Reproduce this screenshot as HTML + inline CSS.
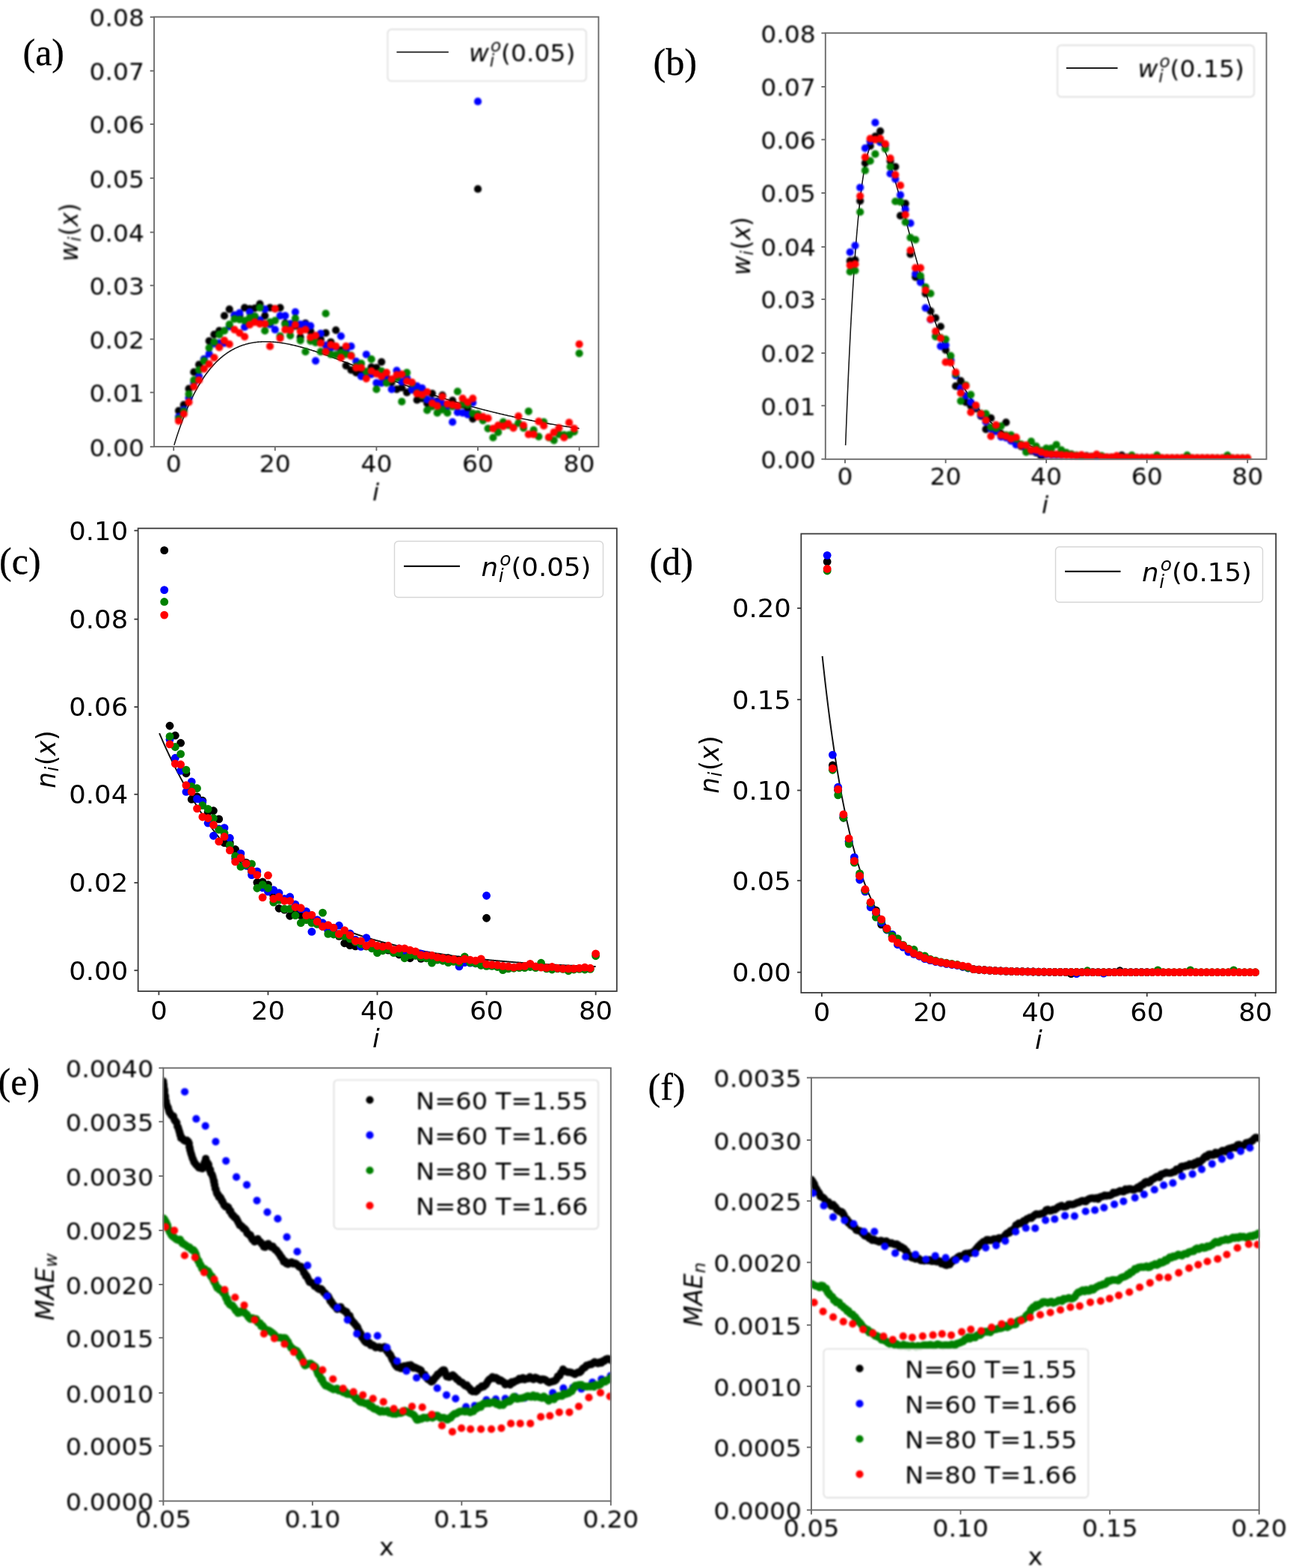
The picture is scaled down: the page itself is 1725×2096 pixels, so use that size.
<!DOCTYPE html>
<html lang="en"><head><meta charset="utf-8"><title>Figure</title>
<style>
html,body{margin:0;padding:0;background:#fff;}
body{width:1725px;height:2096px;overflow:hidden;}
svg{display:block;}
text{white-space:pre;}
</style></head><body>
<svg xmlns="http://www.w3.org/2000/svg" width="1725" height="2096" viewBox="0 0 1725 2096">
<rect width="1725" height="2096" fill="#fff"/>
<defs>
<clipPath id="c0"><rect x="206.1" y="22.6" width="594.3" height="574.5"/></clipPath>
<filter id="bl0" x="-5%" y="-5%" width="110%" height="110%" color-interpolation-filters="sRGB"><feGaussianBlur stdDeviation="0.8"/></filter>
<clipPath id="c1"><rect x="1103.8" y="44.2" width="589.7" height="569.6"/></clipPath>
<filter id="bl1" x="-5%" y="-5%" width="110%" height="110%" color-interpolation-filters="sRGB"><feGaussianBlur stdDeviation="0.8"/></filter>
<clipPath id="c2"><rect x="184.65" y="706.3" width="640.15" height="618.7"/></clipPath>
<clipPath id="c3"><rect x="1071.3" y="713.5" width="634.9" height="613.5"/></clipPath>
<clipPath id="c4"><rect x="218.4" y="1427.6" width="598.4" height="578.9"/></clipPath>
<filter id="bl4" x="-5%" y="-5%" width="110%" height="110%" color-interpolation-filters="sRGB"><feGaussianBlur stdDeviation="0.8"/></filter>
<clipPath id="c5"><rect x="1084.9" y="1440.6" width="598.8" height="577.9"/></clipPath>
<filter id="bl5" x="-5%" y="-5%" width="110%" height="110%" color-interpolation-filters="sRGB"><feGaussianBlur stdDeviation="0.8"/></filter>
</defs>
<path d="M232.88 594.95 L234.23 590.54 L235.59 586.24 L236.94 582.05 L238.3 577.98 L239.65 574.01 L241 570.14 L242.36 566.38 L243.71 562.71 L245.07 559.14 L246.42 555.66 L247.78 552.28 L249.13 548.99 L250.48 545.78 L251.84 542.67 L253.19 539.63 L254.55 536.68 L255.9 533.81 L257.26 531.01 L258.61 528.29 L259.96 525.65 L261.32 523.08 L262.67 520.59 L264.03 518.16 L265.38 515.8 L266.74 513.51 L268.09 511.28 L269.44 509.12 L270.8 507.02 L272.15 504.98 L273.51 503 L274.86 501.07 L276.22 499.21 L277.57 497.4 L278.92 495.65 L280.28 493.95 L281.63 492.3 L282.99 490.7 L284.34 489.15 L285.7 487.66 L287.05 486.21 L288.4 484.8 L289.76 483.44 L291.11 482.13 L292.47 480.86 L293.82 479.63 L295.18 478.45 L296.53 477.3 L297.88 476.2 L299.24 475.14 L300.59 474.11 L301.95 473.12 L303.3 472.17 L304.66 471.25 L306.01 470.37 L307.36 469.52 L308.72 468.71 L310.07 467.93 L311.43 467.18 L312.78 466.47 L314.14 465.78 L315.49 465.13 L316.84 464.5 L318.2 463.9 L319.55 463.34 L320.91 462.8 L322.26 462.28 L323.62 461.79 L324.97 461.33 L326.33 460.9 L327.68 460.49 L329.03 460.1 L330.39 459.74 L331.74 459.4 L333.1 459.08 L334.45 458.78 L335.81 458.51 L337.16 458.26 L338.51 458.03 L339.87 457.82 L341.22 457.63 L342.58 457.45 L343.93 457.3 L345.29 457.17 L346.64 457.05 L347.99 456.95 L349.35 456.87 L350.7 456.81 L352.06 456.76 L353.41 456.73 L354.77 456.72 L356.12 456.72 L357.47 456.74 L358.83 456.77 L360.18 456.82 L361.54 456.88 L362.89 456.95 L364.25 457.04 L365.6 457.14 L366.95 457.25 L368.31 457.38 L369.66 457.52 L371.02 457.67 L372.37 457.83 L373.73 458 L375.08 458.19 L376.43 458.39 L377.79 458.59 L379.14 458.81 L380.5 459.04 L381.85 459.28 L383.21 459.53 L384.56 459.78 L385.91 460.05 L387.27 460.32 L388.62 460.61 L389.98 460.9 L391.33 461.2 L392.69 461.51 L394.04 461.83 L395.39 462.15 L396.75 462.49 L398.1 462.83 L399.46 463.17 L400.81 463.53 L402.17 463.89 L403.52 464.26 L404.87 464.63 L406.23 465.01 L407.58 465.4 L408.94 465.79 L410.29 466.19 L411.65 466.59 L413 467 L414.35 467.41 L415.71 467.83 L417.06 468.25 L418.42 468.68 L419.77 469.12 L421.13 469.56 L422.48 470 L423.84 470.44 L425.19 470.89 L426.54 471.35 L427.9 471.81 L429.25 472.27 L430.61 472.74 L431.96 473.21 L433.32 473.68 L434.67 474.15 L436.02 474.63 L437.38 475.12 L438.73 475.6 L440.09 476.09 L441.44 476.58 L442.8 477.07 L444.15 477.57 L445.5 478.06 L446.86 478.56 L448.21 479.07 L449.57 479.57 L450.92 480.08 L452.28 480.58 L453.63 481.09 L454.98 481.6 L456.34 482.12 L457.69 482.63 L459.05 483.15 L460.4 483.67 L461.76 484.18 L463.11 484.7 L464.46 485.22 L465.82 485.75 L467.17 486.27 L468.53 486.79 L469.88 487.32 L471.24 487.84 L472.59 488.37 L473.94 488.89 L475.3 489.42 L476.65 489.95 L478.01 490.48 L479.36 491.01 L480.72 491.53 L482.07 492.06 L483.42 492.59 L484.78 493.12 L486.13 493.65 L487.49 494.18 L488.84 494.71 L490.2 495.24 L491.55 495.77 L492.9 496.29 L494.26 496.82 L495.61 497.35 L496.97 497.88 L498.32 498.4 L499.68 498.93 L501.03 499.46 L502.38 499.98 L503.74 500.51 L505.09 501.03 L506.45 501.56 L507.8 502.08 L509.16 502.6 L510.51 503.12 L511.86 503.64 L513.22 504.16 L514.57 504.68 L515.93 505.2 L517.28 505.72 L518.64 506.23 L519.99 506.75 L521.34 507.26 L522.7 507.78 L524.05 508.29 L525.41 508.8 L526.76 509.31 L528.12 509.82 L529.47 510.32 L530.83 510.83 L532.18 511.33 L533.53 511.83 L534.89 512.34 L536.24 512.84 L537.6 513.34 L538.95 513.83 L540.31 514.33 L541.66 514.82 L543.01 515.32 L544.37 515.81 L545.72 516.3 L547.08 516.79 L548.43 517.27 L549.79 517.76 L551.14 518.24 L552.49 518.72 L553.85 519.21 L555.2 519.68 L556.56 520.16 L557.91 520.64 L559.27 521.11 L560.62 521.58 L561.97 522.05 L563.33 522.52 L564.68 522.99 L566.04 523.45 L567.39 523.92 L568.75 524.38 L570.1 524.84 L571.45 525.3 L572.81 525.75 L574.16 526.21 L575.52 526.66 L576.87 527.11 L578.23 527.56 L579.58 528.01 L580.93 528.45 L582.29 528.89 L583.64 529.33 L585 529.77 L586.35 530.21 L587.71 530.65 L589.06 531.08 L590.41 531.51 L591.77 531.94 L593.12 532.37 L594.48 532.8 L595.83 533.22 L597.19 533.64 L598.54 534.06 L599.89 534.48 L601.25 534.9 L602.6 535.31 L603.96 535.72 L605.31 536.13 L606.67 536.54 L608.02 536.95 L609.37 537.35 L610.73 537.75 L612.08 538.15 L613.44 538.55 L614.79 538.95 L616.15 539.34 L617.5 539.74 L618.85 540.13 L620.21 540.51 L621.56 540.9 L622.92 541.28 L624.27 541.67 L625.63 542.05 L626.98 542.43 L628.34 542.8 L629.69 543.18 L631.04 543.55 L632.4 543.92 L633.75 544.29 L635.11 544.66 L636.46 545.02 L637.82 545.38 L639.17 545.74 L640.52 546.1 L641.88 546.46 L643.23 546.81 L644.59 547.17 L645.94 547.52 L647.3 547.87 L648.65 548.21 L650 548.56 L651.36 548.9 L652.71 549.24 L654.07 549.58 L655.42 549.92 L656.78 550.26 L658.13 550.59 L659.48 550.92 L660.84 551.25 L662.19 551.58 L663.55 551.9 L664.9 552.23 L666.26 552.55 L667.61 552.87 L668.96 553.19 L670.32 553.51 L671.67 553.82 L673.03 554.13 L674.38 554.44 L675.74 554.75 L677.09 555.06 L678.44 555.36 L679.8 555.67 L681.15 555.97 L682.51 556.27 L683.86 556.57 L685.22 556.86 L686.57 557.16 L687.92 557.45 L689.28 557.74 L690.63 558.03 L691.99 558.32 L693.34 558.6 L694.7 558.89 L696.05 559.17 L697.4 559.45 L698.76 559.73 L700.11 560 L701.47 560.28 L702.82 560.55 L704.18 560.82 L705.53 561.09 L706.88 561.36 L708.24 561.63 L709.59 561.89 L710.95 562.15 L712.3 562.42 L713.66 562.68 L715.01 562.93 L716.36 563.19 L717.72 563.44 L719.07 563.7 L720.43 563.95 L721.78 564.2 L723.14 564.45 L724.49 564.69 L725.85 564.94 L727.2 565.18 L728.55 565.42 L729.91 565.66 L731.26 565.9 L732.62 566.14 L733.97 566.37 L735.33 566.61 L736.68 566.84 L738.03 567.07 L739.39 567.3 L740.74 567.52 L742.1 567.75 L743.45 567.97 L744.81 568.2 L746.16 568.42 L747.51 568.64 L748.87 568.86 L750.22 569.07 L751.58 569.29 L752.93 569.5 L754.29 569.72 L755.64 569.93 L756.99 570.14 L758.35 570.35 L759.7 570.55 L761.06 570.76 L762.41 570.96 L763.77 571.16 L765.12 571.37 L766.47 571.57 L767.83 571.76 L769.18 571.96 L770.54 572.16 L771.89 572.35 L773.25 572.54 L774.6 572.74" fill="none" stroke="#1c1c1c" stroke-width="1.6" stroke-linejoin="round" clip-path="url(#c0)"/>
<g id="panel-a" filter="url(#bl0)">
<g clip-path="url(#c0)">
<g fill="#000000">
<circle cx="238.98" cy="549.11" r="5.1"/><circle cx="245.76" cy="541.21" r="5.1"/><circle cx="252.54" cy="519.68" r="5.1"/><circle cx="259.32" cy="497.43" r="5.1"/><circle cx="266.1" cy="487.38" r="5.1"/><circle cx="272.88" cy="480.2" r="5.1"/><circle cx="279.66" cy="455.79" r="5.1"/><circle cx="286.44" cy="447.18" r="5.1"/><circle cx="293.22" cy="442.16" r="5.1"/><circle cx="300" cy="422.06" r="5.1"/><circle cx="306.78" cy="413.44" r="5.1"/><circle cx="313.56" cy="421.34" r="5.1"/><circle cx="320.34" cy="421.34" r="5.1"/><circle cx="327.12" cy="411.29" r="5.1"/><circle cx="333.9" cy="412.73" r="5.1"/><circle cx="340.68" cy="412.01" r="5.1"/><circle cx="347.46" cy="406.27" r="5.1"/><circle cx="354.24" cy="422.06" r="5.1"/><circle cx="361.02" cy="411.29" r="5.1"/><circle cx="367.8" cy="412.73" r="5.1"/><circle cx="374.58" cy="411.29" r="5.1"/><circle cx="381.36" cy="432.11" r="5.1"/><circle cx="388.14" cy="439.28" r="5.1"/><circle cx="394.92" cy="435.7" r="5.1"/><circle cx="401.7" cy="450.77" r="5.1"/><circle cx="408.48" cy="432.11" r="5.1"/><circle cx="415.26" cy="442.87" r="5.1"/><circle cx="422.04" cy="450.05" r="5.1"/><circle cx="428.82" cy="453.64" r="5.1"/><circle cx="435.6" cy="445.03" r="5.1"/><circle cx="442.38" cy="457.23" r="5.1"/><circle cx="449.16" cy="441.44" r="5.1"/><circle cx="455.94" cy="468" r="5.1"/><circle cx="462.72" cy="488.81" r="5.1"/><circle cx="469.5" cy="494.55" r="5.1"/><circle cx="476.28" cy="498.14" r="5.1"/><circle cx="483.06" cy="495.27" r="5.1"/><circle cx="489.84" cy="500.3" r="5.1"/><circle cx="496.62" cy="490.97" r="5.1"/><circle cx="503.4" cy="491.68" r="5.1"/><circle cx="510.18" cy="483.79" r="5.1"/><circle cx="516.96" cy="505.32" r="5.1"/><circle cx="523.74" cy="511.06" r="5.1"/><circle cx="530.52" cy="520.4" r="5.1"/><circle cx="537.3" cy="518.24" r="5.1"/><circle cx="544.08" cy="524.7" r="5.1"/><circle cx="550.86" cy="519.68" r="5.1"/><circle cx="557.64" cy="534.75" r="5.1"/><circle cx="564.42" cy="532.6" r="5.1"/><circle cx="571.2" cy="539.06" r="5.1"/><circle cx="577.98" cy="526.14" r="5.1"/><circle cx="584.76" cy="536.19" r="5.1"/><circle cx="591.54" cy="528.29" r="5.1"/><circle cx="598.32" cy="539.78" r="5.1"/><circle cx="605.1" cy="535.47" r="5.1"/><circle cx="611.88" cy="543.37" r="5.1"/><circle cx="618.66" cy="541.21" r="5.1"/><circle cx="625.44" cy="545.52" r="5.1"/><circle cx="632.22" cy="559.87" r="5.1"/><circle cx="639" cy="252.66" r="5.1"/>
</g>
<g fill="#0000ff">
<circle cx="238.98" cy="557" r="5.1"/><circle cx="245.76" cy="547.67" r="5.1"/><circle cx="252.54" cy="531.88" r="5.1"/><circle cx="259.32" cy="511.78" r="5.1"/><circle cx="266.1" cy="503.17" r="5.1"/><circle cx="272.88" cy="480.2" r="5.1"/><circle cx="279.66" cy="473.02" r="5.1"/><circle cx="286.44" cy="459.38" r="5.1"/><circle cx="293.22" cy="458.66" r="5.1"/><circle cx="300" cy="458.66" r="5.1"/><circle cx="306.78" cy="436.41" r="5.1"/><circle cx="313.56" cy="421.34" r="5.1"/><circle cx="320.34" cy="418.47" r="5.1"/><circle cx="327.12" cy="437.13" r="5.1"/><circle cx="333.9" cy="417.03" r="5.1"/><circle cx="340.68" cy="422.77" r="5.1"/><circle cx="347.46" cy="427.8" r="5.1"/><circle cx="354.24" cy="413.44" r="5.1"/><circle cx="361.02" cy="433.54" r="5.1"/><circle cx="367.8" cy="440.72" r="5.1"/><circle cx="374.58" cy="422.06" r="5.1"/><circle cx="381.36" cy="422.06" r="5.1"/><circle cx="388.14" cy="432.82" r="5.1"/><circle cx="394.92" cy="417.03" r="5.1"/><circle cx="401.7" cy="433.54" r="5.1"/><circle cx="408.48" cy="433.54" r="5.1"/><circle cx="415.26" cy="435.7" r="5.1"/><circle cx="422.04" cy="482.35" r="5.1"/><circle cx="428.82" cy="445.74" r="5.1"/><circle cx="435.6" cy="461.54" r="5.1"/><circle cx="442.38" cy="465.12" r="5.1"/><circle cx="449.16" cy="463.69" r="5.1"/><circle cx="455.94" cy="449.33" r="5.1"/><circle cx="462.72" cy="468" r="5.1"/><circle cx="469.5" cy="462.97" r="5.1"/><circle cx="476.28" cy="483.07" r="5.1"/><circle cx="483.06" cy="503.17" r="5.1"/><circle cx="489.84" cy="473.74" r="5.1"/><circle cx="496.62" cy="500.3" r="5.1"/><circle cx="503.4" cy="511.78" r="5.1"/><circle cx="510.18" cy="511.78" r="5.1"/><circle cx="516.96" cy="507.48" r="5.1"/><circle cx="523.74" cy="520.4" r="5.1"/><circle cx="530.52" cy="495.27" r="5.1"/><circle cx="537.3" cy="510.35" r="5.1"/><circle cx="544.08" cy="505.32" r="5.1"/><circle cx="550.86" cy="521.11" r="5.1"/><circle cx="557.64" cy="516.09" r="5.1"/><circle cx="564.42" cy="518.96" r="5.1"/><circle cx="571.2" cy="534.03" r="5.1"/><circle cx="577.98" cy="536.19" r="5.1"/><circle cx="584.76" cy="537.62" r="5.1"/><circle cx="591.54" cy="539.78" r="5.1"/><circle cx="598.32" cy="543.37" r="5.1"/><circle cx="605.1" cy="564.18" r="5.1"/><circle cx="611.88" cy="551.26" r="5.1"/><circle cx="618.66" cy="551.98" r="5.1"/><circle cx="625.44" cy="554.13" r="5.1"/><circle cx="632.22" cy="538.34" r="5.1"/><circle cx="639" cy="135.65" r="5.1"/>
</g>
<g fill="#008000">
<circle cx="238.98" cy="559.87" r="5.1"/><circle cx="245.76" cy="549.83" r="5.1"/><circle cx="252.54" cy="526.86" r="5.1"/><circle cx="259.32" cy="508.19" r="5.1"/><circle cx="266.1" cy="494.55" r="5.1"/><circle cx="272.88" cy="482.35" r="5.1"/><circle cx="279.66" cy="465.12" r="5.1"/><circle cx="286.44" cy="457.23" r="5.1"/><circle cx="293.22" cy="447.18" r="5.1"/><circle cx="300" cy="442.16" r="5.1"/><circle cx="306.78" cy="433.54" r="5.1"/><circle cx="313.56" cy="426.36" r="5.1"/><circle cx="320.34" cy="427.08" r="5.1"/><circle cx="327.12" cy="428.52" r="5.1"/><circle cx="333.9" cy="424.93" r="5.1"/><circle cx="340.68" cy="422.77" r="5.1"/><circle cx="347.46" cy="411.29" r="5.1"/><circle cx="354.24" cy="442.16" r="5.1"/><circle cx="361.02" cy="430.67" r="5.1"/><circle cx="367.8" cy="428.52" r="5.1"/><circle cx="374.58" cy="449.33" r="5.1"/><circle cx="381.36" cy="433.54" r="5.1"/><circle cx="388.14" cy="448.62" r="5.1"/><circle cx="394.92" cy="425.65" r="5.1"/><circle cx="401.7" cy="455.08" r="5.1"/><circle cx="408.48" cy="470.15" r="5.1"/><circle cx="415.26" cy="455.79" r="5.1"/><circle cx="422.04" cy="457.95" r="5.1"/><circle cx="428.82" cy="470.15" r="5.1"/><circle cx="435.6" cy="419.19" r="5.1"/><circle cx="442.38" cy="473.74" r="5.1"/><circle cx="449.16" cy="474.46" r="5.1"/><circle cx="455.94" cy="471.59" r="5.1"/><circle cx="462.72" cy="473.74" r="5.1"/><circle cx="469.5" cy="475.17" r="5.1"/><circle cx="476.28" cy="489.53" r="5.1"/><circle cx="483.06" cy="485.94" r="5.1"/><circle cx="489.84" cy="496.71" r="5.1"/><circle cx="496.62" cy="480.2" r="5.1"/><circle cx="503.4" cy="520.4" r="5.1"/><circle cx="510.18" cy="495.99" r="5.1"/><circle cx="516.96" cy="511.78" r="5.1"/><circle cx="523.74" cy="507.48" r="5.1"/><circle cx="530.52" cy="505.32" r="5.1"/><circle cx="537.3" cy="536.9" r="5.1"/><circle cx="544.08" cy="498.14" r="5.1"/><circle cx="550.86" cy="512.5" r="5.1"/><circle cx="557.64" cy="525.42" r="5.1"/><circle cx="564.42" cy="529.01" r="5.1"/><circle cx="571.2" cy="548.39" r="5.1"/><circle cx="577.98" cy="543.37" r="5.1"/><circle cx="584.76" cy="551.98" r="5.1"/><circle cx="591.54" cy="547.67" r="5.1"/><circle cx="598.32" cy="551.98" r="5.1"/><circle cx="605.1" cy="543.37" r="5.1"/><circle cx="611.88" cy="523.27" r="5.1"/><circle cx="618.66" cy="539.78" r="5.1"/><circle cx="625.44" cy="541.21" r="5.1"/><circle cx="632.22" cy="552.7" r="5.1"/><circle cx="639" cy="553.41" r="5.1"/><circle cx="645.78" cy="562.03" r="5.1"/><circle cx="652.56" cy="572.79" r="5.1"/><circle cx="659.34" cy="585" r="5.1"/><circle cx="666.12" cy="577.82" r="5.1"/><circle cx="672.9" cy="564.18" r="5.1"/><circle cx="679.68" cy="568.49" r="5.1"/><circle cx="686.46" cy="571.36" r="5.1"/><circle cx="693.24" cy="565.62" r="5.1"/><circle cx="700.02" cy="572.08" r="5.1"/><circle cx="706.8" cy="549.83" r="5.1"/><circle cx="713.58" cy="574.95" r="5.1"/><circle cx="720.36" cy="583.56" r="5.1"/><circle cx="727.14" cy="564.18" r="5.1"/><circle cx="733.92" cy="585" r="5.1"/><circle cx="740.7" cy="588.59" r="5.1"/><circle cx="747.48" cy="580.69" r="5.1"/><circle cx="754.26" cy="581.41" r="5.1"/><circle cx="761.04" cy="581.41" r="5.1"/><circle cx="767.82" cy="577.1" r="5.1"/><circle cx="774.6" cy="472.3" r="5.1"/>
</g>
<g fill="#ff0000">
<circle cx="238.98" cy="562.75" r="5.1"/><circle cx="245.76" cy="553.41" r="5.1"/><circle cx="252.54" cy="537.62" r="5.1"/><circle cx="259.32" cy="516.81" r="5.1"/><circle cx="266.1" cy="508.19" r="5.1"/><circle cx="272.88" cy="493.12" r="5.1"/><circle cx="279.66" cy="486.66" r="5.1"/><circle cx="286.44" cy="478.05" r="5.1"/><circle cx="293.22" cy="464.41" r="5.1"/><circle cx="300" cy="455.08" r="5.1"/><circle cx="306.78" cy="460.1" r="5.1"/><circle cx="313.56" cy="440.72" r="5.1"/><circle cx="320.34" cy="445.03" r="5.1"/><circle cx="327.12" cy="450.05" r="5.1"/><circle cx="333.9" cy="434.26" r="5.1"/><circle cx="340.68" cy="430.67" r="5.1"/><circle cx="347.46" cy="432.82" r="5.1"/><circle cx="354.24" cy="432.82" r="5.1"/><circle cx="361.02" cy="462.97" r="5.1"/><circle cx="367.8" cy="412.73" r="5.1"/><circle cx="374.58" cy="452.2" r="5.1"/><circle cx="381.36" cy="440.72" r="5.1"/><circle cx="388.14" cy="441.44" r="5.1"/><circle cx="394.92" cy="434.26" r="5.1"/><circle cx="401.7" cy="442.87" r="5.1"/><circle cx="408.48" cy="440.72" r="5.1"/><circle cx="415.26" cy="450.77" r="5.1"/><circle cx="422.04" cy="448.62" r="5.1"/><circle cx="428.82" cy="458.66" r="5.1"/><circle cx="435.6" cy="470.15" r="5.1"/><circle cx="442.38" cy="460.82" r="5.1"/><circle cx="449.16" cy="462.97" r="5.1"/><circle cx="455.94" cy="478.05" r="5.1"/><circle cx="462.72" cy="462.97" r="5.1"/><circle cx="469.5" cy="475.89" r="5.1"/><circle cx="476.28" cy="491.68" r="5.1"/><circle cx="483.06" cy="491.68" r="5.1"/><circle cx="489.84" cy="506.04" r="5.1"/><circle cx="496.62" cy="495.99" r="5.1"/><circle cx="503.4" cy="499.58" r="5.1"/><circle cx="510.18" cy="503.17" r="5.1"/><circle cx="516.96" cy="498.14" r="5.1"/><circle cx="523.74" cy="506.76" r="5.1"/><circle cx="530.52" cy="501.01" r="5.1"/><circle cx="537.3" cy="500.3" r="5.1"/><circle cx="544.08" cy="509.63" r="5.1"/><circle cx="550.86" cy="511.06" r="5.1"/><circle cx="557.64" cy="526.14" r="5.1"/><circle cx="564.42" cy="527.57" r="5.1"/><circle cx="571.2" cy="523.98" r="5.1"/><circle cx="577.98" cy="539.06" r="5.1"/><circle cx="584.76" cy="542.65" r="5.1"/><circle cx="591.54" cy="530.44" r="5.1"/><circle cx="598.32" cy="539.78" r="5.1"/><circle cx="605.1" cy="541.21" r="5.1"/><circle cx="611.88" cy="542.65" r="5.1"/><circle cx="618.66" cy="532.6" r="5.1"/><circle cx="625.44" cy="537.62" r="5.1"/><circle cx="632.22" cy="532.6" r="5.1"/><circle cx="639" cy="557" r="5.1"/><circle cx="645.78" cy="557" r="5.1"/><circle cx="652.56" cy="559.16" r="5.1"/><circle cx="659.34" cy="572.79" r="5.1"/><circle cx="666.12" cy="568.49" r="5.1"/><circle cx="672.9" cy="569.92" r="5.1"/><circle cx="679.68" cy="566.33" r="5.1"/><circle cx="686.46" cy="572.08" r="5.1"/><circle cx="693.24" cy="556.29" r="5.1"/><circle cx="700.02" cy="568.49" r="5.1"/><circle cx="706.8" cy="580.69" r="5.1"/><circle cx="713.58" cy="580.69" r="5.1"/><circle cx="720.36" cy="563.46" r="5.1"/><circle cx="727.14" cy="569.21" r="5.1"/><circle cx="733.92" cy="584.28" r="5.1"/><circle cx="740.7" cy="577.82" r="5.1"/><circle cx="747.48" cy="572.08" r="5.1"/><circle cx="754.26" cy="585" r="5.1"/><circle cx="761.04" cy="564.9" r="5.1"/><circle cx="767.82" cy="572.79" r="5.1"/><circle cx="774.6" cy="460.1" r="5.1"/>
</g>
</g>
<text transform="translate(232.2,631.1) scale(1.035,1)" font-family='"DejaVu Sans", "Liberation Sans", sans-serif' font-size="31.9" text-anchor="middle" fill="#000">0</text>
<text transform="translate(367.8,631.1) scale(1.035,1)" font-family='"DejaVu Sans", "Liberation Sans", sans-serif' font-size="31.9" text-anchor="middle" fill="#000">20</text>
<text transform="translate(503.4,631.1) scale(1.035,1)" font-family='"DejaVu Sans", "Liberation Sans", sans-serif' font-size="31.9" text-anchor="middle" fill="#000">40</text>
<text transform="translate(639,631.1) scale(1.035,1)" font-family='"DejaVu Sans", "Liberation Sans", sans-serif' font-size="31.9" text-anchor="middle" fill="#000">60</text>
<text transform="translate(774.6,631.1) scale(1.035,1)" font-family='"DejaVu Sans", "Liberation Sans", sans-serif' font-size="31.9" text-anchor="middle" fill="#000">80</text>
<text transform="translate(193.1,609.51) scale(1.035,1)" font-family='"DejaVu Sans", "Liberation Sans", sans-serif' font-size="31.9" text-anchor="end" fill="#000">0.00</text>
<text transform="translate(193.1,536.91) scale(1.035,1)" font-family='"DejaVu Sans", "Liberation Sans", sans-serif' font-size="31.9" text-anchor="end" fill="#000">0.01</text>
<text transform="translate(193.1,465.71) scale(1.035,1)" font-family='"DejaVu Sans", "Liberation Sans", sans-serif' font-size="31.9" text-anchor="end" fill="#000">0.02</text>
<text transform="translate(193.1,393.91) scale(1.035,1)" font-family='"DejaVu Sans", "Liberation Sans", sans-serif' font-size="31.9" text-anchor="end" fill="#000">0.03</text>
<text transform="translate(193.1,322.81) scale(1.035,1)" font-family='"DejaVu Sans", "Liberation Sans", sans-serif' font-size="31.9" text-anchor="end" fill="#000">0.04</text>
<text transform="translate(193.1,250.51) scale(1.035,1)" font-family='"DejaVu Sans", "Liberation Sans", sans-serif' font-size="31.9" text-anchor="end" fill="#000">0.05</text>
<text transform="translate(193.1,178.31) scale(1.035,1)" font-family='"DejaVu Sans", "Liberation Sans", sans-serif' font-size="31.9" text-anchor="end" fill="#000">0.06</text>
<text transform="translate(193.1,107.01) scale(1.035,1)" font-family='"DejaVu Sans", "Liberation Sans", sans-serif' font-size="31.9" text-anchor="end" fill="#000">0.07</text>
<text transform="translate(193.1,35.11) scale(1.035,1)" font-family='"DejaVu Sans", "Liberation Sans", sans-serif' font-size="31.9" text-anchor="end" fill="#000">0.08</text>
<g transform="translate(104,349.46) rotate(-90) scale(0.966,1)"><text font-family='"DejaVu Sans", "Liberation Sans", sans-serif' font-size="33" x="0" y="0" font-style="italic">w</text><text font-family='"DejaVu Sans", "Liberation Sans", sans-serif' font-size="23.1" x="27.65" y="3.96" font-style="italic">i</text><text font-family='"DejaVu Sans", "Liberation Sans", sans-serif' font-size="33" x="35.4" y="0">(<tspan font-style="italic">x</tspan>)</text></g>
<text transform="translate(502.5,669) scale(1.035,1)" font-family='"DejaVu Sans", "Liberation Sans", sans-serif' font-size="31.9" text-anchor="middle" font-style="italic" fill="#000">i</text>
<rect x="518.4" y="39.3" width="265.5" height="69.1" rx="5" ry="5" fill="#fff" fill-opacity="0.8" stroke="#cccccc" stroke-opacity="0.8" stroke-width="1.4"/>
<g transform="translate(627,81.5) scale(1.035,1)"><text font-family='"DejaVu Sans", "Liberation Sans", sans-serif' font-size="31.9" x="0" y="0" font-style="italic">w</text><text font-family='"DejaVu Sans", "Liberation Sans", sans-serif' font-size="22.33" x="26.73" y="7.97" font-style="italic">i</text><text font-family='"DejaVu Sans", "Liberation Sans", sans-serif' font-size="22.33" x="28.01" y="-12.76" font-style="italic">o</text><text font-family='"DejaVu Sans", "Liberation Sans", sans-serif' font-size="31.9" x="41.67" y="0">(0.05)</text></g>
</g>
<line x1="530.4" y1="69.6" x2="599.8" y2="69.6" stroke="#1c1c1c" stroke-width="1.9"/>
<rect x="206.1" y="22.6" width="594.3" height="574.5" fill="none" stroke="#6c6c6c" stroke-width="1.9"/>
<line x1="232.2" y1="597.1" x2="232.2" y2="602.5" stroke="#6c6c6c" stroke-width="1.9"/>
<line x1="367.8" y1="597.1" x2="367.8" y2="602.5" stroke="#6c6c6c" stroke-width="1.9"/>
<line x1="503.4" y1="597.1" x2="503.4" y2="602.5" stroke="#6c6c6c" stroke-width="1.9"/>
<line x1="639" y1="597.1" x2="639" y2="602.5" stroke="#6c6c6c" stroke-width="1.9"/>
<line x1="774.6" y1="597.1" x2="774.6" y2="602.5" stroke="#6c6c6c" stroke-width="1.9"/>
<line x1="200.7" y1="597.2" x2="206.1" y2="597.2" stroke="#6c6c6c" stroke-width="1.9"/>
<line x1="200.7" y1="524.6" x2="206.1" y2="524.6" stroke="#6c6c6c" stroke-width="1.9"/>
<line x1="200.7" y1="453.4" x2="206.1" y2="453.4" stroke="#6c6c6c" stroke-width="1.9"/>
<line x1="200.7" y1="381.6" x2="206.1" y2="381.6" stroke="#6c6c6c" stroke-width="1.9"/>
<line x1="200.7" y1="310.5" x2="206.1" y2="310.5" stroke="#6c6c6c" stroke-width="1.9"/>
<line x1="200.7" y1="238.2" x2="206.1" y2="238.2" stroke="#6c6c6c" stroke-width="1.9"/>
<line x1="200.7" y1="166" x2="206.1" y2="166" stroke="#6c6c6c" stroke-width="1.9"/>
<line x1="200.7" y1="94.7" x2="206.1" y2="94.7" stroke="#6c6c6c" stroke-width="1.9"/>
<line x1="200.7" y1="22.8" x2="206.1" y2="22.8" stroke="#6c6c6c" stroke-width="1.9"/>
<text transform="translate(30.5,86.8) scale(1.0,1)" font-family='"Liberation Serif", "DejaVu Serif", serif' font-size="50" text-anchor="start" fill="#000" stroke="#000" stroke-width="0.3">(a)</text>
<path d="M1130.67 595.16 L1132.02 559.91 L1133.36 526.94 L1134.7 496.12 L1136.05 467.36 L1137.39 440.56 L1138.74 415.61 L1140.08 392.44 L1141.42 370.95 L1142.77 351.06 L1144.11 332.69 L1145.45 315.76 L1146.8 300.2 L1148.14 285.94 L1149.49 272.9 L1150.83 261.04 L1152.17 250.28 L1153.52 240.56 L1154.86 231.84 L1156.21 224.06 L1157.55 217.16 L1158.89 211.1 L1160.24 205.84 L1161.58 201.32 L1162.92 197.5 L1164.27 194.35 L1165.61 191.83 L1166.96 189.89 L1168.3 188.51 L1169.64 187.65 L1170.99 187.28 L1172.33 187.36 L1173.67 187.88 L1175.02 188.8 L1176.36 190.09 L1177.71 191.74 L1179.05 193.71 L1180.39 195.98 L1181.74 198.54 L1183.08 201.37 L1184.43 204.43 L1185.77 207.72 L1187.11 211.22 L1188.46 214.91 L1189.8 218.77 L1191.14 222.8 L1192.49 226.96 L1193.83 231.27 L1195.18 235.69 L1196.52 240.22 L1197.86 244.84 L1199.21 249.55 L1200.55 254.34 L1201.9 259.19 L1203.24 264.1 L1204.58 269.06 L1205.93 274.06 L1207.27 279.09 L1208.61 284.14 L1209.96 289.21 L1211.3 294.3 L1212.65 299.39 L1213.99 304.48 L1215.33 309.57 L1216.68 314.65 L1218.02 319.71 L1219.36 324.76 L1220.71 329.78 L1222.05 334.78 L1223.4 339.75 L1224.74 344.68 L1226.08 349.58 L1227.43 354.44 L1228.77 359.26 L1230.12 364.04 L1231.46 368.77 L1232.8 373.45 L1234.15 378.08 L1235.49 382.67 L1236.83 387.2 L1238.18 391.67 L1239.52 396.1 L1240.87 400.46 L1242.21 404.77 L1243.55 409.02 L1244.9 413.22 L1246.24 417.35 L1247.58 421.42 L1248.93 425.44 L1250.27 429.39 L1251.62 433.29 L1252.96 437.12 L1254.3 440.89 L1255.65 444.6 L1256.99 448.25 L1258.34 451.84 L1259.68 455.37 L1261.02 458.84 L1262.37 462.25 L1263.71 465.6 L1265.05 468.89 L1266.4 472.12 L1267.74 475.29 L1269.09 478.41 L1270.43 481.46 L1271.77 484.46 L1273.12 487.4 L1274.46 490.29 L1275.81 493.12 L1277.15 495.9 L1278.49 498.62 L1279.84 501.28 L1281.18 503.9 L1282.52 506.46 L1283.87 508.97 L1285.21 511.43 L1286.56 513.84 L1287.9 516.2 L1289.24 518.51 L1290.59 520.78 L1291.93 522.99 L1293.27 525.16 L1294.62 527.28 L1295.96 529.36 L1297.31 531.39 L1298.65 533.38 L1299.99 535.33 L1301.34 537.23 L1302.68 539.09 L1304.03 540.91 L1305.37 542.7 L1306.71 544.44 L1308.06 546.14 L1309.4 547.8 L1310.74 549.43 L1312.09 551.02 L1313.43 552.58 L1314.78 554.09 L1316.12 555.58 L1317.46 557.03 L1318.81 558.45 L1320.15 559.83 L1321.49 561.18 L1322.84 562.5 L1324.18 563.79 L1325.53 565.05 L1326.87 566.28 L1328.21 567.48 L1329.56 568.66 L1330.9 569.8 L1332.25 570.92 L1333.59 572.01 L1334.93 573.08 L1336.28 574.12 L1337.62 575.13 L1338.96 576.12 L1340.31 577.09 L1341.65 578.03 L1343 578.95 L1344.34 579.85 L1345.68 580.72 L1347.03 581.58 L1348.37 582.41 L1349.72 583.23 L1351.06 584.02 L1352.4 584.79 L1353.75 585.55 L1355.09 586.28 L1356.43 587 L1357.78 587.7 L1359.12 588.38 L1360.47 589.05 L1361.81 589.69 L1363.15 590.33 L1364.5 590.94 L1365.84 591.54 L1367.18 592.13 L1368.53 592.7 L1369.87 593.26 L1371.22 593.8 L1372.56 594.33 L1373.9 594.84 L1375.25 595.34 L1376.59 595.83 L1377.94 596.31 L1379.28 596.77 L1380.62 597.22 L1381.97 597.67 L1383.31 598.09 L1384.65 598.51 L1386 598.92 L1387.34 599.32 L1388.69 599.7 L1390.03 600.08 L1391.37 600.45 L1392.72 600.81 L1394.06 601.15 L1395.4 601.49 L1396.75 601.82 L1398.09 602.14 L1399.44 602.46 L1400.78 602.76 L1402.12 603.06 L1403.47 603.35 L1404.81 603.63 L1406.16 603.9 L1407.5 604.17 L1408.84 604.43 L1410.19 604.68 L1411.53 604.93 L1412.87 605.17 L1414.22 605.4 L1415.56 605.63 L1416.91 605.85 L1418.25 606.06 L1419.59 606.27 L1420.94 606.48 L1422.28 606.68 L1423.63 606.87 L1424.97 607.06 L1426.31 607.24 L1427.66 607.42 L1429 607.59 L1430.34 607.76 L1431.69 607.92 L1433.03 608.08 L1434.38 608.24 L1435.72 608.39 L1437.06 608.54 L1438.41 608.68 L1439.75 608.82 L1441.09 608.95 L1442.44 609.09 L1443.78 609.21 L1445.13 609.34 L1446.47 609.46 L1447.81 609.58 L1449.16 609.69 L1450.5 609.8 L1451.85 609.91 L1453.19 610.02 L1454.53 610.12 L1455.88 610.22 L1457.22 610.32 L1458.56 610.41 L1459.91 610.51 L1461.25 610.6 L1462.6 610.68 L1463.94 610.77 L1465.28 610.85 L1466.63 610.93 L1467.97 611.01 L1469.31 611.08 L1470.66 611.16 L1472 611.23 L1473.35 611.3 L1474.69 611.36 L1476.03 611.43 L1477.38 611.49 L1478.72 611.56 L1480.07 611.62 L1481.41 611.68 L1482.75 611.73 L1484.1 611.79 L1485.44 611.84 L1486.78 611.9 L1488.13 611.95 L1489.47 612 L1490.82 612.04 L1492.16 612.09 L1493.5 612.14 L1494.85 612.18 L1496.19 612.22 L1497.54 612.27 L1498.88 612.31 L1500.22 612.35 L1501.57 612.38 L1502.91 612.42 L1504.25 612.46 L1505.6 612.49 L1506.94 612.53 L1508.29 612.56 L1509.63 612.59 L1510.97 612.63 L1512.32 612.66 L1513.66 612.69 L1515 612.72 L1516.35 612.74 L1517.69 612.77 L1519.04 612.8 L1520.38 612.82 L1521.72 612.85 L1523.07 612.87 L1524.41 612.9 L1525.76 612.92 L1527.1 612.94 L1528.44 612.96 L1529.79 612.98 L1531.13 613 L1532.47 613.02 L1533.82 613.04 L1535.16 613.06 L1536.51 613.08 L1537.85 613.1 L1539.19 613.12 L1540.54 613.13 L1541.88 613.15 L1543.22 613.17 L1544.57 613.18 L1545.91 613.2 L1547.26 613.21 L1548.6 613.22 L1549.94 613.24 L1551.29 613.25 L1552.63 613.26 L1553.98 613.28 L1555.32 613.29 L1556.66 613.3 L1558.01 613.31 L1559.35 613.32 L1560.69 613.33 L1562.04 613.35 L1563.38 613.36 L1564.73 613.37 L1566.07 613.38 L1567.41 613.38 L1568.76 613.39 L1570.1 613.4 L1571.45 613.41 L1572.79 613.42 L1574.13 613.43 L1575.48 613.44 L1576.82 613.44 L1578.16 613.45 L1579.51 613.46 L1580.85 613.46 L1582.2 613.47 L1583.54 613.48 L1584.88 613.48 L1586.23 613.49 L1587.57 613.5 L1588.91 613.5 L1590.26 613.51 L1591.6 613.51 L1592.95 613.52 L1594.29 613.53 L1595.63 613.53 L1596.98 613.54 L1598.32 613.54 L1599.67 613.54 L1601.01 613.55 L1602.35 613.55 L1603.7 613.56 L1605.04 613.56 L1606.38 613.57 L1607.73 613.57 L1609.07 613.57 L1610.42 613.58 L1611.76 613.58 L1613.1 613.58 L1614.45 613.59 L1615.79 613.59 L1617.13 613.59 L1618.48 613.6 L1619.82 613.6 L1621.17 613.6 L1622.51 613.61 L1623.85 613.61 L1625.2 613.61 L1626.54 613.61 L1627.89 613.62 L1629.23 613.62 L1630.57 613.62 L1631.92 613.62 L1633.26 613.63 L1634.6 613.63 L1635.95 613.63 L1637.29 613.63 L1638.64 613.63 L1639.98 613.64 L1641.32 613.64 L1642.67 613.64 L1644.01 613.64 L1645.36 613.64 L1646.7 613.65 L1648.04 613.65 L1649.39 613.65 L1650.73 613.65 L1652.07 613.65 L1653.42 613.65 L1654.76 613.65 L1656.11 613.66 L1657.45 613.66 L1658.79 613.66 L1660.14 613.66 L1661.48 613.66 L1662.82 613.66 L1664.17 613.66 L1665.51 613.66 L1666.86 613.66 L1668.2 613.67" fill="none" stroke="#1c1c1c" stroke-width="1.6" stroke-linejoin="round" clip-path="url(#c1)"/>
<g id="panel-b" filter="url(#bl1)">
<g clip-path="url(#c1)">
<g fill="#000000">
<circle cx="1136.73" cy="348.95" r="5.1"/><circle cx="1143.45" cy="347.52" r="5.1"/><circle cx="1150.18" cy="268.53" r="5.1"/><circle cx="1156.91" cy="217.99" r="5.1"/><circle cx="1163.64" cy="195.22" r="5.1"/><circle cx="1170.37" cy="182.41" r="5.1"/><circle cx="1177.09" cy="175.29" r="5.1"/><circle cx="1183.82" cy="193.8" r="5.1"/><circle cx="1190.55" cy="215.15" r="5.1"/><circle cx="1197.28" cy="222.98" r="5.1"/><circle cx="1204" cy="288.45" r="5.1"/><circle cx="1210.73" cy="272.08" r="5.1"/><circle cx="1217.46" cy="339.7" r="5.1"/><circle cx="1224.18" cy="370.3" r="5.1"/><circle cx="1230.91" cy="373.15" r="5.1"/><circle cx="1237.64" cy="392.36" r="5.1"/><circle cx="1244.37" cy="415.85" r="5.1"/><circle cx="1251.1" cy="425.1" r="5.1"/><circle cx="1257.82" cy="436.49" r="5.1"/><circle cx="1264.55" cy="467.8" r="5.1"/><circle cx="1271.28" cy="482.04" r="5.1"/><circle cx="1278.01" cy="516.2" r="5.1"/><circle cx="1284.73" cy="509.08" r="5.1"/><circle cx="1291.46" cy="537.55" r="5.1"/><circle cx="1298.19" cy="542.53" r="5.1"/><circle cx="1304.91" cy="546.09" r="5.1"/><circle cx="1311.64" cy="556.05" r="5.1"/><circle cx="1318.37" cy="573.84" r="5.1"/><circle cx="1325.1" cy="558.9" r="5.1"/><circle cx="1331.83" cy="572.42" r="5.1"/><circle cx="1338.55" cy="579.54" r="5.1"/><circle cx="1345.28" cy="564.59" r="5.1"/><circle cx="1352.01" cy="588.79" r="5.1"/><circle cx="1358.74" cy="592.35" r="5.1"/><circle cx="1365.46" cy="596.62" r="5.1"/><circle cx="1372.19" cy="600.89" r="5.1"/><circle cx="1378.92" cy="603.02" r="5.1"/><circle cx="1385.64" cy="605.16" r="5.1"/><circle cx="1392.37" cy="610.14" r="5.1"/><circle cx="1399.1" cy="608.01" r="5.1"/><circle cx="1405.83" cy="608.35" r="5.1"/><circle cx="1412.56" cy="608.51" r="5.1"/><circle cx="1419.28" cy="608.52" r="5.1"/><circle cx="1426.01" cy="608.38" r="5.1"/><circle cx="1432.74" cy="607.29" r="5.1"/><circle cx="1439.47" cy="609.33" r="5.1"/><circle cx="1446.19" cy="609.72" r="5.1"/><circle cx="1452.92" cy="609.43" r="5.1"/><circle cx="1459.65" cy="610.35" r="5.1"/><circle cx="1466.38" cy="610.61" r="5.1"/><circle cx="1473.1" cy="610.83" r="5.1"/><circle cx="1479.83" cy="611.02" r="5.1"/><circle cx="1486.56" cy="611.19" r="5.1"/><circle cx="1493.29" cy="611.33" r="5.1"/><circle cx="1500.01" cy="608.72" r="5.1"/><circle cx="1506.74" cy="611.57" r="5.1"/><circle cx="1513.47" cy="611.67" r="5.1"/><circle cx="1520.2" cy="611.75" r="5.1"/><circle cx="1526.92" cy="611.82" r="5.1"/><circle cx="1533.65" cy="611.88" r="5.1"/>
</g>
<g fill="#0000ff">
<circle cx="1136.73" cy="337.13" r="5.1"/><circle cx="1143.45" cy="328.31" r="5.1"/><circle cx="1150.18" cy="250.73" r="5.1"/><circle cx="1156.91" cy="198.07" r="5.1"/><circle cx="1163.64" cy="188.82" r="5.1"/><circle cx="1170.37" cy="163.91" r="5.1"/><circle cx="1177.09" cy="190.24" r="5.1"/><circle cx="1183.82" cy="193.8" r="5.1"/><circle cx="1190.55" cy="232.23" r="5.1"/><circle cx="1197.28" cy="239.35" r="5.1"/><circle cx="1204" cy="260.7" r="5.1"/><circle cx="1210.73" cy="279.91" r="5.1"/><circle cx="1217.46" cy="298.42" r="5.1"/><circle cx="1224.18" cy="366.03" r="5.1"/><circle cx="1230.91" cy="377.42" r="5.1"/><circle cx="1237.64" cy="411.58" r="5.1"/><circle cx="1244.37" cy="427.23" r="5.1"/><circle cx="1251.1" cy="449.3" r="5.1"/><circle cx="1257.82" cy="462.82" r="5.1"/><circle cx="1264.55" cy="461.4" r="5.1"/><circle cx="1271.28" cy="481.32" r="5.1"/><circle cx="1278.01" cy="501.96" r="5.1"/><circle cx="1284.73" cy="519.04" r="5.1"/><circle cx="1291.46" cy="529.01" r="5.1"/><circle cx="1298.19" cy="537.55" r="5.1"/><circle cx="1304.91" cy="543.95" r="5.1"/><circle cx="1311.64" cy="554.63" r="5.1"/><circle cx="1318.37" cy="563.88" r="5.1"/><circle cx="1325.1" cy="573.13" r="5.1"/><circle cx="1331.83" cy="576.69" r="5.1"/><circle cx="1338.55" cy="583.81" r="5.1"/><circle cx="1345.28" cy="585.23" r="5.1"/><circle cx="1352.01" cy="589.5" r="5.1"/><circle cx="1358.74" cy="594.48" r="5.1"/><circle cx="1365.46" cy="594.48" r="5.1"/><circle cx="1372.19" cy="599.47" r="5.1"/><circle cx="1378.92" cy="602.31" r="5.1"/><circle cx="1385.64" cy="603.74" r="5.1"/><circle cx="1392.37" cy="606.58" r="5.1"/><circle cx="1399.1" cy="608.01" r="5.1"/><circle cx="1405.83" cy="608.35" r="5.1"/><circle cx="1412.56" cy="608.51" r="5.1"/><circle cx="1419.28" cy="608.52" r="5.1"/><circle cx="1426.01" cy="608.38" r="5.1"/><circle cx="1432.74" cy="608.89" r="5.1"/><circle cx="1439.47" cy="609.43" r="5.1"/><circle cx="1446.19" cy="609.43" r="5.1"/><circle cx="1452.92" cy="610.06" r="5.1"/><circle cx="1459.65" cy="610.35" r="5.1"/><circle cx="1466.38" cy="610.61" r="5.1"/><circle cx="1473.1" cy="610.83" r="5.1"/><circle cx="1479.83" cy="611.02" r="5.1"/><circle cx="1486.56" cy="611.19" r="5.1"/><circle cx="1493.29" cy="611.33" r="5.1"/><circle cx="1500.01" cy="611.46" r="5.1"/><circle cx="1506.74" cy="611.57" r="5.1"/><circle cx="1513.47" cy="611.67" r="5.1"/><circle cx="1520.2" cy="611.75" r="5.1"/><circle cx="1526.92" cy="611.82" r="5.1"/><circle cx="1533.65" cy="611.88" r="5.1"/>
</g>
<g fill="#008000">
<circle cx="1136.73" cy="363.18" r="5.1"/><circle cx="1143.45" cy="361.76" r="5.1"/><circle cx="1150.18" cy="283.47" r="5.1"/><circle cx="1156.91" cy="227.96" r="5.1"/><circle cx="1163.64" cy="215.15" r="5.1"/><circle cx="1170.37" cy="205.9" r="5.1"/><circle cx="1177.09" cy="186.68" r="5.1"/><circle cx="1183.82" cy="198.78" r="5.1"/><circle cx="1190.55" cy="222.98" r="5.1"/><circle cx="1197.28" cy="269.24" r="5.1"/><circle cx="1204" cy="269.95" r="5.1"/><circle cx="1210.73" cy="296.99" r="5.1"/><circle cx="1217.46" cy="317.63" r="5.1"/><circle cx="1224.18" cy="320.48" r="5.1"/><circle cx="1230.91" cy="368.88" r="5.1"/><circle cx="1237.64" cy="383.82" r="5.1"/><circle cx="1244.37" cy="392.36" r="5.1"/><circle cx="1251.1" cy="450.01" r="5.1"/><circle cx="1257.82" cy="451.43" r="5.1"/><circle cx="1264.55" cy="453.57" r="5.1"/><circle cx="1271.28" cy="475.63" r="5.1"/><circle cx="1278.01" cy="499.83" r="5.1"/><circle cx="1284.73" cy="536.12" r="5.1"/><circle cx="1291.46" cy="514.77" r="5.1"/><circle cx="1298.19" cy="527.58" r="5.1"/><circle cx="1304.91" cy="542.53" r="5.1"/><circle cx="1311.64" cy="552.49" r="5.1"/><circle cx="1318.37" cy="553.21" r="5.1"/><circle cx="1325.1" cy="571" r="5.1"/><circle cx="1331.83" cy="572.42" r="5.1"/><circle cx="1338.55" cy="569.57" r="5.1"/><circle cx="1345.28" cy="581.67" r="5.1"/><circle cx="1352.01" cy="581.67" r="5.1"/><circle cx="1358.74" cy="586.66" r="5.1"/><circle cx="1365.46" cy="593.77" r="5.1"/><circle cx="1372.19" cy="604.45" r="5.1"/><circle cx="1378.92" cy="590.21" r="5.1"/><circle cx="1385.64" cy="596.62" r="5.1"/><circle cx="1392.37" cy="602.31" r="5.1"/><circle cx="1399.1" cy="599.47" r="5.1"/><circle cx="1405.83" cy="599.47" r="5.1"/><circle cx="1412.56" cy="594.48" r="5.1"/><circle cx="1419.28" cy="601.6" r="5.1"/><circle cx="1426.01" cy="605.16" r="5.1"/><circle cx="1432.74" cy="607.29" r="5.1"/><circle cx="1439.47" cy="608.72" r="5.1"/><circle cx="1446.19" cy="609.72" r="5.1"/><circle cx="1452.92" cy="610.06" r="5.1"/><circle cx="1459.65" cy="610.35" r="5.1"/><circle cx="1466.38" cy="608.01" r="5.1"/><circle cx="1473.1" cy="609.43" r="5.1"/><circle cx="1479.83" cy="611.02" r="5.1"/><circle cx="1486.56" cy="611.19" r="5.1"/><circle cx="1493.29" cy="611.33" r="5.1"/><circle cx="1500.01" cy="611.46" r="5.1"/><circle cx="1506.74" cy="611.57" r="5.1"/><circle cx="1513.47" cy="608.72" r="5.1"/><circle cx="1520.2" cy="611.75" r="5.1"/><circle cx="1526.92" cy="611.82" r="5.1"/><circle cx="1533.65" cy="611.88" r="5.1"/><circle cx="1540.38" cy="611.94" r="5.1"/><circle cx="1547.11" cy="608.72" r="5.1"/><circle cx="1553.83" cy="612.02" r="5.1"/><circle cx="1560.56" cy="612.06" r="5.1"/><circle cx="1567.29" cy="612.09" r="5.1"/><circle cx="1574.02" cy="612.11" r="5.1"/><circle cx="1580.74" cy="612.14" r="5.1"/><circle cx="1587.47" cy="608.72" r="5.1"/><circle cx="1594.2" cy="612.17" r="5.1"/><circle cx="1600.93" cy="612.19" r="5.1"/><circle cx="1607.65" cy="612.2" r="5.1"/><circle cx="1614.38" cy="612.21" r="5.1"/><circle cx="1621.11" cy="612.22" r="5.1"/><circle cx="1627.84" cy="612.23" r="5.1"/><circle cx="1634.56" cy="612.23" r="5.1"/><circle cx="1641.29" cy="608.72" r="5.1"/><circle cx="1648.02" cy="612.24" r="5.1"/><circle cx="1654.75" cy="612.25" r="5.1"/><circle cx="1661.47" cy="612.25" r="5.1"/><circle cx="1668.2" cy="612.26" r="5.1"/>
</g>
<g fill="#ff0000">
<circle cx="1136.73" cy="354.64" r="5.1"/><circle cx="1143.45" cy="353.22" r="5.1"/><circle cx="1150.18" cy="262.12" r="5.1"/><circle cx="1156.91" cy="210.17" r="5.1"/><circle cx="1163.64" cy="185.26" r="5.1"/><circle cx="1170.37" cy="186.68" r="5.1"/><circle cx="1177.09" cy="185.26" r="5.1"/><circle cx="1183.82" cy="192.37" r="5.1"/><circle cx="1190.55" cy="211.59" r="5.1"/><circle cx="1197.28" cy="233.65" r="5.1"/><circle cx="1204" cy="247.89" r="5.1"/><circle cx="1210.73" cy="287.03" r="5.1"/><circle cx="1217.46" cy="334.71" r="5.1"/><circle cx="1224.18" cy="358.2" r="5.1"/><circle cx="1230.91" cy="358.2" r="5.1"/><circle cx="1237.64" cy="388.09" r="5.1"/><circle cx="1244.37" cy="426.52" r="5.1"/><circle cx="1251.1" cy="442.89" r="5.1"/><circle cx="1257.82" cy="452.14" r="5.1"/><circle cx="1264.55" cy="484.17" r="5.1"/><circle cx="1271.28" cy="484.88" r="5.1"/><circle cx="1278.01" cy="497.69" r="5.1"/><circle cx="1284.73" cy="525.45" r="5.1"/><circle cx="1291.46" cy="516.2" r="5.1"/><circle cx="1298.19" cy="551.07" r="5.1"/><circle cx="1304.91" cy="541.82" r="5.1"/><circle cx="1311.64" cy="553.21" r="5.1"/><circle cx="1318.37" cy="561.75" r="5.1"/><circle cx="1325.1" cy="583.1" r="5.1"/><circle cx="1331.83" cy="568.15" r="5.1"/><circle cx="1338.55" cy="581.67" r="5.1"/><circle cx="1345.28" cy="583.1" r="5.1"/><circle cx="1352.01" cy="586.66" r="5.1"/><circle cx="1358.74" cy="584.52" r="5.1"/><circle cx="1365.46" cy="595.2" r="5.1"/><circle cx="1372.19" cy="595.2" r="5.1"/><circle cx="1378.92" cy="601.6" r="5.1"/><circle cx="1385.64" cy="601.6" r="5.1"/><circle cx="1392.37" cy="604.45" r="5.1"/><circle cx="1399.1" cy="606.58" r="5.1"/><circle cx="1405.83" cy="607.29" r="5.1"/><circle cx="1412.56" cy="607.29" r="5.1"/><circle cx="1419.28" cy="608.01" r="5.1"/><circle cx="1426.01" cy="608.72" r="5.1"/><circle cx="1432.74" cy="608.89" r="5.1"/><circle cx="1439.47" cy="609.33" r="5.1"/><circle cx="1446.19" cy="608.01" r="5.1"/><circle cx="1452.92" cy="610.06" r="5.1"/><circle cx="1459.65" cy="610.35" r="5.1"/><circle cx="1466.38" cy="607.29" r="5.1"/><circle cx="1473.1" cy="610.83" r="5.1"/><circle cx="1479.83" cy="611.02" r="5.1"/><circle cx="1486.56" cy="611.19" r="5.1"/><circle cx="1493.29" cy="609.43" r="5.1"/><circle cx="1500.01" cy="611.46" r="5.1"/><circle cx="1506.74" cy="611.57" r="5.1"/><circle cx="1513.47" cy="611.67" r="5.1"/><circle cx="1520.2" cy="611.75" r="5.1"/><circle cx="1526.92" cy="611.82" r="5.1"/><circle cx="1533.65" cy="611.88" r="5.1"/><circle cx="1540.38" cy="611.94" r="5.1"/><circle cx="1547.11" cy="611.98" r="5.1"/><circle cx="1553.83" cy="612.02" r="5.1"/><circle cx="1560.56" cy="612.06" r="5.1"/><circle cx="1567.29" cy="612.09" r="5.1"/><circle cx="1574.02" cy="612.11" r="5.1"/><circle cx="1580.74" cy="612.14" r="5.1"/><circle cx="1587.47" cy="612.15" r="5.1"/><circle cx="1594.2" cy="612.17" r="5.1"/><circle cx="1600.93" cy="612.19" r="5.1"/><circle cx="1607.65" cy="612.2" r="5.1"/><circle cx="1614.38" cy="612.21" r="5.1"/><circle cx="1621.11" cy="612.22" r="5.1"/><circle cx="1627.84" cy="612.23" r="5.1"/><circle cx="1634.56" cy="612.23" r="5.1"/><circle cx="1641.29" cy="612.24" r="5.1"/><circle cx="1648.02" cy="612.24" r="5.1"/><circle cx="1654.75" cy="612.25" r="5.1"/><circle cx="1661.47" cy="612.25" r="5.1"/><circle cx="1668.2" cy="612.26" r="5.1"/>
</g>
</g>
<text transform="translate(1130,647.8) scale(1.035,1)" font-family='"DejaVu Sans", "Liberation Sans", sans-serif' font-size="31.9" text-anchor="middle" fill="#000">0</text>
<text transform="translate(1264.55,647.8) scale(1.035,1)" font-family='"DejaVu Sans", "Liberation Sans", sans-serif' font-size="31.9" text-anchor="middle" fill="#000">20</text>
<text transform="translate(1399.1,647.8) scale(1.035,1)" font-family='"DejaVu Sans", "Liberation Sans", sans-serif' font-size="31.9" text-anchor="middle" fill="#000">40</text>
<text transform="translate(1533.65,647.8) scale(1.035,1)" font-family='"DejaVu Sans", "Liberation Sans", sans-serif' font-size="31.9" text-anchor="middle" fill="#000">60</text>
<text transform="translate(1668.2,647.8) scale(1.035,1)" font-family='"DejaVu Sans", "Liberation Sans", sans-serif' font-size="31.9" text-anchor="middle" fill="#000">80</text>
<text transform="translate(1090.8,626.01) scale(1.035,1)" font-family='"DejaVu Sans", "Liberation Sans", sans-serif' font-size="31.9" text-anchor="end" fill="#000">0.00</text>
<text transform="translate(1090.8,554.61) scale(1.035,1)" font-family='"DejaVu Sans", "Liberation Sans", sans-serif' font-size="31.9" text-anchor="end" fill="#000">0.01</text>
<text transform="translate(1090.8,484.31) scale(1.035,1)" font-family='"DejaVu Sans", "Liberation Sans", sans-serif' font-size="31.9" text-anchor="end" fill="#000">0.02</text>
<text transform="translate(1090.8,412.41) scale(1.035,1)" font-family='"DejaVu Sans", "Liberation Sans", sans-serif' font-size="31.9" text-anchor="end" fill="#000">0.03</text>
<text transform="translate(1090.8,342.41) scale(1.035,1)" font-family='"DejaVu Sans", "Liberation Sans", sans-serif' font-size="31.9" text-anchor="end" fill="#000">0.04</text>
<text transform="translate(1090.8,270.31) scale(1.035,1)" font-family='"DejaVu Sans", "Liberation Sans", sans-serif' font-size="31.9" text-anchor="end" fill="#000">0.05</text>
<text transform="translate(1090.8,198.91) scale(1.035,1)" font-family='"DejaVu Sans", "Liberation Sans", sans-serif' font-size="31.9" text-anchor="end" fill="#000">0.06</text>
<text transform="translate(1090.8,128.31) scale(1.035,1)" font-family='"DejaVu Sans", "Liberation Sans", sans-serif' font-size="31.9" text-anchor="end" fill="#000">0.07</text>
<text transform="translate(1090.8,56.61) scale(1.035,1)" font-family='"DejaVu Sans", "Liberation Sans", sans-serif' font-size="31.9" text-anchor="end" fill="#000">0.08</text>
<g transform="translate(1003,367.96) rotate(-90) scale(0.966,1)"><text font-family='"DejaVu Sans", "Liberation Sans", sans-serif' font-size="33" x="0" y="0" font-style="italic">w</text><text font-family='"DejaVu Sans", "Liberation Sans", sans-serif' font-size="23.1" x="27.65" y="3.96" font-style="italic">i</text><text font-family='"DejaVu Sans", "Liberation Sans", sans-serif' font-size="33" x="35.4" y="0">(<tspan font-style="italic">x</tspan>)</text></g>
<text transform="translate(1397.5,685.5) scale(1.035,1)" font-family='"DejaVu Sans", "Liberation Sans", sans-serif' font-size="31.9" text-anchor="middle" font-style="italic" fill="#000">i</text>
<rect x="1414" y="60.5" width="263" height="69" rx="5" ry="5" fill="#fff" fill-opacity="0.8" stroke="#cccccc" stroke-opacity="0.8" stroke-width="1.4"/>
<g transform="translate(1521.5,102.5) scale(1.035,1)"><text font-family='"DejaVu Sans", "Liberation Sans", sans-serif' font-size="31.9" x="0" y="0" font-style="italic">w</text><text font-family='"DejaVu Sans", "Liberation Sans", sans-serif' font-size="22.33" x="26.73" y="7.97" font-style="italic">i</text><text font-family='"DejaVu Sans", "Liberation Sans", sans-serif' font-size="22.33" x="28.01" y="-12.76" font-style="italic">o</text><text font-family='"DejaVu Sans", "Liberation Sans", sans-serif' font-size="31.9" x="41.67" y="0">(0.15)</text></g>
</g>
<line x1="1425.8" y1="91" x2="1494.5" y2="91" stroke="#1c1c1c" stroke-width="1.9"/>
<rect x="1103.8" y="44.2" width="589.7" height="569.6" fill="none" stroke="#6c6c6c" stroke-width="1.9"/>
<line x1="1130" y1="613.8" x2="1130" y2="619.2" stroke="#6c6c6c" stroke-width="1.9"/>
<line x1="1264.55" y1="613.8" x2="1264.55" y2="619.2" stroke="#6c6c6c" stroke-width="1.9"/>
<line x1="1399.1" y1="613.8" x2="1399.1" y2="619.2" stroke="#6c6c6c" stroke-width="1.9"/>
<line x1="1533.65" y1="613.8" x2="1533.65" y2="619.2" stroke="#6c6c6c" stroke-width="1.9"/>
<line x1="1668.2" y1="613.8" x2="1668.2" y2="619.2" stroke="#6c6c6c" stroke-width="1.9"/>
<line x1="1098.4" y1="613.7" x2="1103.8" y2="613.7" stroke="#6c6c6c" stroke-width="1.9"/>
<line x1="1098.4" y1="542.3" x2="1103.8" y2="542.3" stroke="#6c6c6c" stroke-width="1.9"/>
<line x1="1098.4" y1="472" x2="1103.8" y2="472" stroke="#6c6c6c" stroke-width="1.9"/>
<line x1="1098.4" y1="400.1" x2="1103.8" y2="400.1" stroke="#6c6c6c" stroke-width="1.9"/>
<line x1="1098.4" y1="330.1" x2="1103.8" y2="330.1" stroke="#6c6c6c" stroke-width="1.9"/>
<line x1="1098.4" y1="258" x2="1103.8" y2="258" stroke="#6c6c6c" stroke-width="1.9"/>
<line x1="1098.4" y1="186.6" x2="1103.8" y2="186.6" stroke="#6c6c6c" stroke-width="1.9"/>
<line x1="1098.4" y1="116" x2="1103.8" y2="116" stroke="#6c6c6c" stroke-width="1.9"/>
<line x1="1098.4" y1="44.3" x2="1103.8" y2="44.3" stroke="#6c6c6c" stroke-width="1.9"/>
<text transform="translate(873.5,100.1) scale(1.0,1)" font-family='"Liberation Serif", "DejaVu Serif", serif' font-size="50" text-anchor="start" fill="#000" stroke="#000" stroke-width="0.3">(b)</text>
<path d="M213.13 980.16 L214.59 983.58 L216.05 986.95 L217.51 990.28 L218.96 993.57 L220.42 996.82 L221.88 1000.04 L223.34 1003.22 L224.8 1006.36 L226.26 1009.46 L227.72 1012.53 L229.18 1015.57 L230.63 1018.57 L232.09 1021.53 L233.55 1024.46 L235.01 1027.36 L236.47 1030.22 L237.93 1033.06 L239.39 1035.86 L240.85 1038.62 L242.3 1041.36 L243.76 1044.07 L245.22 1046.74 L246.68 1049.39 L248.14 1052 L249.6 1054.59 L251.06 1057.15 L252.51 1059.67 L253.97 1062.17 L255.43 1064.65 L256.89 1067.09 L258.35 1069.51 L259.81 1071.9 L261.27 1074.27 L262.73 1076.6 L264.18 1078.92 L265.64 1081.2 L267.1 1083.47 L268.56 1085.7 L270.02 1087.92 L271.48 1090.1 L272.94 1092.27 L274.39 1094.41 L275.85 1096.53 L277.31 1098.62 L278.77 1100.69 L280.23 1102.74 L281.69 1104.77 L283.15 1106.77 L284.61 1108.76 L286.06 1110.72 L287.52 1112.66 L288.98 1114.58 L290.44 1116.48 L291.9 1118.36 L293.36 1120.21 L294.82 1122.05 L296.27 1123.87 L297.73 1125.67 L299.19 1127.45 L300.65 1129.21 L302.11 1130.95 L303.57 1132.67 L305.03 1134.38 L306.49 1136.06 L307.94 1137.73 L309.4 1139.38 L310.86 1141.02 L312.32 1142.63 L313.78 1144.23 L315.24 1145.81 L316.7 1147.38 L318.15 1148.93 L319.61 1150.46 L321.07 1151.97 L322.53 1153.47 L323.99 1154.96 L325.45 1156.42 L326.91 1157.88 L328.37 1159.31 L329.82 1160.74 L331.28 1162.14 L332.74 1163.53 L334.2 1164.91 L335.66 1166.27 L337.12 1167.62 L338.58 1168.96 L340.03 1170.28 L341.49 1171.59 L342.95 1172.88 L344.41 1174.16 L345.87 1175.42 L347.33 1176.68 L348.79 1177.92 L350.25 1179.14 L351.7 1180.36 L353.16 1181.56 L354.62 1182.75 L356.08 1183.92 L357.54 1185.09 L359 1186.24 L360.46 1187.38 L361.92 1188.51 L363.37 1189.62 L364.83 1190.73 L366.29 1191.82 L367.75 1192.9 L369.21 1193.97 L370.67 1195.03 L372.13 1196.08 L373.58 1197.12 L375.04 1198.14 L376.5 1199.16 L377.96 1200.17 L379.42 1201.16 L380.88 1202.15 L382.34 1203.12 L383.8 1204.08 L385.25 1205.04 L386.71 1205.98 L388.17 1206.92 L389.63 1207.84 L391.09 1208.76 L392.55 1209.66 L394.01 1210.56 L395.46 1211.45 L396.92 1212.33 L398.38 1213.2 L399.84 1214.06 L401.3 1214.91 L402.76 1215.75 L404.22 1216.58 L405.68 1217.41 L407.13 1218.23 L408.59 1219.03 L410.05 1219.83 L411.51 1220.62 L412.97 1221.41 L414.43 1222.18 L415.89 1222.95 L417.34 1223.71 L418.8 1224.46 L420.26 1225.21 L421.72 1225.94 L423.18 1226.67 L424.64 1227.39 L426.1 1228.11 L427.56 1228.81 L429.01 1229.51 L430.47 1230.2 L431.93 1230.89 L433.39 1231.57 L434.85 1232.24 L436.31 1232.9 L437.77 1233.56 L439.22 1234.21 L440.68 1234.85 L442.14 1235.49 L443.6 1236.12 L445.06 1236.75 L446.52 1237.36 L447.98 1237.97 L449.44 1238.58 L450.89 1239.18 L452.35 1239.77 L453.81 1240.36 L455.27 1240.94 L456.73 1241.51 L458.19 1242.08 L459.65 1242.64 L461.1 1243.2 L462.56 1243.75 L464.02 1244.3 L465.48 1244.84 L466.94 1245.37 L468.4 1245.9 L469.86 1246.43 L471.32 1246.95 L472.77 1247.46 L474.23 1247.97 L475.69 1248.47 L477.15 1248.97 L478.61 1249.46 L480.07 1249.95 L481.53 1250.43 L482.99 1250.91 L484.44 1251.38 L485.9 1251.85 L487.36 1252.31 L488.82 1252.77 L490.28 1253.22 L491.74 1253.67 L493.2 1254.11 L494.65 1254.55 L496.11 1254.99 L497.57 1255.42 L499.03 1255.85 L500.49 1256.27 L501.95 1256.69 L503.41 1257.1 L504.87 1257.51 L506.32 1257.91 L507.78 1258.31 L509.24 1258.71 L510.7 1259.1 L512.16 1259.49 L513.62 1259.88 L515.08 1260.26 L516.53 1260.64 L517.99 1261.01 L519.45 1261.38 L520.91 1261.74 L522.37 1262.11 L523.83 1262.46 L525.29 1262.82 L526.75 1263.17 L528.2 1263.52 L529.66 1263.86 L531.12 1264.2 L532.58 1264.54 L534.04 1264.87 L535.5 1265.2 L536.96 1265.53 L538.41 1265.85 L539.87 1266.17 L541.33 1266.48 L542.79 1266.8 L544.25 1267.11 L545.71 1267.41 L547.17 1267.72 L548.63 1268.02 L550.08 1268.32 L551.54 1268.61 L553 1268.9 L554.46 1269.19 L555.92 1269.48 L557.38 1269.76 L558.84 1270.04 L560.29 1270.32 L561.75 1270.59 L563.21 1270.86 L564.67 1271.13 L566.13 1271.4 L567.59 1271.66 L569.05 1271.92 L570.51 1272.18 L571.96 1272.43 L573.42 1272.69 L574.88 1272.94 L576.34 1273.18 L577.8 1273.43 L579.26 1273.67 L580.72 1273.91 L582.17 1274.15 L583.63 1274.38 L585.09 1274.62 L586.55 1274.85 L588.01 1275.07 L589.47 1275.3 L590.93 1275.52 L592.39 1275.74 L593.84 1275.96 L595.3 1276.18 L596.76 1276.39 L598.22 1276.61 L599.68 1276.82 L601.14 1277.02 L602.6 1277.23 L604.05 1277.43 L605.51 1277.63 L606.97 1277.83 L608.43 1278.03 L609.89 1278.23 L611.35 1278.42 L612.81 1278.61 L614.27 1278.8 L615.72 1278.99 L617.18 1279.17 L618.64 1279.36 L620.1 1279.54 L621.56 1279.72 L623.02 1279.9 L624.48 1280.08 L625.94 1280.25 L627.39 1280.42 L628.85 1280.59 L630.31 1280.76 L631.77 1280.93 L633.23 1281.1 L634.69 1281.26 L636.15 1281.42 L637.6 1281.58 L639.06 1281.74 L640.52 1281.9 L641.98 1282.06 L643.44 1282.21 L644.9 1282.36 L646.36 1282.52 L647.82 1282.66 L649.27 1282.81 L650.73 1282.96 L652.19 1283.11 L653.65 1283.25 L655.11 1283.39 L656.57 1283.53 L658.03 1283.67 L659.48 1283.81 L660.94 1283.95 L662.4 1284.08 L663.86 1284.21 L665.32 1284.35 L666.78 1284.48 L668.24 1284.61 L669.7 1284.74 L671.15 1284.86 L672.61 1284.99 L674.07 1285.11 L675.53 1285.24 L676.99 1285.36 L678.45 1285.48 L679.91 1285.6 L681.36 1285.72 L682.82 1285.83 L684.28 1285.95 L685.74 1286.06 L687.2 1286.18 L688.66 1286.29 L690.12 1286.4 L691.58 1286.51 L693.03 1286.62 L694.49 1286.73 L695.95 1286.84 L697.41 1286.94 L698.87 1287.05 L700.33 1287.15 L701.79 1287.25 L703.24 1287.35 L704.7 1287.45 L706.16 1287.55 L707.62 1287.65 L709.08 1287.75 L710.54 1287.84 L712 1287.94 L713.46 1288.03 L714.91 1288.13 L716.37 1288.22 L717.83 1288.31 L719.29 1288.4 L720.75 1288.49 L722.21 1288.58 L723.67 1288.67 L725.12 1288.76 L726.58 1288.84 L728.04 1288.93 L729.5 1289.01 L730.96 1289.09 L732.42 1289.18 L733.88 1289.26 L735.34 1289.34 L736.79 1289.42 L738.25 1289.5 L739.71 1289.58 L741.17 1289.66 L742.63 1289.73 L744.09 1289.81 L745.55 1289.88 L747.01 1289.96 L748.46 1290.03 L749.92 1290.11 L751.38 1290.18 L752.84 1290.25 L754.3 1290.32 L755.76 1290.39 L757.22 1290.46 L758.67 1290.53 L760.13 1290.6 L761.59 1290.66 L763.05 1290.73 L764.51 1290.8 L765.97 1290.86 L767.43 1290.93 L768.89 1290.99 L770.34 1291.05 L771.8 1291.12 L773.26 1291.18 L774.72 1291.24 L776.18 1291.3 L777.64 1291.36 L779.1 1291.42 L780.55 1291.48 L782.01 1291.54 L783.47 1291.6 L784.93 1291.65 L786.39 1291.71 L787.85 1291.76 L789.31 1291.82 L790.77 1291.88 L792.22 1291.93 L793.68 1291.98 L795.14 1292.04 L796.6 1292.09" fill="none" stroke="#111" stroke-width="2" stroke-linejoin="round" clip-path="url(#c2)"/>
<g id="panel-c">
<g clip-path="url(#c2)">
<g fill="#000000">
<circle cx="219.7" cy="735.66" r="5.4"/><circle cx="227" cy="970.27" r="5.4"/><circle cx="234.31" cy="983.21" r="5.4"/><circle cx="241.61" cy="993.2" r="5.4"/><circle cx="248.91" cy="1033.78" r="5.4"/><circle cx="256.22" cy="1068.47" r="5.4"/><circle cx="263.52" cy="1064.94" r="5.4"/><circle cx="270.82" cy="1070.23" r="5.4"/><circle cx="278.12" cy="1085.52" r="5.4"/><circle cx="285.43" cy="1083.76" r="5.4"/><circle cx="292.73" cy="1094.93" r="5.4"/><circle cx="300.03" cy="1126.68" r="5.4"/><circle cx="307.33" cy="1126.68" r="5.4"/><circle cx="314.63" cy="1135.5" r="5.4"/><circle cx="321.94" cy="1147.26" r="5.4"/><circle cx="329.24" cy="1153.14" r="5.4"/><circle cx="336.54" cy="1164.9" r="5.4"/><circle cx="343.85" cy="1179.6" r="5.4"/><circle cx="351.15" cy="1179.01" r="5.4"/><circle cx="358.45" cy="1182.54" r="5.4"/><circle cx="365.75" cy="1197.24" r="5.4"/><circle cx="373.06" cy="1214.29" r="5.4"/><circle cx="380.36" cy="1216.06" r="5.4"/><circle cx="387.66" cy="1224.29" r="5.4"/><circle cx="394.96" cy="1220.76" r="5.4"/><circle cx="402.26" cy="1223.7" r="5.4"/><circle cx="409.57" cy="1227.82" r="5.4"/><circle cx="416.87" cy="1231.34" r="5.4"/><circle cx="424.17" cy="1231.93" r="5.4"/><circle cx="431.48" cy="1238.4" r="5.4"/><circle cx="438.78" cy="1241.34" r="5.4"/><circle cx="446.08" cy="1244.28" r="5.4"/><circle cx="453.38" cy="1251.34" r="5.4"/><circle cx="460.69" cy="1260.74" r="5.4"/><circle cx="467.99" cy="1263.68" r="5.4"/><circle cx="475.29" cy="1264.86" r="5.4"/><circle cx="482.59" cy="1264.27" r="5.4"/><circle cx="489.89" cy="1264.86" r="5.4"/><circle cx="497.2" cy="1263.1" r="5.4"/><circle cx="504.5" cy="1266.62" r="5.4"/><circle cx="511.8" cy="1264.86" r="5.4"/><circle cx="519.11" cy="1270.15" r="5.4"/><circle cx="526.41" cy="1272.5" r="5.4"/><circle cx="533.71" cy="1276.03" r="5.4"/><circle cx="541.01" cy="1274.86" r="5.4"/><circle cx="548.32" cy="1280.74" r="5.4"/><circle cx="555.62" cy="1277.21" r="5.4"/><circle cx="562.92" cy="1281.32" r="5.4"/><circle cx="570.22" cy="1280.74" r="5.4"/><circle cx="577.52" cy="1281.91" r="5.4"/><circle cx="584.83" cy="1279.56" r="5.4"/><circle cx="592.13" cy="1282.5" r="5.4"/><circle cx="599.43" cy="1280.74" r="5.4"/><circle cx="606.74" cy="1284.26" r="5.4"/><circle cx="614.04" cy="1283.09" r="5.4"/><circle cx="621.34" cy="1285.44" r="5.4"/><circle cx="628.64" cy="1285.44" r="5.4"/><circle cx="635.95" cy="1286.62" r="5.4"/><circle cx="643.25" cy="1290.14" r="5.4"/><circle cx="650.55" cy="1227.23" r="5.4"/>
</g>
<g fill="#0000ff">
<circle cx="219.7" cy="788.58" r="5.4"/><circle cx="227" cy="988.5" r="5.4"/><circle cx="234.31" cy="1013.2" r="5.4"/><circle cx="241.61" cy="1030.25" r="5.4"/><circle cx="248.91" cy="1058.47" r="5.4"/><circle cx="256.22" cy="1044.95" r="5.4"/><circle cx="263.52" cy="1067.88" r="5.4"/><circle cx="270.82" cy="1072" r="5.4"/><circle cx="278.12" cy="1100.22" r="5.4"/><circle cx="285.43" cy="1117.27" r="5.4"/><circle cx="292.73" cy="1107.86" r="5.4"/><circle cx="300.03" cy="1106.69" r="5.4"/><circle cx="307.33" cy="1120.21" r="5.4"/><circle cx="314.63" cy="1147.85" r="5.4"/><circle cx="321.94" cy="1140.79" r="5.4"/><circle cx="329.24" cy="1157.26" r="5.4"/><circle cx="336.54" cy="1169.6" r="5.4"/><circle cx="343.85" cy="1164.9" r="5.4"/><circle cx="351.15" cy="1186.66" r="5.4"/><circle cx="358.45" cy="1191.95" r="5.4"/><circle cx="365.75" cy="1189.6" r="5.4"/><circle cx="373.06" cy="1193.71" r="5.4"/><circle cx="380.36" cy="1201.36" r="5.4"/><circle cx="387.66" cy="1199" r="5.4"/><circle cx="394.96" cy="1209" r="5.4"/><circle cx="402.26" cy="1214.88" r="5.4"/><circle cx="409.57" cy="1218.41" r="5.4"/><circle cx="416.87" cy="1245.46" r="5.4"/><circle cx="424.17" cy="1229.58" r="5.4"/><circle cx="431.48" cy="1233.7" r="5.4"/><circle cx="438.78" cy="1244.28" r="5.4"/><circle cx="446.08" cy="1241.34" r="5.4"/><circle cx="453.38" cy="1237.22" r="5.4"/><circle cx="460.69" cy="1247.22" r="5.4"/><circle cx="467.99" cy="1247.81" r="5.4"/><circle cx="475.29" cy="1256.04" r="5.4"/><circle cx="482.59" cy="1265.45" r="5.4"/><circle cx="489.89" cy="1253.69" r="5.4"/><circle cx="497.2" cy="1263.1" r="5.4"/><circle cx="504.5" cy="1267.8" r="5.4"/><circle cx="511.8" cy="1268.98" r="5.4"/><circle cx="519.11" cy="1266.62" r="5.4"/><circle cx="526.41" cy="1271.92" r="5.4"/><circle cx="533.71" cy="1267.8" r="5.4"/><circle cx="541.01" cy="1272.5" r="5.4"/><circle cx="548.32" cy="1272.5" r="5.4"/><circle cx="555.62" cy="1276.03" r="5.4"/><circle cx="562.92" cy="1274.86" r="5.4"/><circle cx="570.22" cy="1276.62" r="5.4"/><circle cx="577.52" cy="1280.74" r="5.4"/><circle cx="584.83" cy="1281.91" r="5.4"/><circle cx="592.13" cy="1282.5" r="5.4"/><circle cx="599.43" cy="1283.09" r="5.4"/><circle cx="606.74" cy="1284.26" r="5.4"/><circle cx="614.04" cy="1291.91" r="5.4"/><circle cx="621.34" cy="1286.62" r="5.4"/><circle cx="628.64" cy="1287.2" r="5.4"/><circle cx="635.95" cy="1287.79" r="5.4"/><circle cx="643.25" cy="1285.44" r="5.4"/><circle cx="650.55" cy="1197.24" r="5.4"/>
</g>
<g fill="#008000">
<circle cx="219.7" cy="804.46" r="5.4"/><circle cx="227" cy="984.38" r="5.4"/><circle cx="234.31" cy="998.5" r="5.4"/><circle cx="241.61" cy="1007.9" r="5.4"/><circle cx="248.91" cy="1029.07" r="5.4"/><circle cx="256.22" cy="1051.42" r="5.4"/><circle cx="263.52" cy="1053.77" r="5.4"/><circle cx="270.82" cy="1076.7" r="5.4"/><circle cx="278.12" cy="1081.4" r="5.4"/><circle cx="285.43" cy="1093.75" r="5.4"/><circle cx="292.73" cy="1109.04" r="5.4"/><circle cx="300.03" cy="1113.74" r="5.4"/><circle cx="307.33" cy="1129.62" r="5.4"/><circle cx="314.63" cy="1144.32" r="5.4"/><circle cx="321.94" cy="1158.43" r="5.4"/><circle cx="329.24" cy="1156.08" r="5.4"/><circle cx="336.54" cy="1154.9" r="5.4"/><circle cx="343.85" cy="1187.24" r="5.4"/><circle cx="351.15" cy="1182.54" r="5.4"/><circle cx="358.45" cy="1187.24" r="5.4"/><circle cx="365.75" cy="1206.06" r="5.4"/><circle cx="373.06" cy="1203.12" r="5.4"/><circle cx="380.36" cy="1214.88" r="5.4"/><circle cx="387.66" cy="1214.88" r="5.4"/><circle cx="394.96" cy="1223.7" r="5.4"/><circle cx="402.26" cy="1233.7" r="5.4"/><circle cx="409.57" cy="1229.58" r="5.4"/><circle cx="416.87" cy="1233.7" r="5.4"/><circle cx="424.17" cy="1235.46" r="5.4"/><circle cx="431.48" cy="1220.17" r="5.4"/><circle cx="438.78" cy="1248.4" r="5.4"/><circle cx="446.08" cy="1248.98" r="5.4"/><circle cx="453.38" cy="1250.16" r="5.4"/><circle cx="460.69" cy="1251.34" r="5.4"/><circle cx="467.99" cy="1254.86" r="5.4"/><circle cx="475.29" cy="1258.98" r="5.4"/><circle cx="482.59" cy="1261.92" r="5.4"/><circle cx="489.89" cy="1264.86" r="5.4"/><circle cx="497.2" cy="1267.8" r="5.4"/><circle cx="504.5" cy="1273.68" r="5.4"/><circle cx="511.8" cy="1270.74" r="5.4"/><circle cx="519.11" cy="1268.98" r="5.4"/><circle cx="526.41" cy="1273.68" r="5.4"/><circle cx="533.71" cy="1273.68" r="5.4"/><circle cx="541.01" cy="1280.74" r="5.4"/><circle cx="548.32" cy="1276.62" r="5.4"/><circle cx="555.62" cy="1277.21" r="5.4"/><circle cx="562.92" cy="1279.56" r="5.4"/><circle cx="570.22" cy="1280.74" r="5.4"/><circle cx="577.52" cy="1287.2" r="5.4"/><circle cx="584.83" cy="1283.09" r="5.4"/><circle cx="592.13" cy="1284.26" r="5.4"/><circle cx="599.43" cy="1286.62" r="5.4"/><circle cx="606.74" cy="1285.44" r="5.4"/><circle cx="614.04" cy="1286.62" r="5.4"/><circle cx="621.34" cy="1278.97" r="5.4"/><circle cx="628.64" cy="1286.62" r="5.4"/><circle cx="635.95" cy="1287.79" r="5.4"/><circle cx="643.25" cy="1290.14" r="5.4"/><circle cx="650.55" cy="1291.32" r="5.4"/><circle cx="657.85" cy="1291.32" r="5.4"/><circle cx="665.15" cy="1292.5" r="5.4"/><circle cx="672.46" cy="1296.61" r="5.4"/><circle cx="679.76" cy="1294.85" r="5.4"/><circle cx="687.06" cy="1294.26" r="5.4"/><circle cx="694.37" cy="1293.67" r="5.4"/><circle cx="701.67" cy="1293.67" r="5.4"/><circle cx="708.97" cy="1292.5" r="5.4"/><circle cx="716.27" cy="1293.67" r="5.4"/><circle cx="723.58" cy="1287.2" r="5.4"/><circle cx="730.88" cy="1294.85" r="5.4"/><circle cx="738.18" cy="1296.02" r="5.4"/><circle cx="745.48" cy="1294.85" r="5.4"/><circle cx="752.78" cy="1295.44" r="5.4"/><circle cx="760.09" cy="1297.79" r="5.4"/><circle cx="767.39" cy="1296.02" r="5.4"/><circle cx="774.69" cy="1295.44" r="5.4"/><circle cx="782" cy="1296.02" r="5.4"/><circle cx="789.3" cy="1295.44" r="5.4"/><circle cx="796.6" cy="1277.8" r="5.4"/>
</g>
<g fill="#ff0000">
<circle cx="219.7" cy="822.1" r="5.4"/><circle cx="227" cy="994.97" r="5.4"/><circle cx="234.31" cy="1020.84" r="5.4"/><circle cx="241.61" cy="1022.02" r="5.4"/><circle cx="248.91" cy="1049.65" r="5.4"/><circle cx="256.22" cy="1058.47" r="5.4"/><circle cx="263.52" cy="1080.82" r="5.4"/><circle cx="270.82" cy="1091.99" r="5.4"/><circle cx="278.12" cy="1093.75" r="5.4"/><circle cx="285.43" cy="1102.57" r="5.4"/><circle cx="292.73" cy="1124.92" r="5.4"/><circle cx="300.03" cy="1118.45" r="5.4"/><circle cx="307.33" cy="1136.68" r="5.4"/><circle cx="314.63" cy="1151.96" r="5.4"/><circle cx="321.94" cy="1146.67" r="5.4"/><circle cx="329.24" cy="1154.32" r="5.4"/><circle cx="336.54" cy="1163.72" r="5.4"/><circle cx="343.85" cy="1169.6" r="5.4"/><circle cx="351.15" cy="1199.59" r="5.4"/><circle cx="358.45" cy="1170.19" r="5.4"/><circle cx="365.75" cy="1201.36" r="5.4"/><circle cx="373.06" cy="1199" r="5.4"/><circle cx="380.36" cy="1204.3" r="5.4"/><circle cx="387.66" cy="1204.3" r="5.4"/><circle cx="394.96" cy="1212.53" r="5.4"/><circle cx="402.26" cy="1213.7" r="5.4"/><circle cx="409.57" cy="1223.7" r="5.4"/><circle cx="416.87" cy="1223.11" r="5.4"/><circle cx="424.17" cy="1231.93" r="5.4"/><circle cx="431.48" cy="1238.4" r="5.4"/><circle cx="438.78" cy="1236.64" r="5.4"/><circle cx="446.08" cy="1240.16" r="5.4"/><circle cx="453.38" cy="1248.4" r="5.4"/><circle cx="460.69" cy="1243.69" r="5.4"/><circle cx="467.99" cy="1250.16" r="5.4"/><circle cx="475.29" cy="1257.8" r="5.4"/><circle cx="482.59" cy="1257.8" r="5.4"/><circle cx="489.89" cy="1264.27" r="5.4"/><circle cx="497.2" cy="1260.74" r="5.4"/><circle cx="504.5" cy="1264.27" r="5.4"/><circle cx="511.8" cy="1265.45" r="5.4"/><circle cx="519.11" cy="1264.27" r="5.4"/><circle cx="526.41" cy="1269.56" r="5.4"/><circle cx="533.71" cy="1267.8" r="5.4"/><circle cx="541.01" cy="1267.8" r="5.4"/><circle cx="548.32" cy="1270.15" r="5.4"/><circle cx="555.62" cy="1271.92" r="5.4"/><circle cx="562.92" cy="1276.62" r="5.4"/><circle cx="570.22" cy="1277.21" r="5.4"/><circle cx="577.52" cy="1277.21" r="5.4"/><circle cx="584.83" cy="1279.56" r="5.4"/><circle cx="592.13" cy="1280.74" r="5.4"/><circle cx="599.43" cy="1281.91" r="5.4"/><circle cx="606.74" cy="1282.5" r="5.4"/><circle cx="614.04" cy="1284.26" r="5.4"/><circle cx="621.34" cy="1281.91" r="5.4"/><circle cx="628.64" cy="1283.09" r="5.4"/><circle cx="635.95" cy="1284.26" r="5.4"/><circle cx="643.25" cy="1281.91" r="5.4"/><circle cx="650.55" cy="1288.97" r="5.4"/><circle cx="657.85" cy="1289.56" r="5.4"/><circle cx="665.15" cy="1290.14" r="5.4"/><circle cx="672.46" cy="1291.32" r="5.4"/><circle cx="679.76" cy="1291.91" r="5.4"/><circle cx="687.06" cy="1293.08" r="5.4"/><circle cx="694.37" cy="1291.91" r="5.4"/><circle cx="701.67" cy="1291.32" r="5.4"/><circle cx="708.97" cy="1288.38" r="5.4"/><circle cx="716.27" cy="1291.91" r="5.4"/><circle cx="723.58" cy="1293.08" r="5.4"/><circle cx="730.88" cy="1293.67" r="5.4"/><circle cx="738.18" cy="1292.5" r="5.4"/><circle cx="745.48" cy="1294.26" r="5.4"/><circle cx="752.78" cy="1294.85" r="5.4"/><circle cx="760.09" cy="1294.85" r="5.4"/><circle cx="767.39" cy="1294.85" r="5.4"/><circle cx="774.69" cy="1294.26" r="5.4"/><circle cx="782" cy="1293.08" r="5.4"/><circle cx="789.3" cy="1294.26" r="5.4"/><circle cx="796.6" cy="1274.86" r="5.4"/>
</g>
</g>
<text transform="translate(212.4,1363.3) scale(1.035,1)" font-family='"DejaVu Sans", "Liberation Sans", sans-serif' font-size="34.2" text-anchor="middle" fill="#000">0</text>
<text transform="translate(358.45,1363.3) scale(1.035,1)" font-family='"DejaVu Sans", "Liberation Sans", sans-serif' font-size="34.2" text-anchor="middle" fill="#000">20</text>
<text transform="translate(504.5,1363.3) scale(1.035,1)" font-family='"DejaVu Sans", "Liberation Sans", sans-serif' font-size="34.2" text-anchor="middle" fill="#000">40</text>
<text transform="translate(650.55,1363.3) scale(1.035,1)" font-family='"DejaVu Sans", "Liberation Sans", sans-serif' font-size="34.2" text-anchor="middle" fill="#000">60</text>
<text transform="translate(796.6,1363.3) scale(1.035,1)" font-family='"DejaVu Sans", "Liberation Sans", sans-serif' font-size="34.2" text-anchor="middle" fill="#000">80</text>
<text transform="translate(171.15,1309.51) scale(1.035,1)" font-family='"DejaVu Sans", "Liberation Sans", sans-serif' font-size="34.2" text-anchor="end" fill="#000">0.00</text>
<text transform="translate(171.15,1192.31) scale(1.035,1)" font-family='"DejaVu Sans", "Liberation Sans", sans-serif' font-size="34.2" text-anchor="end" fill="#000">0.02</text>
<text transform="translate(171.15,1074.11) scale(1.035,1)" font-family='"DejaVu Sans", "Liberation Sans", sans-serif' font-size="34.2" text-anchor="end" fill="#000">0.04</text>
<text transform="translate(171.15,957.31) scale(1.035,1)" font-family='"DejaVu Sans", "Liberation Sans", sans-serif' font-size="34.2" text-anchor="end" fill="#000">0.06</text>
<text transform="translate(171.15,840.01) scale(1.035,1)" font-family='"DejaVu Sans", "Liberation Sans", sans-serif' font-size="34.2" text-anchor="end" fill="#000">0.08</text>
<text transform="translate(171.15,721.61) scale(1.035,1)" font-family='"DejaVu Sans", "Liberation Sans", sans-serif' font-size="34.2" text-anchor="end" fill="#000">0.10</text>
<g transform="translate(74,1053.65) rotate(-90) scale(0.966,1)"><text font-family='"DejaVu Sans", "Liberation Sans", sans-serif' font-size="35.4" x="0" y="0" font-style="italic">n</text><text font-family='"DejaVu Sans", "Liberation Sans", sans-serif' font-size="24.78" x="23.15" y="4.25" font-style="italic">i</text><text font-family='"DejaVu Sans", "Liberation Sans", sans-serif' font-size="35.4" x="31.46" y="0">(<tspan font-style="italic">x</tspan>)</text></g>
<text transform="translate(503,1400) scale(1.035,1)" font-family='"DejaVu Sans", "Liberation Sans", sans-serif' font-size="34.2" text-anchor="middle" font-style="italic" fill="#000">i</text>
<rect x="527.5" y="723.5" width="279" height="75" rx="5" ry="5" fill="#fff" fill-opacity="0.8" stroke="#cccccc" stroke-opacity="0.8" stroke-width="1.4"/>
<g transform="translate(643.5,769.5) scale(1.035,1)"><text font-family='"DejaVu Sans", "Liberation Sans", sans-serif' font-size="34.4" x="0" y="0" font-style="italic">n</text><text font-family='"DejaVu Sans", "Liberation Sans", sans-serif' font-size="24.08" x="22.5" y="8.6" font-style="italic">i</text><text font-family='"DejaVu Sans", "Liberation Sans", sans-serif' font-size="24.08" x="23.87" y="-13.76" font-style="italic">o</text><text font-family='"DejaVu Sans", "Liberation Sans", sans-serif' font-size="34.4" x="38.61" y="0">(0.05)</text></g>
</g>
<line x1="540" y1="756.8" x2="615" y2="756.8" stroke="#111" stroke-width="2.3"/>
<rect x="184.65" y="706.3" width="640.15" height="618.7" fill="none" stroke="#3a3a3a" stroke-width="1.8"/>
<line x1="212.4" y1="1325" x2="212.4" y2="1330.2" stroke="#3a3a3a" stroke-width="1.8"/>
<line x1="358.45" y1="1325" x2="358.45" y2="1330.2" stroke="#3a3a3a" stroke-width="1.8"/>
<line x1="504.5" y1="1325" x2="504.5" y2="1330.2" stroke="#3a3a3a" stroke-width="1.8"/>
<line x1="650.55" y1="1325" x2="650.55" y2="1330.2" stroke="#3a3a3a" stroke-width="1.8"/>
<line x1="796.6" y1="1325" x2="796.6" y2="1330.2" stroke="#3a3a3a" stroke-width="1.8"/>
<line x1="179.45" y1="1297.2" x2="184.65" y2="1297.2" stroke="#3a3a3a" stroke-width="1.8"/>
<line x1="179.45" y1="1180" x2="184.65" y2="1180" stroke="#3a3a3a" stroke-width="1.8"/>
<line x1="179.45" y1="1061.8" x2="184.65" y2="1061.8" stroke="#3a3a3a" stroke-width="1.8"/>
<line x1="179.45" y1="945" x2="184.65" y2="945" stroke="#3a3a3a" stroke-width="1.8"/>
<line x1="179.45" y1="827.7" x2="184.65" y2="827.7" stroke="#3a3a3a" stroke-width="1.8"/>
<line x1="179.45" y1="709.3" x2="184.65" y2="709.3" stroke="#3a3a3a" stroke-width="1.8"/>
<text transform="translate(-0.9,767.3) scale(1.0,1)" font-family='"Liberation Serif", "DejaVu Serif", serif' font-size="50" text-anchor="start" fill="#000" stroke="#000" stroke-width="0.3">(c)</text>
<path d="M1099.62 877.09 L1101.07 890.59 L1102.52 903.66 L1103.97 916.31 L1105.42 928.56 L1106.86 940.41 L1108.31 951.89 L1109.76 963 L1111.21 973.75 L1112.65 984.16 L1114.1 994.24 L1115.55 1004 L1117 1013.45 L1118.44 1022.59 L1119.89 1031.44 L1121.34 1040.01 L1122.79 1048.3 L1124.24 1056.33 L1125.68 1064.11 L1127.13 1071.63 L1128.58 1078.92 L1130.03 1085.97 L1131.47 1092.8 L1132.92 1099.41 L1134.37 1105.8 L1135.82 1112 L1137.26 1117.99 L1138.71 1123.8 L1140.16 1129.42 L1141.61 1134.85 L1143.06 1140.12 L1144.5 1145.22 L1145.95 1150.15 L1147.4 1154.93 L1148.85 1159.55 L1150.29 1164.03 L1151.74 1168.36 L1153.19 1172.56 L1154.64 1176.62 L1156.08 1180.55 L1157.53 1184.36 L1158.98 1188.04 L1160.43 1191.61 L1161.88 1195.06 L1163.32 1198.4 L1164.77 1201.64 L1166.22 1204.77 L1167.67 1207.8 L1169.11 1210.74 L1170.56 1213.58 L1172.01 1216.33 L1173.46 1218.99 L1174.9 1221.57 L1176.35 1224.07 L1177.8 1226.48 L1179.25 1228.82 L1180.7 1231.09 L1182.14 1233.28 L1183.59 1235.4 L1185.04 1237.45 L1186.49 1239.44 L1187.93 1241.37 L1189.38 1243.23 L1190.83 1245.03 L1192.28 1246.78 L1193.72 1248.47 L1195.17 1250.11 L1196.62 1251.69 L1198.07 1253.22 L1199.52 1254.71 L1200.96 1256.15 L1202.41 1257.54 L1203.86 1258.88 L1205.31 1260.19 L1206.75 1261.45 L1208.2 1262.67 L1209.65 1263.85 L1211.1 1265 L1212.54 1266.11 L1213.99 1267.18 L1215.44 1268.22 L1216.89 1269.22 L1218.34 1270.2 L1219.78 1271.14 L1221.23 1272.05 L1222.68 1272.94 L1224.13 1273.79 L1225.57 1274.62 L1227.02 1275.42 L1228.47 1276.19 L1229.92 1276.95 L1231.36 1277.67 L1232.81 1278.38 L1234.26 1279.06 L1235.71 1279.72 L1237.16 1280.35 L1238.6 1280.97 L1240.05 1281.57 L1241.5 1282.15 L1242.95 1282.71 L1244.39 1283.25 L1245.84 1283.78 L1247.29 1284.29 L1248.74 1284.78 L1250.18 1285.26 L1251.63 1285.72 L1253.08 1286.16 L1254.53 1286.6 L1255.98 1287.02 L1257.42 1287.42 L1258.87 1287.81 L1260.32 1288.19 L1261.77 1288.56 L1263.21 1288.92 L1264.66 1289.26 L1266.11 1289.59 L1267.56 1289.92 L1269 1290.23 L1270.45 1290.53 L1271.9 1290.82 L1273.35 1291.11 L1274.8 1291.38 L1276.24 1291.65 L1277.69 1291.91 L1279.14 1292.15 L1280.59 1292.4 L1282.03 1292.63 L1283.48 1292.85 L1284.93 1293.07 L1286.38 1293.28 L1287.82 1293.49 L1289.27 1293.69 L1290.72 1293.88 L1292.17 1294.07 L1293.61 1294.25 L1295.06 1294.42 L1296.51 1294.59 L1297.96 1294.75 L1299.41 1294.91 L1300.85 1295.06 L1302.3 1295.21 L1303.75 1295.35 L1305.2 1295.49 L1306.64 1295.63 L1308.09 1295.76 L1309.54 1295.88 L1310.99 1296.01 L1312.43 1296.12 L1313.88 1296.24 L1315.33 1296.35 L1316.78 1296.46 L1318.23 1296.56 L1319.67 1296.66 L1321.12 1296.76 L1322.57 1296.85 L1324.02 1296.94 L1325.46 1297.03 L1326.91 1297.12 L1328.36 1297.2 L1329.81 1297.28 L1331.25 1297.35 L1332.7 1297.43 L1334.15 1297.5 L1335.6 1297.57 L1337.05 1297.64 L1338.49 1297.71 L1339.94 1297.77 L1341.39 1297.83 L1342.84 1297.89 L1344.28 1297.95 L1345.73 1298 L1347.18 1298.06 L1348.63 1298.11 L1350.07 1298.16 L1351.52 1298.21 L1352.97 1298.26 L1354.42 1298.3 L1355.87 1298.35 L1357.31 1298.39 L1358.76 1298.43 L1360.21 1298.47 L1361.66 1298.51 L1363.1 1298.55 L1364.55 1298.59 L1366 1298.62 L1367.45 1298.66 L1368.89 1298.69 L1370.34 1298.72 L1371.79 1298.76 L1373.24 1298.79 L1374.69 1298.81 L1376.13 1298.84 L1377.58 1298.87 L1379.03 1298.9 L1380.48 1298.92 L1381.92 1298.95 L1383.37 1298.97 L1384.82 1298.99 L1386.27 1299.02 L1387.71 1299.04 L1389.16 1299.06 L1390.61 1299.08 L1392.06 1299.1 L1393.51 1299.12 L1394.95 1299.14 L1396.4 1299.16 L1397.85 1299.17 L1399.3 1299.19 L1400.74 1299.21 L1402.19 1299.22 L1403.64 1299.24 L1405.09 1299.25 L1406.53 1299.27 L1407.98 1299.28 L1409.43 1299.29 L1410.88 1299.31 L1412.33 1299.32 L1413.77 1299.33 L1415.22 1299.34 L1416.67 1299.35 L1418.12 1299.37 L1419.56 1299.38 L1421.01 1299.39 L1422.46 1299.4 L1423.91 1299.41 L1425.35 1299.42 L1426.8 1299.42 L1428.25 1299.43 L1429.7 1299.44 L1431.15 1299.45 L1432.59 1299.46 L1434.04 1299.47 L1435.49 1299.47 L1436.94 1299.48 L1438.38 1299.49 L1439.83 1299.49 L1441.28 1299.5 L1442.73 1299.51 L1444.17 1299.51 L1445.62 1299.52 L1447.07 1299.53 L1448.52 1299.53 L1449.97 1299.54 L1451.41 1299.54 L1452.86 1299.55 L1454.31 1299.55 L1455.76 1299.56 L1457.2 1299.56 L1458.65 1299.57 L1460.1 1299.57 L1461.55 1299.57 L1462.99 1299.58 L1464.44 1299.58 L1465.89 1299.59 L1467.34 1299.59 L1468.79 1299.59 L1470.23 1299.6 L1471.68 1299.6 L1473.13 1299.6 L1474.58 1299.61 L1476.02 1299.61 L1477.47 1299.61 L1478.92 1299.61 L1480.37 1299.62 L1481.81 1299.62 L1483.26 1299.62 L1484.71 1299.62 L1486.16 1299.63 L1487.61 1299.63 L1489.05 1299.63 L1490.5 1299.63 L1491.95 1299.64 L1493.4 1299.64 L1494.84 1299.64 L1496.29 1299.64 L1497.74 1299.64 L1499.19 1299.65 L1500.63 1299.65 L1502.08 1299.65 L1503.53 1299.65 L1504.98 1299.65 L1506.43 1299.65 L1507.87 1299.66 L1509.32 1299.66 L1510.77 1299.66 L1512.22 1299.66 L1513.66 1299.66 L1515.11 1299.66 L1516.56 1299.66 L1518.01 1299.66 L1519.45 1299.67 L1520.9 1299.67 L1522.35 1299.67 L1523.8 1299.67 L1525.25 1299.67 L1526.69 1299.67 L1528.14 1299.67 L1529.59 1299.67 L1531.04 1299.67 L1532.48 1299.67 L1533.93 1299.68 L1535.38 1299.68 L1536.83 1299.68 L1538.27 1299.68 L1539.72 1299.68 L1541.17 1299.68 L1542.62 1299.68 L1544.07 1299.68 L1545.51 1299.68 L1546.96 1299.68 L1548.41 1299.68 L1549.86 1299.68 L1551.3 1299.68 L1552.75 1299.68 L1554.2 1299.68 L1555.65 1299.68 L1557.09 1299.69 L1558.54 1299.69 L1559.99 1299.69 L1561.44 1299.69 L1562.88 1299.69 L1564.33 1299.69 L1565.78 1299.69 L1567.23 1299.69 L1568.68 1299.69 L1570.12 1299.69 L1571.57 1299.69 L1573.02 1299.69 L1574.47 1299.69 L1575.91 1299.69 L1577.36 1299.69 L1578.81 1299.69 L1580.26 1299.69 L1581.7 1299.69 L1583.15 1299.69 L1584.6 1299.69 L1586.05 1299.69 L1587.5 1299.69 L1588.94 1299.69 L1590.39 1299.69 L1591.84 1299.69 L1593.29 1299.69 L1594.73 1299.69 L1596.18 1299.69 L1597.63 1299.69 L1599.08 1299.69 L1600.52 1299.69 L1601.97 1299.69 L1603.42 1299.69 L1604.87 1299.69 L1606.32 1299.7 L1607.76 1299.7 L1609.21 1299.7 L1610.66 1299.7 L1612.11 1299.7 L1613.55 1299.7 L1615 1299.7 L1616.45 1299.7 L1617.9 1299.7 L1619.34 1299.7 L1620.79 1299.7 L1622.24 1299.7 L1623.69 1299.7 L1625.14 1299.7 L1626.58 1299.7 L1628.03 1299.7 L1629.48 1299.7 L1630.93 1299.7 L1632.37 1299.7 L1633.82 1299.7 L1635.27 1299.7 L1636.72 1299.7 L1638.16 1299.7 L1639.61 1299.7 L1641.06 1299.7 L1642.51 1299.7 L1643.96 1299.7 L1645.4 1299.7 L1646.85 1299.7 L1648.3 1299.7 L1649.75 1299.7 L1651.19 1299.7 L1652.64 1299.7 L1654.09 1299.7 L1655.54 1299.7 L1656.98 1299.7 L1658.43 1299.7 L1659.88 1299.7 L1661.33 1299.7 L1662.78 1299.7 L1664.22 1299.7 L1665.67 1299.7 L1667.12 1299.7 L1668.57 1299.7 L1670.01 1299.7 L1671.46 1299.7 L1672.91 1299.7 L1674.36 1299.7 L1675.8 1299.7 L1677.25 1299.7 L1678.7 1299.7" fill="none" stroke="#111" stroke-width="2" stroke-linejoin="round" clip-path="url(#c3)"/>
<g id="panel-d">
<g clip-path="url(#c3)">
<g fill="#000000">
<circle cx="1106.15" cy="750.83" r="5.4"/><circle cx="1113.39" cy="1022.95" r="5.4"/><circle cx="1120.64" cy="1056.3" r="5.4"/><circle cx="1127.89" cy="1093.3" r="5.4"/><circle cx="1135.14" cy="1124.45" r="5.4"/><circle cx="1142.38" cy="1150.01" r="5.4"/><circle cx="1149.63" cy="1170.7" r="5.4"/><circle cx="1156.88" cy="1190.17" r="5.4"/><circle cx="1164.13" cy="1207.21" r="5.4"/><circle cx="1171.38" cy="1216.94" r="5.4"/><circle cx="1178.62" cy="1235.93" r="5.4"/><circle cx="1185.87" cy="1241.28" r="5.4"/><circle cx="1193.12" cy="1252.24" r="5.4"/><circle cx="1200.37" cy="1259.54" r="5.4"/><circle cx="1207.61" cy="1264.41" r="5.4"/><circle cx="1214.86" cy="1269.28" r="5.4"/><circle cx="1222.11" cy="1274.14" r="5.4"/><circle cx="1229.36" cy="1277.79" r="5.4"/><circle cx="1236.6" cy="1281.2" r="5.4"/><circle cx="1243.85" cy="1283.39" r="5.4"/><circle cx="1251.1" cy="1285.24" r="5.4"/><circle cx="1258.35" cy="1286.8" r="5.4"/><circle cx="1265.59" cy="1288.13" r="5.4"/><circle cx="1272.84" cy="1289.25" r="5.4"/><circle cx="1280.09" cy="1290.21" r="5.4"/><circle cx="1287.34" cy="1292.13" r="5.4"/><circle cx="1294.58" cy="1293.93" r="5.4"/><circle cx="1301.83" cy="1295.62" r="5.4"/><circle cx="1309.08" cy="1296.23" r="5.4"/><circle cx="1316.33" cy="1296.75" r="5.4"/><circle cx="1323.57" cy="1297.19" r="5.4"/><circle cx="1330.82" cy="1297.57" r="5.4"/><circle cx="1338.07" cy="1297.89" r="5.4"/><circle cx="1345.32" cy="1298.16" r="5.4"/><circle cx="1352.56" cy="1298.39" r="5.4"/><circle cx="1359.81" cy="1298.59" r="5.4"/><circle cx="1367.06" cy="1298.75" r="5.4"/><circle cx="1374.31" cy="1298.9" r="5.4"/><circle cx="1381.55" cy="1299.02" r="5.4"/><circle cx="1388.8" cy="1299.12" r="5.4"/><circle cx="1396.05" cy="1299.21" r="5.4"/><circle cx="1403.3" cy="1299.28" r="5.4"/><circle cx="1410.54" cy="1299.34" r="5.4"/><circle cx="1417.79" cy="1299.4" r="5.4"/><circle cx="1425.04" cy="1299.44" r="5.4"/><circle cx="1432.29" cy="1301.65" r="5.4"/><circle cx="1439.53" cy="1299.51" r="5.4"/><circle cx="1446.78" cy="1299.54" r="5.4"/><circle cx="1454.03" cy="1299.57" r="5.4"/><circle cx="1461.28" cy="1299.59" r="5.4"/><circle cx="1468.52" cy="1299.6" r="5.4"/><circle cx="1475.77" cy="1299.62" r="5.4"/><circle cx="1483.02" cy="1299.63" r="5.4"/><circle cx="1490.27" cy="1299.64" r="5.4"/><circle cx="1497.51" cy="1297.75" r="5.4"/><circle cx="1504.76" cy="1299.66" r="5.4"/><circle cx="1512.01" cy="1299.66" r="5.4"/><circle cx="1519.26" cy="1299.67" r="5.4"/><circle cx="1526.5" cy="1299.67" r="5.4"/><circle cx="1533.75" cy="1299.68" r="5.4"/>
</g>
<g fill="#0000ff">
<circle cx="1106.15" cy="742.31" r="5.4"/><circle cx="1113.39" cy="1009.08" r="5.4"/><circle cx="1120.64" cy="1052.16" r="5.4"/><circle cx="1127.89" cy="1090.38" r="5.4"/><circle cx="1135.14" cy="1125.91" r="5.4"/><circle cx="1142.38" cy="1145.87" r="5.4"/><circle cx="1149.63" cy="1176.05" r="5.4"/><circle cx="1156.88" cy="1191.87" r="5.4"/><circle cx="1164.13" cy="1212.56" r="5.4"/><circle cx="1171.38" cy="1220.6" r="5.4"/><circle cx="1178.62" cy="1233.25" r="5.4"/><circle cx="1185.87" cy="1242.99" r="5.4"/><circle cx="1193.12" cy="1249.07" r="5.4"/><circle cx="1200.37" cy="1262.7" r="5.4"/><circle cx="1207.61" cy="1266.11" r="5.4"/><circle cx="1214.86" cy="1272.44" r="5.4"/><circle cx="1222.11" cy="1275.36" r="5.4"/><circle cx="1229.36" cy="1278.28" r="5.4"/><circle cx="1236.6" cy="1281.69" r="5.4"/><circle cx="1243.85" cy="1283.64" r="5.4"/><circle cx="1251.1" cy="1285.48" r="5.4"/><circle cx="1258.35" cy="1287.04" r="5.4"/><circle cx="1265.59" cy="1288.37" r="5.4"/><circle cx="1272.84" cy="1289.5" r="5.4"/><circle cx="1280.09" cy="1290.45" r="5.4"/><circle cx="1287.34" cy="1292.29" r="5.4"/><circle cx="1294.58" cy="1294.01" r="5.4"/><circle cx="1301.83" cy="1295.62" r="5.4"/><circle cx="1309.08" cy="1296.23" r="5.4"/><circle cx="1316.33" cy="1296.75" r="5.4"/><circle cx="1323.57" cy="1297.19" r="5.4"/><circle cx="1330.82" cy="1297.57" r="5.4"/><circle cx="1338.07" cy="1297.89" r="5.4"/><circle cx="1345.32" cy="1298.16" r="5.4"/><circle cx="1352.56" cy="1298.39" r="5.4"/><circle cx="1359.81" cy="1298.59" r="5.4"/><circle cx="1367.06" cy="1298.75" r="5.4"/><circle cx="1374.31" cy="1298.9" r="5.4"/><circle cx="1381.55" cy="1299.02" r="5.4"/><circle cx="1388.8" cy="1299.12" r="5.4"/><circle cx="1396.05" cy="1299.21" r="5.4"/><circle cx="1403.3" cy="1299.28" r="5.4"/><circle cx="1410.54" cy="1299.34" r="5.4"/><circle cx="1417.79" cy="1299.4" r="5.4"/><circle cx="1425.04" cy="1299.44" r="5.4"/><circle cx="1432.29" cy="1299.48" r="5.4"/><circle cx="1439.53" cy="1301.65" r="5.4"/><circle cx="1446.78" cy="1299.54" r="5.4"/><circle cx="1454.03" cy="1299.57" r="5.4"/><circle cx="1461.28" cy="1299.59" r="5.4"/><circle cx="1468.52" cy="1299.6" r="5.4"/><circle cx="1475.77" cy="1301.16" r="5.4"/><circle cx="1483.02" cy="1299.63" r="5.4"/><circle cx="1490.27" cy="1299.64" r="5.4"/><circle cx="1497.51" cy="1299.65" r="5.4"/><circle cx="1504.76" cy="1299.66" r="5.4"/><circle cx="1512.01" cy="1299.66" r="5.4"/><circle cx="1519.26" cy="1299.67" r="5.4"/><circle cx="1526.5" cy="1299.67" r="5.4"/><circle cx="1533.75" cy="1299.68" r="5.4"/>
</g>
<g fill="#008000">
<circle cx="1106.15" cy="763" r="5.4"/><circle cx="1113.39" cy="1029.28" r="5.4"/><circle cx="1120.64" cy="1062.87" r="5.4"/><circle cx="1127.89" cy="1093.05" r="5.4"/><circle cx="1135.14" cy="1128.1" r="5.4"/><circle cx="1142.38" cy="1153.17" r="5.4"/><circle cx="1149.63" cy="1167.53" r="5.4"/><circle cx="1156.88" cy="1190.17" r="5.4"/><circle cx="1164.13" cy="1207.21" r="5.4"/><circle cx="1171.38" cy="1226.19" r="5.4"/><circle cx="1178.62" cy="1230.33" r="5.4"/><circle cx="1185.87" cy="1242.5" r="5.4"/><circle cx="1193.12" cy="1251.02" r="5.4"/><circle cx="1200.37" cy="1254.67" r="5.4"/><circle cx="1207.61" cy="1263.19" r="5.4"/><circle cx="1214.86" cy="1268.06" r="5.4"/><circle cx="1222.11" cy="1269.52" r="5.4"/><circle cx="1229.36" cy="1276.58" r="5.4"/><circle cx="1236.6" cy="1277.79" r="5.4"/><circle cx="1243.85" cy="1282.18" r="5.4"/><circle cx="1251.1" cy="1284.14" r="5.4"/><circle cx="1258.35" cy="1285.83" r="5.4"/><circle cx="1265.59" cy="1287.24" r="5.4"/><circle cx="1272.84" cy="1288.44" r="5.4"/><circle cx="1280.09" cy="1289.48" r="5.4"/><circle cx="1287.34" cy="1291.64" r="5.4"/><circle cx="1294.58" cy="1293.68" r="5.4"/><circle cx="1301.83" cy="1295.62" r="5.4"/><circle cx="1309.08" cy="1296.23" r="5.4"/><circle cx="1316.33" cy="1296.75" r="5.4"/><circle cx="1323.57" cy="1297.19" r="5.4"/><circle cx="1330.82" cy="1297.57" r="5.4"/><circle cx="1338.07" cy="1297.89" r="5.4"/><circle cx="1345.32" cy="1298.16" r="5.4"/><circle cx="1352.56" cy="1298.39" r="5.4"/><circle cx="1359.81" cy="1298.59" r="5.4"/><circle cx="1367.06" cy="1298.75" r="5.4"/><circle cx="1374.31" cy="1298.9" r="5.4"/><circle cx="1381.55" cy="1299.02" r="5.4"/><circle cx="1388.8" cy="1299.12" r="5.4"/><circle cx="1396.05" cy="1299.21" r="5.4"/><circle cx="1403.3" cy="1299.28" r="5.4"/><circle cx="1410.54" cy="1299.34" r="5.4"/><circle cx="1417.79" cy="1299.4" r="5.4"/><circle cx="1425.04" cy="1299.44" r="5.4"/><circle cx="1432.29" cy="1299.48" r="5.4"/><circle cx="1439.53" cy="1299.51" r="5.4"/><circle cx="1446.78" cy="1299.54" r="5.4"/><circle cx="1454.03" cy="1297.75" r="5.4"/><circle cx="1461.28" cy="1299.59" r="5.4"/><circle cx="1468.52" cy="1299.6" r="5.4"/><circle cx="1475.77" cy="1299.62" r="5.4"/><circle cx="1483.02" cy="1299.63" r="5.4"/><circle cx="1490.27" cy="1299.64" r="5.4"/><circle cx="1497.51" cy="1299.65" r="5.4"/><circle cx="1504.76" cy="1299.66" r="5.4"/><circle cx="1512.01" cy="1299.66" r="5.4"/><circle cx="1519.26" cy="1299.67" r="5.4"/><circle cx="1526.5" cy="1299.67" r="5.4"/><circle cx="1533.75" cy="1299.68" r="5.4"/><circle cx="1541" cy="1299.68" r="5.4"/><circle cx="1548.25" cy="1296.78" r="5.4"/><circle cx="1555.49" cy="1299.69" r="5.4"/><circle cx="1562.74" cy="1299.69" r="5.4"/><circle cx="1569.99" cy="1299.69" r="5.4"/><circle cx="1577.24" cy="1299.69" r="5.4"/><circle cx="1584.48" cy="1299.69" r="5.4"/><circle cx="1591.73" cy="1296.78" r="5.4"/><circle cx="1598.98" cy="1299.69" r="5.4"/><circle cx="1606.23" cy="1299.7" r="5.4"/><circle cx="1613.47" cy="1299.7" r="5.4"/><circle cx="1620.72" cy="1299.7" r="5.4"/><circle cx="1627.97" cy="1299.7" r="5.4"/><circle cx="1635.22" cy="1299.7" r="5.4"/><circle cx="1642.46" cy="1299.7" r="5.4"/><circle cx="1649.71" cy="1296.78" r="5.4"/><circle cx="1656.96" cy="1299.7" r="5.4"/><circle cx="1664.2" cy="1299.7" r="5.4"/><circle cx="1671.45" cy="1299.7" r="5.4"/><circle cx="1678.7" cy="1299.7" r="5.4"/>
</g>
<g fill="#ff0000">
<circle cx="1106.15" cy="760.33" r="5.4"/><circle cx="1113.39" cy="1027.09" r="5.4"/><circle cx="1120.64" cy="1055.08" r="5.4"/><circle cx="1127.89" cy="1088.67" r="5.4"/><circle cx="1135.14" cy="1120.8" r="5.4"/><circle cx="1142.38" cy="1150.98" r="5.4"/><circle cx="1149.63" cy="1170.94" r="5.4"/><circle cx="1156.88" cy="1188.71" r="5.4"/><circle cx="1164.13" cy="1205.99" r="5.4"/><circle cx="1171.38" cy="1218.89" r="5.4"/><circle cx="1178.62" cy="1228.87" r="5.4"/><circle cx="1185.87" cy="1241.04" r="5.4"/><circle cx="1193.12" cy="1254.67" r="5.4"/><circle cx="1200.37" cy="1260.27" r="5.4"/><circle cx="1207.61" cy="1263.92" r="5.4"/><circle cx="1214.86" cy="1268.79" r="5.4"/><circle cx="1222.11" cy="1274.39" r="5.4"/><circle cx="1229.36" cy="1277.31" r="5.4"/><circle cx="1236.6" cy="1280.71" r="5.4"/><circle cx="1243.85" cy="1282.91" r="5.4"/><circle cx="1251.1" cy="1284.85" r="5.4"/><circle cx="1258.35" cy="1286.31" r="5.4"/><circle cx="1265.59" cy="1287.77" r="5.4"/><circle cx="1272.84" cy="1288.99" r="5.4"/><circle cx="1280.09" cy="1289.96" r="5.4"/><circle cx="1287.34" cy="1291.18" r="5.4"/><circle cx="1294.58" cy="1292.15" r="5.4"/><circle cx="1301.83" cy="1295.62" r="5.4"/><circle cx="1309.08" cy="1296.23" r="5.4"/><circle cx="1316.33" cy="1296.75" r="5.4"/><circle cx="1323.57" cy="1297.19" r="5.4"/><circle cx="1330.82" cy="1297.57" r="5.4"/><circle cx="1338.07" cy="1297.89" r="5.4"/><circle cx="1345.32" cy="1298.16" r="5.4"/><circle cx="1352.56" cy="1298.39" r="5.4"/><circle cx="1359.81" cy="1298.59" r="5.4"/><circle cx="1367.06" cy="1298.75" r="5.4"/><circle cx="1374.31" cy="1298.9" r="5.4"/><circle cx="1381.55" cy="1299.02" r="5.4"/><circle cx="1388.8" cy="1299.12" r="5.4"/><circle cx="1396.05" cy="1299.21" r="5.4"/><circle cx="1403.3" cy="1299.28" r="5.4"/><circle cx="1410.54" cy="1299.34" r="5.4"/><circle cx="1417.79" cy="1299.4" r="5.4"/><circle cx="1425.04" cy="1299.44" r="5.4"/><circle cx="1432.29" cy="1299.48" r="5.4"/><circle cx="1439.53" cy="1299.51" r="5.4"/><circle cx="1446.78" cy="1299.54" r="5.4"/><circle cx="1454.03" cy="1299.57" r="5.4"/><circle cx="1461.28" cy="1299.59" r="5.4"/><circle cx="1468.52" cy="1299.6" r="5.4"/><circle cx="1475.77" cy="1299.62" r="5.4"/><circle cx="1483.02" cy="1299.63" r="5.4"/><circle cx="1490.27" cy="1299.64" r="5.4"/><circle cx="1497.51" cy="1299.65" r="5.4"/><circle cx="1504.76" cy="1299.66" r="5.4"/><circle cx="1512.01" cy="1299.66" r="5.4"/><circle cx="1519.26" cy="1299.67" r="5.4"/><circle cx="1526.5" cy="1299.67" r="5.4"/><circle cx="1533.75" cy="1299.68" r="5.4"/><circle cx="1541" cy="1299.68" r="5.4"/><circle cx="1548.25" cy="1299.68" r="5.4"/><circle cx="1555.49" cy="1299.69" r="5.4"/><circle cx="1562.74" cy="1299.69" r="5.4"/><circle cx="1569.99" cy="1299.69" r="5.4"/><circle cx="1577.24" cy="1299.69" r="5.4"/><circle cx="1584.48" cy="1299.69" r="5.4"/><circle cx="1591.73" cy="1299.69" r="5.4"/><circle cx="1598.98" cy="1299.69" r="5.4"/><circle cx="1606.23" cy="1299.7" r="5.4"/><circle cx="1613.47" cy="1299.7" r="5.4"/><circle cx="1620.72" cy="1299.7" r="5.4"/><circle cx="1627.97" cy="1299.7" r="5.4"/><circle cx="1635.22" cy="1299.7" r="5.4"/><circle cx="1642.46" cy="1299.7" r="5.4"/><circle cx="1649.71" cy="1299.7" r="5.4"/><circle cx="1656.96" cy="1299.7" r="5.4"/><circle cx="1664.2" cy="1299.7" r="5.4"/><circle cx="1671.45" cy="1299.7" r="5.4"/><circle cx="1678.7" cy="1299.7" r="5.4"/>
</g>
</g>
<text transform="translate(1098.9,1365.3) scale(1.035,1)" font-family='"DejaVu Sans", "Liberation Sans", sans-serif' font-size="34.2" text-anchor="middle" fill="#000">0</text>
<text transform="translate(1243.85,1365.3) scale(1.035,1)" font-family='"DejaVu Sans", "Liberation Sans", sans-serif' font-size="34.2" text-anchor="middle" fill="#000">20</text>
<text transform="translate(1388.8,1365.3) scale(1.035,1)" font-family='"DejaVu Sans", "Liberation Sans", sans-serif' font-size="34.2" text-anchor="middle" fill="#000">40</text>
<text transform="translate(1533.75,1365.3) scale(1.035,1)" font-family='"DejaVu Sans", "Liberation Sans", sans-serif' font-size="34.2" text-anchor="middle" fill="#000">60</text>
<text transform="translate(1678.7,1365.3) scale(1.035,1)" font-family='"DejaVu Sans", "Liberation Sans", sans-serif' font-size="34.2" text-anchor="middle" fill="#000">80</text>
<text transform="translate(1057.8,1312.01) scale(1.035,1)" font-family='"DejaVu Sans", "Liberation Sans", sans-serif' font-size="34.2" text-anchor="end" fill="#000">0.00</text>
<text transform="translate(1057.8,1189.51) scale(1.035,1)" font-family='"DejaVu Sans", "Liberation Sans", sans-serif' font-size="34.2" text-anchor="end" fill="#000">0.05</text>
<text transform="translate(1057.8,1068.81) scale(1.035,1)" font-family='"DejaVu Sans", "Liberation Sans", sans-serif' font-size="34.2" text-anchor="end" fill="#000">0.10</text>
<text transform="translate(1057.8,947.51) scale(1.035,1)" font-family='"DejaVu Sans", "Liberation Sans", sans-serif' font-size="34.2" text-anchor="end" fill="#000">0.15</text>
<text transform="translate(1057.8,825.31) scale(1.035,1)" font-family='"DejaVu Sans", "Liberation Sans", sans-serif' font-size="34.2" text-anchor="end" fill="#000">0.20</text>
<g transform="translate(961,1060.65) rotate(-90) scale(0.966,1)"><text font-family='"DejaVu Sans", "Liberation Sans", sans-serif' font-size="35.4" x="0" y="0" font-style="italic">n</text><text font-family='"DejaVu Sans", "Liberation Sans", sans-serif' font-size="24.78" x="23.15" y="4.25" font-style="italic">i</text><text font-family='"DejaVu Sans", "Liberation Sans", sans-serif' font-size="35.4" x="31.46" y="0">(<tspan font-style="italic">x</tspan>)</text></g>
<text transform="translate(1389,1402) scale(1.035,1)" font-family='"DejaVu Sans", "Liberation Sans", sans-serif' font-size="34.2" text-anchor="middle" font-style="italic" fill="#000">i</text>
<rect x="1411.5" y="731" width="277" height="74" rx="5" ry="5" fill="#fff" fill-opacity="0.8" stroke="#cccccc" stroke-opacity="0.8" stroke-width="1.4"/>
<g transform="translate(1527,777) scale(1.035,1)"><text font-family='"DejaVu Sans", "Liberation Sans", sans-serif' font-size="34.4" x="0" y="0" font-style="italic">n</text><text font-family='"DejaVu Sans", "Liberation Sans", sans-serif' font-size="24.08" x="22.5" y="8.6" font-style="italic">i</text><text font-family='"DejaVu Sans", "Liberation Sans", sans-serif' font-size="24.08" x="23.87" y="-13.76" font-style="italic">o</text><text font-family='"DejaVu Sans", "Liberation Sans", sans-serif' font-size="34.4" x="38.61" y="0">(0.15)</text></g>
</g>
<line x1="1424" y1="763.8" x2="1498.5" y2="763.8" stroke="#111" stroke-width="2.3"/>
<rect x="1071.3" y="713.5" width="634.9" height="613.5" fill="none" stroke="#3a3a3a" stroke-width="1.8"/>
<line x1="1098.9" y1="1327" x2="1098.9" y2="1332.2" stroke="#3a3a3a" stroke-width="1.8"/>
<line x1="1243.85" y1="1327" x2="1243.85" y2="1332.2" stroke="#3a3a3a" stroke-width="1.8"/>
<line x1="1388.8" y1="1327" x2="1388.8" y2="1332.2" stroke="#3a3a3a" stroke-width="1.8"/>
<line x1="1533.75" y1="1327" x2="1533.75" y2="1332.2" stroke="#3a3a3a" stroke-width="1.8"/>
<line x1="1678.7" y1="1327" x2="1678.7" y2="1332.2" stroke="#3a3a3a" stroke-width="1.8"/>
<line x1="1066.1" y1="1299.7" x2="1071.3" y2="1299.7" stroke="#3a3a3a" stroke-width="1.8"/>
<line x1="1066.1" y1="1177.2" x2="1071.3" y2="1177.2" stroke="#3a3a3a" stroke-width="1.8"/>
<line x1="1066.1" y1="1056.5" x2="1071.3" y2="1056.5" stroke="#3a3a3a" stroke-width="1.8"/>
<line x1="1066.1" y1="935.2" x2="1071.3" y2="935.2" stroke="#3a3a3a" stroke-width="1.8"/>
<line x1="1066.1" y1="813" x2="1071.3" y2="813" stroke="#3a3a3a" stroke-width="1.8"/>
<text transform="translate(868.5,767.9) scale(1.0,1)" font-family='"Liberation Serif", "DejaVu Serif", serif' font-size="50" text-anchor="start" fill="#000" stroke="#000" stroke-width="0.3">(d)</text>
<g id="panel-e" filter="url(#bl4)">
<g clip-path="url(#c4)">
<g fill="#000000">
<circle cx="218.35" cy="1445.25" r="5.1"/><circle cx="218.63" cy="1448.61" r="5.1"/><circle cx="218.92" cy="1450.44" r="5.1"/><circle cx="219.21" cy="1453.57" r="5.1"/><circle cx="219.49" cy="1456.02" r="5.1"/><circle cx="219.78" cy="1456.61" r="5.1"/><circle cx="220.06" cy="1458.83" r="5.1"/><circle cx="220.35" cy="1463.85" r="5.1"/><circle cx="220.75" cy="1464.36" r="5.1"/><circle cx="221.19" cy="1466.64" r="5.1"/><circle cx="221.63" cy="1471.44" r="5.1"/><circle cx="222.07" cy="1472.11" r="5.1"/><circle cx="222.51" cy="1475.65" r="5.1"/><circle cx="222.96" cy="1476.85" r="5.1"/><circle cx="223.79" cy="1479.62" r="5.1"/><circle cx="224.71" cy="1480.27" r="5.1"/><circle cx="225.63" cy="1484.03" r="5.1"/><circle cx="226.55" cy="1487" r="5.1"/><circle cx="227.53" cy="1488.07" r="5.1"/><circle cx="229.07" cy="1490.61" r="5.1"/><circle cx="230.61" cy="1492.23" r="5.1"/><circle cx="232.02" cy="1492.21" r="5.1"/><circle cx="233.1" cy="1496.58" r="5.1"/><circle cx="234.17" cy="1498.19" r="5.1"/><circle cx="235.24" cy="1499.41" r="5.1"/><circle cx="236.28" cy="1500.71" r="5.1"/><circle cx="237.17" cy="1505.61" r="5.1"/><circle cx="238.06" cy="1506.58" r="5.1"/><circle cx="238.95" cy="1509.6" r="5.1"/><circle cx="239.75" cy="1512.37" r="5.1"/><circle cx="240.33" cy="1514.17" r="5.1"/><circle cx="240.91" cy="1517.16" r="5.1"/><circle cx="241.49" cy="1517.81" r="5.1"/><circle cx="242.07" cy="1521.43" r="5.1"/><circle cx="243.9" cy="1521.68" r="5.1"/><circle cx="245.98" cy="1524.44" r="5.1"/><circle cx="248.07" cy="1525.45" r="5.1"/><circle cx="249.96" cy="1524.42" r="5.1"/><circle cx="251.84" cy="1526.04" r="5.1"/><circle cx="252.84" cy="1528.31" r="5.1"/><circle cx="253.24" cy="1533.07" r="5.1"/><circle cx="253.63" cy="1533.75" r="5.1"/><circle cx="254.02" cy="1536.72" r="5.1"/><circle cx="254.47" cy="1538.04" r="5.1"/><circle cx="255.16" cy="1541" r="5.1"/><circle cx="255.85" cy="1542.91" r="5.1"/><circle cx="256.54" cy="1545.09" r="5.1"/><circle cx="257.38" cy="1548.08" r="5.1"/><circle cx="258.46" cy="1550.23" r="5.1"/><circle cx="259.53" cy="1553.4" r="5.1"/><circle cx="260.7" cy="1554.76" r="5.1"/><circle cx="262.4" cy="1557.25" r="5.1"/><circle cx="264.09" cy="1558.71" r="5.1"/><circle cx="265.81" cy="1560.82" r="5.1"/><circle cx="267.68" cy="1561.3" r="5.1"/><circle cx="269.55" cy="1561.17" r="5.1"/><circle cx="270.68" cy="1562.06" r="5.1"/><circle cx="271.57" cy="1560.17" r="5.1"/><circle cx="272.46" cy="1557.75" r="5.1"/><circle cx="273.35" cy="1554.45" r="5.1"/><circle cx="274.24" cy="1552.68" r="5.1"/><circle cx="275.14" cy="1548.84" r="5.1"/><circle cx="276.1" cy="1552.62" r="5.1"/><circle cx="277.08" cy="1553.99" r="5.1"/><circle cx="278.05" cy="1555.26" r="5.1"/><circle cx="278.95" cy="1556.77" r="5.1"/><circle cx="279.71" cy="1561.58" r="5.1"/><circle cx="280.47" cy="1564.29" r="5.1"/><circle cx="281.23" cy="1563.68" r="5.1"/><circle cx="281.99" cy="1568.24" r="5.1"/><circle cx="282.85" cy="1569.23" r="5.1"/><circle cx="283.74" cy="1570.62" r="5.1"/><circle cx="284.63" cy="1573.31" r="5.1"/><circle cx="285.52" cy="1577.06" r="5.1"/><circle cx="285.99" cy="1579.74" r="5.1"/><circle cx="286.38" cy="1579.45" r="5.1"/><circle cx="286.78" cy="1583.65" r="5.1"/><circle cx="287.17" cy="1584.19" r="5.1"/><circle cx="287.79" cy="1588.65" r="5.1"/><circle cx="288.68" cy="1589.64" r="5.1"/><circle cx="289.57" cy="1593.63" r="5.1"/><circle cx="290.46" cy="1596.18" r="5.1"/><circle cx="291.56" cy="1596.78" r="5.1"/><circle cx="292.83" cy="1600.39" r="5.1"/><circle cx="294.11" cy="1600.22" r="5.1"/><circle cx="295.35" cy="1601.53" r="5.1"/><circle cx="296.43" cy="1605.35" r="5.1"/><circle cx="297.5" cy="1605.67" r="5.1"/><circle cx="298.57" cy="1608.35" r="5.1"/><circle cx="299.72" cy="1611.11" r="5.1"/><circle cx="301.71" cy="1613.09" r="5.1"/><circle cx="303.71" cy="1612.97" r="5.1"/><circle cx="305.45" cy="1614.21" r="5.1"/><circle cx="306.89" cy="1618.77" r="5.1"/><circle cx="308.33" cy="1618.92" r="5.1"/><circle cx="309.77" cy="1622.9" r="5.1"/><circle cx="311.07" cy="1624.72" r="5.1"/><circle cx="312.34" cy="1625.09" r="5.1"/><circle cx="313.61" cy="1627.39" r="5.1"/><circle cx="314.8" cy="1627.85" r="5.1"/><circle cx="315.87" cy="1628.73" r="5.1"/><circle cx="316.95" cy="1630.72" r="5.1"/><circle cx="318.02" cy="1632.75" r="5.1"/><circle cx="319.23" cy="1635.01" r="5.1"/><circle cx="320.67" cy="1637.96" r="5.1"/><circle cx="322.25" cy="1638.36" r="5.1"/><circle cx="323.95" cy="1639.82" r="5.1"/><circle cx="325.65" cy="1642.44" r="5.1"/><circle cx="327.34" cy="1642.59" r="5.1"/><circle cx="328.95" cy="1644.57" r="5.1"/><circle cx="330.45" cy="1648.61" r="5.1"/><circle cx="331.95" cy="1649.03" r="5.1"/><circle cx="333.45" cy="1650.99" r="5.1"/><circle cx="334.95" cy="1651.14" r="5.1"/><circle cx="336.26" cy="1654.44" r="5.1"/><circle cx="337.53" cy="1657" r="5.1"/><circle cx="338.8" cy="1657.25" r="5.1"/><circle cx="340.43" cy="1659.94" r="5.1"/><circle cx="342.58" cy="1658.92" r="5.1"/><circle cx="344.72" cy="1656.01" r="5.1"/><circle cx="346.6" cy="1659.26" r="5.1"/><circle cx="348.48" cy="1660.24" r="5.1"/><circle cx="350.04" cy="1662.72" r="5.1"/><circle cx="351.43" cy="1663.62" r="5.1"/><circle cx="352.83" cy="1666.71" r="5.1"/><circle cx="354.59" cy="1667.08" r="5.1"/><circle cx="356.68" cy="1663.6" r="5.1"/><circle cx="358.76" cy="1662.53" r="5.1"/><circle cx="360.79" cy="1664.86" r="5.1"/><circle cx="362.79" cy="1667.11" r="5.1"/><circle cx="364.78" cy="1666.16" r="5.1"/><circle cx="366.48" cy="1668.52" r="5.1"/><circle cx="368.18" cy="1670.65" r="5.1"/><circle cx="369.88" cy="1671.47" r="5.1"/><circle cx="371.33" cy="1673.52" r="5.1"/><circle cx="372.77" cy="1675.27" r="5.1"/><circle cx="374.21" cy="1677.37" r="5.1"/><circle cx="375.6" cy="1680.05" r="5.1"/><circle cx="376.88" cy="1681.14" r="5.1"/><circle cx="378.15" cy="1683.43" r="5.1"/><circle cx="379.42" cy="1686.73" r="5.1"/><circle cx="381.22" cy="1685.9" r="5.1"/><circle cx="383.1" cy="1689.14" r="5.1"/><circle cx="385.23" cy="1689.99" r="5.1"/><circle cx="387.56" cy="1688.05" r="5.1"/><circle cx="389.89" cy="1687.18" r="5.1"/><circle cx="392.11" cy="1689.42" r="5.1"/><circle cx="394.26" cy="1688.68" r="5.1"/><circle cx="396.4" cy="1689.59" r="5.1"/><circle cx="398.5" cy="1691.55" r="5.1"/><circle cx="400.5" cy="1693.72" r="5.1"/><circle cx="402.49" cy="1693.14" r="5.1"/><circle cx="403.94" cy="1695.7" r="5.1"/><circle cx="405.17" cy="1697.8" r="5.1"/><circle cx="406.41" cy="1701.46" r="5.1"/><circle cx="407.64" cy="1702.25" r="5.1"/><circle cx="408.88" cy="1705.64" r="5.1"/><circle cx="410.11" cy="1705.5" r="5.1"/><circle cx="411.35" cy="1708.1" r="5.1"/><circle cx="412.58" cy="1711.16" r="5.1"/><circle cx="413.94" cy="1713.87" r="5.1"/><circle cx="415.64" cy="1714.18" r="5.1"/><circle cx="417.34" cy="1715.15" r="5.1"/><circle cx="419.03" cy="1716.52" r="5.1"/><circle cx="420.81" cy="1719.41" r="5.1"/><circle cx="422.96" cy="1719.4" r="5.1"/><circle cx="425.1" cy="1722.45" r="5.1"/><circle cx="427.25" cy="1723.62" r="5.1"/><circle cx="429.18" cy="1722.94" r="5.1"/><circle cx="431.1" cy="1724.68" r="5.1"/><circle cx="433.02" cy="1727.82" r="5.1"/><circle cx="434.8" cy="1728.88" r="5.1"/><circle cx="436.24" cy="1731.32" r="5.1"/><circle cx="437.68" cy="1731.77" r="5.1"/><circle cx="439.12" cy="1733" r="5.1"/><circle cx="440.41" cy="1735.53" r="5.1"/><circle cx="441.65" cy="1739.2" r="5.1"/><circle cx="442.88" cy="1739.58" r="5.1"/><circle cx="444.12" cy="1741.88" r="5.1"/><circle cx="445.57" cy="1744" r="5.1"/><circle cx="447.26" cy="1745.7" r="5.1"/><circle cx="448.96" cy="1747.37" r="5.1"/><circle cx="450.93" cy="1750.04" r="5.1"/><circle cx="453.33" cy="1747.59" r="5.1"/><circle cx="455.73" cy="1747.11" r="5.1"/><circle cx="457.93" cy="1750.77" r="5.1"/><circle cx="459.93" cy="1751.89" r="5.1"/><circle cx="461.93" cy="1753.57" r="5.1"/><circle cx="463.44" cy="1753.65" r="5.1"/><circle cx="464.88" cy="1757.22" r="5.1"/><circle cx="466.32" cy="1759.06" r="5.1"/><circle cx="467.7" cy="1758.76" r="5.1"/><circle cx="468.94" cy="1762.5" r="5.1"/><circle cx="470.17" cy="1764.85" r="5.1"/><circle cx="471.41" cy="1766.35" r="5.1"/><circle cx="472.65" cy="1767.94" r="5.1"/><circle cx="474.09" cy="1769.12" r="5.1"/><circle cx="475.53" cy="1771.21" r="5.1"/><circle cx="476.97" cy="1772.77" r="5.1"/><circle cx="478.26" cy="1774.27" r="5.1"/><circle cx="479.33" cy="1778.08" r="5.1"/><circle cx="480.41" cy="1779.26" r="5.1"/><circle cx="481.48" cy="1783.08" r="5.1"/><circle cx="482.55" cy="1782.78" r="5.1"/><circle cx="483.83" cy="1787.55" r="5.1"/><circle cx="485.27" cy="1788.8" r="5.1"/><circle cx="486.71" cy="1791.46" r="5.1"/><circle cx="488.15" cy="1793.29" r="5.1"/><circle cx="490.03" cy="1794.78" r="5.1"/><circle cx="491.95" cy="1795.19" r="5.1"/><circle cx="493.87" cy="1794.82" r="5.1"/><circle cx="495.86" cy="1798.5" r="5.1"/><circle cx="498" cy="1797.73" r="5.1"/><circle cx="500.15" cy="1799.22" r="5.1"/><circle cx="502.31" cy="1801.39" r="5.1"/><circle cx="504.71" cy="1800.95" r="5.1"/><circle cx="507.11" cy="1800.59" r="5.1"/><circle cx="509.51" cy="1802.27" r="5.1"/><circle cx="511.91" cy="1801.23" r="5.1"/><circle cx="514.31" cy="1800.36" r="5.1"/><circle cx="515.85" cy="1801.68" r="5.1"/><circle cx="517.18" cy="1805.63" r="5.1"/><circle cx="518.51" cy="1806.39" r="5.1"/><circle cx="519.85" cy="1809.37" r="5.1"/><circle cx="521.09" cy="1810.04" r="5.1"/><circle cx="522.33" cy="1811.6" r="5.1"/><circle cx="523.56" cy="1814.74" r="5.1"/><circle cx="524.8" cy="1817.7" r="5.1"/><circle cx="526.03" cy="1817.7" r="5.1"/><circle cx="527.27" cy="1821.74" r="5.1"/><circle cx="528.5" cy="1824.21" r="5.1"/><circle cx="529.74" cy="1825.9" r="5.1"/><circle cx="531.37" cy="1827.59" r="5.1"/><circle cx="533.51" cy="1826.05" r="5.1"/><circle cx="535.66" cy="1829.11" r="5.1"/><circle cx="537.99" cy="1829.27" r="5.1"/><circle cx="540.32" cy="1826.09" r="5.1"/><circle cx="542.64" cy="1826.21" r="5.1"/><circle cx="544.85" cy="1825.26" r="5.1"/><circle cx="547.05" cy="1825.14" r="5.1"/><circle cx="549.16" cy="1824.5" r="5.1"/><circle cx="550.98" cy="1826.22" r="5.1"/><circle cx="552.81" cy="1828.76" r="5.1"/><circle cx="554.63" cy="1827.84" r="5.1"/><circle cx="556.84" cy="1828.91" r="5.1"/><circle cx="559.09" cy="1829.99" r="5.1"/><circle cx="561.33" cy="1830.82" r="5.1"/><circle cx="563.13" cy="1832.18" r="5.1"/><circle cx="564.83" cy="1836.78" r="5.1"/><circle cx="566.52" cy="1838.09" r="5.1"/><circle cx="568.03" cy="1837.5" r="5.1"/><circle cx="569.47" cy="1840.75" r="5.1"/><circle cx="570.91" cy="1842.07" r="5.1"/><circle cx="572.44" cy="1843.89" r="5.1"/><circle cx="574.58" cy="1845.08" r="5.1"/><circle cx="576.73" cy="1847.1" r="5.1"/><circle cx="578.57" cy="1846.06" r="5.1"/><circle cx="580.26" cy="1843.64" r="5.1"/><circle cx="581.96" cy="1841.4" r="5.1"/><circle cx="583.5" cy="1840.01" r="5.1"/><circle cx="584.94" cy="1837.43" r="5.1"/><circle cx="586.38" cy="1836.89" r="5.1"/><circle cx="587.82" cy="1835.49" r="5.1"/><circle cx="590.02" cy="1833.46" r="5.1"/><circle cx="592.22" cy="1831.55" r="5.1"/><circle cx="594.16" cy="1831.65" r="5.1"/><circle cx="595.24" cy="1834.42" r="5.1"/><circle cx="596.31" cy="1837.31" r="5.1"/><circle cx="597.38" cy="1840.02" r="5.1"/><circle cx="598.67" cy="1840.33" r="5.1"/><circle cx="600.92" cy="1840.84" r="5.1"/><circle cx="603.17" cy="1839.42" r="5.1"/><circle cx="605.38" cy="1838.18" r="5.1"/><circle cx="607.22" cy="1839.52" r="5.1"/><circle cx="609.07" cy="1841.46" r="5.1"/><circle cx="610.9" cy="1843.67" r="5.1"/><circle cx="612.71" cy="1844.34" r="5.1"/><circle cx="614.51" cy="1846.8" r="5.1"/><circle cx="616.32" cy="1847.63" r="5.1"/><circle cx="618.22" cy="1848.4" r="5.1"/><circle cx="620.25" cy="1850.6" r="5.1"/><circle cx="622.29" cy="1852.38" r="5.1"/><circle cx="624.33" cy="1851.66" r="5.1"/><circle cx="626.17" cy="1854.32" r="5.1"/><circle cx="628.01" cy="1855.86" r="5.1"/><circle cx="629.91" cy="1858.78" r="5.1"/><circle cx="632.05" cy="1860.03" r="5.1"/><circle cx="634.2" cy="1859.31" r="5.1"/><circle cx="636.27" cy="1860.35" r="5.1"/><circle cx="638.3" cy="1858.73" r="5.1"/><circle cx="640.34" cy="1855.77" r="5.1"/><circle cx="642.37" cy="1855.14" r="5.1"/><circle cx="644.41" cy="1852.78" r="5.1"/><circle cx="646.44" cy="1853.72" r="5.1"/><circle cx="648.48" cy="1851.96" r="5.1"/><circle cx="649.88" cy="1850.76" r="5.1"/><circle cx="651.21" cy="1848.46" r="5.1"/><circle cx="652.55" cy="1846.06" r="5.1"/><circle cx="653.88" cy="1844.28" r="5.1"/><circle cx="656.13" cy="1842.94" r="5.1"/><circle cx="658.41" cy="1840.71" r="5.1"/><circle cx="660.66" cy="1842.59" r="5.1"/><circle cx="662.91" cy="1841.57" r="5.1"/><circle cx="665.16" cy="1842.86" r="5.1"/><circle cx="667.28" cy="1845.97" r="5.1"/><circle cx="669.31" cy="1844.91" r="5.1"/><circle cx="671.35" cy="1846.33" r="5.1"/><circle cx="673.42" cy="1847.55" r="5.1"/><circle cx="675.67" cy="1850.9" r="5.1"/><circle cx="677.92" cy="1849.5" r="5.1"/><circle cx="680.15" cy="1849.69" r="5.1"/><circle cx="682.18" cy="1851.03" r="5.1"/><circle cx="684.22" cy="1847.46" r="5.1"/><circle cx="686.25" cy="1848.5" r="5.1"/><circle cx="688.29" cy="1846.68" r="5.1"/><circle cx="690.32" cy="1845.93" r="5.1"/><circle cx="692.36" cy="1845.03" r="5.1"/><circle cx="694.48" cy="1842.93" r="5.1"/><circle cx="696.86" cy="1843.93" r="5.1"/><circle cx="699.24" cy="1841.79" r="5.1"/><circle cx="701.6" cy="1844.15" r="5.1"/><circle cx="703.93" cy="1842.75" r="5.1"/><circle cx="706.26" cy="1842.82" r="5.1"/><circle cx="708.61" cy="1840.58" r="5.1"/><circle cx="710.99" cy="1842.93" r="5.1"/><circle cx="713.37" cy="1843.82" r="5.1"/><circle cx="715.75" cy="1841.33" r="5.1"/><circle cx="718.13" cy="1842.46" r="5.1"/><circle cx="720.51" cy="1843.53" r="5.1"/><circle cx="722.87" cy="1844.81" r="5.1"/><circle cx="725.2" cy="1843.52" r="5.1"/><circle cx="727.53" cy="1843.9" r="5.1"/><circle cx="729.81" cy="1844.84" r="5.1"/><circle cx="732.06" cy="1846.85" r="5.1"/><circle cx="734.31" cy="1848.13" r="5.1"/><circle cx="736.59" cy="1847.25" r="5.1"/><circle cx="738.92" cy="1846.59" r="5.1"/><circle cx="741.24" cy="1846.1" r="5.1"/><circle cx="743.16" cy="1844.78" r="5.1"/><circle cx="744.49" cy="1843" r="5.1"/><circle cx="745.82" cy="1839.93" r="5.1"/><circle cx="747.15" cy="1839.27" r="5.1"/><circle cx="748.54" cy="1838.82" r="5.1"/><circle cx="749.98" cy="1835.11" r="5.1"/><circle cx="751.42" cy="1834.26" r="5.1"/><circle cx="752.86" cy="1830.46" r="5.1"/><circle cx="755" cy="1832.65" r="5.1"/><circle cx="757.25" cy="1833.7" r="5.1"/><circle cx="759.5" cy="1834.28" r="5.1"/><circle cx="761.81" cy="1834.42" r="5.1"/><circle cx="764.13" cy="1834.89" r="5.1"/><circle cx="766.46" cy="1835.99" r="5.1"/><circle cx="768.82" cy="1837.23" r="5.1"/><circle cx="771.19" cy="1835.24" r="5.1"/><circle cx="773.17" cy="1834.24" r="5.1"/><circle cx="774.86" cy="1834.63" r="5.1"/><circle cx="776.56" cy="1833.47" r="5.1"/><circle cx="778.33" cy="1830.58" r="5.1"/><circle cx="780.18" cy="1828.8" r="5.1"/><circle cx="782.02" cy="1828.15" r="5.1"/><circle cx="784.14" cy="1825.38" r="5.1"/><circle cx="786.38" cy="1824.8" r="5.1"/><circle cx="788.63" cy="1823.74" r="5.1"/><circle cx="790.82" cy="1823.99" r="5.1"/><circle cx="792.97" cy="1822.05" r="5.1"/><circle cx="795.11" cy="1820.72" r="5.1"/><circle cx="797.34" cy="1821.58" r="5.1"/><circle cx="799.72" cy="1822.72" r="5.1"/><circle cx="802.1" cy="1820.91" r="5.1"/><circle cx="804.29" cy="1821.79" r="5.1"/><circle cx="806.21" cy="1819.41" r="5.1"/><circle cx="808.13" cy="1819.38" r="5.1"/><circle cx="810.05" cy="1817.08" r="5.1"/><circle cx="812.28" cy="1816.3" r="5.1"/><circle cx="814.59" cy="1816.8" r="5.1"/><circle cx="816.89" cy="1816.84" r="5.1"/><circle cx="817.2" cy="1818.39" r="5.1"/>
</g>
<g fill="#0000ff">
<circle cx="247.04" cy="1459.48" r="5.1"/><circle cx="262.35" cy="1495.65" r="5.1"/><circle cx="274.7" cy="1505.04" r="5.1"/><circle cx="288.43" cy="1526.09" r="5.1"/><circle cx="302.17" cy="1551.83" r="5.1"/><circle cx="316.09" cy="1573.39" r="5.1"/><circle cx="330" cy="1583.83" r="5.1"/><circle cx="343.57" cy="1604.87" r="5.1"/><circle cx="357.48" cy="1620.35" r="5.1"/><circle cx="371.39" cy="1629.22" r="5.1"/><circle cx="383.57" cy="1653.57" r="5.1"/><circle cx="397.48" cy="1673.22" r="5.1"/><circle cx="411.22" cy="1691.65" r="5.1"/><circle cx="425.13" cy="1711.65" r="5.1"/><circle cx="437.48" cy="1732.7" r="5.1"/><circle cx="451.22" cy="1748.17" r="5.1"/><circle cx="464.78" cy="1764.35" r="5.1"/><circle cx="477.3" cy="1782.96" r="5.1"/><circle cx="491.22" cy="1786.09" r="5.1"/><circle cx="504.78" cy="1785.57" r="5.1"/><circle cx="517.39" cy="1801.39" r="5.1"/><circle cx="530.96" cy="1819.48" r="5.1"/><circle cx="543.48" cy="1832.7" r="5.1"/><circle cx="557.04" cy="1841.74" r="5.1"/><circle cx="569.57" cy="1840.52" r="5.1"/><circle cx="584.7" cy="1855.65" r="5.1"/><circle cx="597.04" cy="1864.87" r="5.1"/><circle cx="609.22" cy="1869.57" r="5.1"/><circle cx="623.13" cy="1880.52" r="5.1"/><circle cx="634.78" cy="1879.13" r="5.1"/><circle cx="650.43" cy="1871.3" r="5.1"/><circle cx="662.96" cy="1870.43" r="5.1"/><circle cx="675.65" cy="1869.57" r="5.1"/><circle cx="688.7" cy="1866.96" r="5.1"/><circle cx="701.74" cy="1868.7" r="5.1"/><circle cx="714.78" cy="1866.43" r="5.1"/><circle cx="726.96" cy="1867.83" r="5.1"/><circle cx="739.13" cy="1861.74" r="5.1"/><circle cx="753.39" cy="1855.65" r="5.1"/><circle cx="766.09" cy="1854.78" r="5.1"/><circle cx="777.39" cy="1856.52" r="5.1"/><circle cx="792.17" cy="1847.83" r="5.1"/><circle cx="804.35" cy="1843.48" r="5.1"/><circle cx="816.52" cy="1839.13" r="5.1"/>
</g>
<g fill="#008000">
<circle cx="218.35" cy="1628.32" r="5.1"/><circle cx="219.77" cy="1629.58" r="5.1"/><circle cx="221.19" cy="1632.12" r="5.1"/><circle cx="222.43" cy="1634.03" r="5.1"/><circle cx="223.27" cy="1637.72" r="5.1"/><circle cx="224.12" cy="1637.95" r="5.1"/><circle cx="224.96" cy="1642.91" r="5.1"/><circle cx="225.8" cy="1643.52" r="5.1"/><circle cx="226.64" cy="1646.15" r="5.1"/><circle cx="227.57" cy="1647.93" r="5.1"/><circle cx="229.17" cy="1650.89" r="5.1"/><circle cx="230.76" cy="1652.65" r="5.1"/><circle cx="232.35" cy="1653.59" r="5.1"/><circle cx="233.95" cy="1655.14" r="5.1"/><circle cx="236.09" cy="1656.8" r="5.1"/><circle cx="238.42" cy="1657.81" r="5.1"/><circle cx="240.75" cy="1656.93" r="5.1"/><circle cx="242.43" cy="1659.58" r="5.1"/><circle cx="243.9" cy="1662.2" r="5.1"/><circle cx="245.37" cy="1662.52" r="5.1"/><circle cx="246.85" cy="1663.65" r="5.1"/><circle cx="248.86" cy="1664.74" r="5.1"/><circle cx="251.19" cy="1666.86" r="5.1"/><circle cx="253.52" cy="1667.31" r="5.1"/><circle cx="255.36" cy="1669.59" r="5.1"/><circle cx="256.95" cy="1671.06" r="5.1"/><circle cx="258.53" cy="1670.91" r="5.1"/><circle cx="260.11" cy="1672.54" r="5.1"/><circle cx="261.18" cy="1674.89" r="5.1"/><circle cx="262.13" cy="1676.86" r="5.1"/><circle cx="263.07" cy="1680.73" r="5.1"/><circle cx="264.02" cy="1683.43" r="5.1"/><circle cx="264.97" cy="1685.76" r="5.1"/><circle cx="265.95" cy="1685.89" r="5.1"/><circle cx="267.02" cy="1689.99" r="5.1"/><circle cx="268.09" cy="1690.37" r="5.1"/><circle cx="269.17" cy="1692.87" r="5.1"/><circle cx="270.24" cy="1695.99" r="5.1"/><circle cx="271.8" cy="1695.54" r="5.1"/><circle cx="274.04" cy="1696.41" r="5.1"/><circle cx="276.29" cy="1699.62" r="5.1"/><circle cx="278.25" cy="1699.1" r="5.1"/><circle cx="279.58" cy="1701.3" r="5.1"/><circle cx="280.91" cy="1704.01" r="5.1"/><circle cx="282.24" cy="1706.31" r="5.1"/><circle cx="283.47" cy="1706.23" r="5.1"/><circle cx="284.54" cy="1709.43" r="5.1"/><circle cx="285.62" cy="1711.9" r="5.1"/><circle cx="286.69" cy="1714.2" r="5.1"/><circle cx="287.76" cy="1715.47" r="5.1"/><circle cx="289.07" cy="1718.67" r="5.1"/><circle cx="290.56" cy="1721.73" r="5.1"/><circle cx="292.06" cy="1721.8" r="5.1"/><circle cx="293.56" cy="1724.16" r="5.1"/><circle cx="295.06" cy="1724.67" r="5.1"/><circle cx="297.01" cy="1726.56" r="5.1"/><circle cx="299" cy="1729.14" r="5.1"/><circle cx="300.7" cy="1728.95" r="5.1"/><circle cx="301.65" cy="1733.64" r="5.1"/><circle cx="302.59" cy="1735.91" r="5.1"/><circle cx="303.54" cy="1735.52" r="5.1"/><circle cx="304.48" cy="1740.43" r="5.1"/><circle cx="305.43" cy="1740.82" r="5.1"/><circle cx="307.12" cy="1743.71" r="5.1"/><circle cx="309.04" cy="1745.1" r="5.1"/><circle cx="310.96" cy="1745.07" r="5.1"/><circle cx="312.8" cy="1747.8" r="5.1"/><circle cx="314.13" cy="1749.73" r="5.1"/><circle cx="315.46" cy="1752.21" r="5.1"/><circle cx="316.79" cy="1752.48" r="5.1"/><circle cx="318.3" cy="1755.36" r="5.1"/><circle cx="320.45" cy="1754.95" r="5.1"/><circle cx="322.6" cy="1752.95" r="5.1"/><circle cx="324.56" cy="1753.43" r="5.1"/><circle cx="326.48" cy="1753.52" r="5.1"/><circle cx="328.4" cy="1756.18" r="5.1"/><circle cx="330.26" cy="1757.23" r="5.1"/><circle cx="331.83" cy="1760.22" r="5.1"/><circle cx="333.39" cy="1761.92" r="5.1"/><circle cx="334.95" cy="1763.38" r="5.1"/><circle cx="337.1" cy="1761.83" r="5.1"/><circle cx="339.38" cy="1762.56" r="5.1"/><circle cx="341.29" cy="1763.12" r="5.1"/><circle cx="342.89" cy="1763.47" r="5.1"/><circle cx="344.48" cy="1767.54" r="5.1"/><circle cx="346.07" cy="1768.58" r="5.1"/><circle cx="347.69" cy="1768.66" r="5.1"/><circle cx="349.38" cy="1772.94" r="5.1"/><circle cx="351.08" cy="1772.11" r="5.1"/><circle cx="352.78" cy="1774.41" r="5.1"/><circle cx="354.52" cy="1777.29" r="5.1"/><circle cx="356.76" cy="1777.74" r="5.1"/><circle cx="359.01" cy="1778.45" r="5.1"/><circle cx="361.26" cy="1779.59" r="5.1"/><circle cx="362.87" cy="1780.75" r="5.1"/><circle cx="364.46" cy="1782.08" r="5.1"/><circle cx="366.06" cy="1783.44" r="5.1"/><circle cx="367.65" cy="1784.89" r="5.1"/><circle cx="369.73" cy="1787.83" r="5.1"/><circle cx="372.11" cy="1788.25" r="5.1"/><circle cx="374.49" cy="1787.87" r="5.1"/><circle cx="376.84" cy="1789" r="5.1"/><circle cx="379.17" cy="1788.36" r="5.1"/><circle cx="381.49" cy="1788.65" r="5.1"/><circle cx="382.99" cy="1790.68" r="5.1"/><circle cx="384.14" cy="1794.36" r="5.1"/><circle cx="385.29" cy="1793.81" r="5.1"/><circle cx="386.44" cy="1797.39" r="5.1"/><circle cx="387.68" cy="1798.61" r="5.1"/><circle cx="389.37" cy="1801.97" r="5.1"/><circle cx="391.07" cy="1802.34" r="5.1"/><circle cx="392.82" cy="1803.88" r="5.1"/><circle cx="395.1" cy="1804.87" r="5.1"/><circle cx="397.38" cy="1806.07" r="5.1"/><circle cx="398.69" cy="1808.68" r="5.1"/><circle cx="399.76" cy="1809.48" r="5.1"/><circle cx="400.83" cy="1813.21" r="5.1"/><circle cx="401.91" cy="1813.01" r="5.1"/><circle cx="402.98" cy="1815.66" r="5.1"/><circle cx="404.14" cy="1817.21" r="5.1"/><circle cx="405.37" cy="1819.31" r="5.1"/><circle cx="406.61" cy="1823.5" r="5.1"/><circle cx="407.84" cy="1825.4" r="5.1"/><circle cx="409.33" cy="1824.68" r="5.1"/><circle cx="411.36" cy="1823.43" r="5.1"/><circle cx="413.4" cy="1822.88" r="5.1"/><circle cx="415.43" cy="1822.65" r="5.1"/><circle cx="417.3" cy="1824.12" r="5.1"/><circle cx="419.14" cy="1825.44" r="5.1"/><circle cx="420.93" cy="1826.52" r="5.1"/><circle cx="421.87" cy="1827.3" r="5.1"/><circle cx="422.82" cy="1830.31" r="5.1"/><circle cx="423.77" cy="1831.86" r="5.1"/><circle cx="424.71" cy="1835.14" r="5.1"/><circle cx="425.66" cy="1837.47" r="5.1"/><circle cx="426.81" cy="1838.39" r="5.1"/><circle cx="428.14" cy="1840.54" r="5.1"/><circle cx="429.47" cy="1844.24" r="5.1"/><circle cx="430.81" cy="1843.83" r="5.1"/><circle cx="432.28" cy="1848.2" r="5.1"/><circle cx="433.84" cy="1850.3" r="5.1"/><circle cx="435.4" cy="1852.31" r="5.1"/><circle cx="437.13" cy="1852.11" r="5.1"/><circle cx="439.28" cy="1853.72" r="5.1"/><circle cx="441.43" cy="1854.89" r="5.1"/><circle cx="443.58" cy="1856.09" r="5.1"/><circle cx="445.96" cy="1857.49" r="5.1"/><circle cx="448.35" cy="1856.86" r="5.1"/><circle cx="450.7" cy="1856.01" r="5.1"/><circle cx="452.84" cy="1858.88" r="5.1"/><circle cx="454.99" cy="1858.75" r="5.1"/><circle cx="457.14" cy="1860.2" r="5.1"/><circle cx="459.37" cy="1861.47" r="5.1"/><circle cx="461.62" cy="1859.99" r="5.1"/><circle cx="463.87" cy="1863.29" r="5.1"/><circle cx="466.18" cy="1863.58" r="5.1"/><circle cx="468.51" cy="1863.62" r="5.1"/><circle cx="470.84" cy="1864.31" r="5.1"/><circle cx="472.55" cy="1865.68" r="5.1"/><circle cx="474.11" cy="1866.64" r="5.1"/><circle cx="475.68" cy="1869.54" r="5.1"/><circle cx="477.45" cy="1869.54" r="5.1"/><circle cx="479.49" cy="1872.29" r="5.1"/><circle cx="481.52" cy="1874.03" r="5.1"/><circle cx="483.57" cy="1874.6" r="5.1"/><circle cx="485.97" cy="1874.99" r="5.1"/><circle cx="488.37" cy="1876.25" r="5.1"/><circle cx="490.68" cy="1876.28" r="5.1"/><circle cx="492.37" cy="1875.55" r="5.1"/><circle cx="494.07" cy="1879.35" r="5.1"/><circle cx="495.78" cy="1880.5" r="5.1"/><circle cx="497.62" cy="1880.2" r="5.1"/><circle cx="499.46" cy="1882.73" r="5.1"/><circle cx="501.42" cy="1883.63" r="5.1"/><circle cx="503.75" cy="1883.72" r="5.1"/><circle cx="506.08" cy="1885.77" r="5.1"/><circle cx="508.43" cy="1887.46" r="5.1"/><circle cx="510.83" cy="1885.52" r="5.1"/><circle cx="513.23" cy="1887.27" r="5.1"/><circle cx="515.6" cy="1886.91" r="5.1"/><circle cx="517.93" cy="1885.7" r="5.1"/><circle cx="520.26" cy="1888.6" r="5.1"/><circle cx="522.59" cy="1888.36" r="5.1"/><circle cx="524.91" cy="1889.99" r="5.1"/><circle cx="527.24" cy="1889.89" r="5.1"/><circle cx="529.57" cy="1890.11" r="5.1"/><circle cx="531.9" cy="1888.26" r="5.1"/><circle cx="534.23" cy="1889.16" r="5.1"/><circle cx="536.52" cy="1888.88" r="5.1"/><circle cx="538.77" cy="1887.81" r="5.1"/><circle cx="541.02" cy="1885.61" r="5.1"/><circle cx="543.1" cy="1886.54" r="5.1"/><circle cx="544.8" cy="1887.36" r="5.1"/><circle cx="546.5" cy="1887.86" r="5.1"/><circle cx="548.32" cy="1889.14" r="5.1"/><circle cx="550.6" cy="1890.01" r="5.1"/><circle cx="552.88" cy="1891.16" r="5.1"/><circle cx="554.49" cy="1892.78" r="5.1"/><circle cx="556.05" cy="1895.67" r="5.1"/><circle cx="557.61" cy="1898.14" r="5.1"/><circle cx="559.58" cy="1897.89" r="5.1"/><circle cx="561.82" cy="1896.68" r="5.1"/><circle cx="564.07" cy="1896.56" r="5.1"/><circle cx="566.38" cy="1894.88" r="5.1"/><circle cx="568.77" cy="1895.09" r="5.1"/><circle cx="571.15" cy="1895.73" r="5.1"/><circle cx="573.53" cy="1894.3" r="5.1"/><circle cx="575.91" cy="1893.29" r="5.1"/><circle cx="578.29" cy="1895.3" r="5.1"/><circle cx="580.61" cy="1894.12" r="5.1"/><circle cx="582.88" cy="1892.24" r="5.1"/><circle cx="585.06" cy="1892.24" r="5.1"/><circle cx="587.06" cy="1894.07" r="5.1"/><circle cx="589.05" cy="1895.62" r="5.1"/><circle cx="591.3" cy="1895.2" r="5.1"/><circle cx="593.63" cy="1895.08" r="5.1"/><circle cx="595.95" cy="1896.32" r="5.1"/><circle cx="598.31" cy="1898" r="5.1"/><circle cx="600.68" cy="1895.56" r="5.1"/><circle cx="602.68" cy="1895.46" r="5.1"/><circle cx="604.37" cy="1892.91" r="5.1"/><circle cx="606.07" cy="1891.26" r="5.1"/><circle cx="608.03" cy="1889.85" r="5.1"/><circle cx="610.28" cy="1889.75" r="5.1"/><circle cx="612.52" cy="1888.15" r="5.1"/><circle cx="614.8" cy="1886.96" r="5.1"/><circle cx="617.13" cy="1886.64" r="5.1"/><circle cx="619.46" cy="1886.25" r="5.1"/><circle cx="621.79" cy="1887.15" r="5.1"/><circle cx="624.12" cy="1886.36" r="5.1"/><circle cx="626.44" cy="1886.82" r="5.1"/><circle cx="628.7" cy="1888.09" r="5.1"/><circle cx="630.85" cy="1886.89" r="5.1"/><circle cx="632.99" cy="1886.76" r="5.1"/><circle cx="635.1" cy="1883.54" r="5.1"/><circle cx="637.02" cy="1883.23" r="5.1"/><circle cx="638.94" cy="1881.77" r="5.1"/><circle cx="640.86" cy="1879.14" r="5.1"/><circle cx="642.9" cy="1880.91" r="5.1"/><circle cx="645.05" cy="1877.44" r="5.1"/><circle cx="647.2" cy="1875.97" r="5.1"/><circle cx="649.41" cy="1876.35" r="5.1"/><circle cx="651.8" cy="1875.06" r="5.1"/><circle cx="654.18" cy="1876.23" r="5.1"/><circle cx="656.57" cy="1875.16" r="5.1"/><circle cx="658.97" cy="1874.45" r="5.1"/><circle cx="661.37" cy="1874.22" r="5.1"/><circle cx="663.69" cy="1876.79" r="5.1"/><circle cx="665.94" cy="1876.18" r="5.1"/><circle cx="668.19" cy="1878.67" r="5.1"/><circle cx="670.43" cy="1877.82" r="5.1"/><circle cx="672.68" cy="1878.48" r="5.1"/><circle cx="674.93" cy="1875.61" r="5.1"/><circle cx="677.11" cy="1874.48" r="5.1"/><circle cx="679.15" cy="1873.26" r="5.1"/><circle cx="681.18" cy="1873.74" r="5.1"/><circle cx="683.22" cy="1871.88" r="5.1"/><circle cx="685.09" cy="1869.47" r="5.1"/><circle cx="686.93" cy="1867.13" r="5.1"/><circle cx="688.78" cy="1867.6" r="5.1"/><circle cx="690.82" cy="1869.79" r="5.1"/><circle cx="692.85" cy="1869.85" r="5.1"/><circle cx="694.89" cy="1869.24" r="5.1"/><circle cx="697.06" cy="1869.27" r="5.1"/><circle cx="699.3" cy="1868.62" r="5.1"/><circle cx="701.55" cy="1868.04" r="5.1"/><circle cx="703.8" cy="1866.77" r="5.1"/><circle cx="706.05" cy="1865.98" r="5.1"/><circle cx="708.29" cy="1867.06" r="5.1"/><circle cx="710.61" cy="1867.37" r="5.1"/><circle cx="713.01" cy="1865.13" r="5.1"/><circle cx="715.41" cy="1867.6" r="5.1"/><circle cx="717.8" cy="1866.17" r="5.1"/><circle cx="720.18" cy="1867.52" r="5.1"/><circle cx="722.56" cy="1868.18" r="5.1"/><circle cx="724.88" cy="1868.83" r="5.1"/><circle cx="727.15" cy="1866.69" r="5.1"/><circle cx="729.39" cy="1868.42" r="5.1"/><circle cx="731.53" cy="1870.46" r="5.1"/><circle cx="733.68" cy="1872.62" r="5.1"/><circle cx="735.99" cy="1869.47" r="5.1"/><circle cx="738.32" cy="1869.54" r="5.1"/><circle cx="740.65" cy="1870.74" r="5.1"/><circle cx="742.81" cy="1867.36" r="5.1"/><circle cx="744.96" cy="1867.17" r="5.1"/><circle cx="747.1" cy="1865.92" r="5.1"/><circle cx="749.32" cy="1866.1" r="5.1"/><circle cx="751.56" cy="1866.06" r="5.1"/><circle cx="753.81" cy="1862.8" r="5.1"/><circle cx="756.06" cy="1863.77" r="5.1"/><circle cx="758.31" cy="1862.91" r="5.1"/><circle cx="760.55" cy="1862.39" r="5.1"/><circle cx="762.61" cy="1860.31" r="5.1"/><circle cx="764.45" cy="1859.96" r="5.1"/><circle cx="766.3" cy="1856.63" r="5.1"/><circle cx="767.81" cy="1854.97" r="5.1"/><circle cx="769.14" cy="1852.38" r="5.1"/><circle cx="770.51" cy="1852.21" r="5.1"/><circle cx="772.89" cy="1851.55" r="5.1"/><circle cx="775.27" cy="1851.17" r="5.1"/><circle cx="777.65" cy="1851.15" r="5.1"/><circle cx="780.03" cy="1853.21" r="5.1"/><circle cx="782.41" cy="1853.14" r="5.1"/><circle cx="784.79" cy="1853.77" r="5.1"/><circle cx="787.18" cy="1853.03" r="5.1"/><circle cx="789.56" cy="1853.65" r="5.1"/><circle cx="791.92" cy="1852.65" r="5.1"/><circle cx="794.25" cy="1853.85" r="5.1"/><circle cx="796.58" cy="1851.07" r="5.1"/><circle cx="798.86" cy="1851.77" r="5.1"/><circle cx="801.01" cy="1851.63" r="5.1"/><circle cx="803.15" cy="1850.3" r="5.1"/><circle cx="805.29" cy="1847.36" r="5.1"/><circle cx="807.29" cy="1846.47" r="5.1"/><circle cx="809.29" cy="1847.08" r="5.1"/><circle cx="811.32" cy="1845.17" r="5.1"/><circle cx="813.4" cy="1844.73" r="5.1"/><circle cx="815.49" cy="1843.52" r="5.1"/><circle cx="817.2" cy="1841.19" r="5.1"/>
</g>
<g fill="#ff0000">
<circle cx="221.3" cy="1640" r="5.1"/><circle cx="233.13" cy="1644.87" r="5.1"/><circle cx="246.87" cy="1678.26" r="5.1"/><circle cx="260.78" cy="1680.87" r="5.1"/><circle cx="272.96" cy="1700.87" r="5.1"/><circle cx="286.52" cy="1710.09" r="5.1"/><circle cx="300.43" cy="1724" r="5.1"/><circle cx="314.35" cy="1734.26" r="5.1"/><circle cx="326.52" cy="1744.87" r="5.1"/><circle cx="340.43" cy="1764.35" r="5.1"/><circle cx="352.96" cy="1782.96" r="5.1"/><circle cx="366.87" cy="1789.04" r="5.1"/><circle cx="380.43" cy="1796.52" r="5.1"/><circle cx="392.96" cy="1807.3" r="5.1"/><circle cx="405.57" cy="1820.87" r="5.1"/><circle cx="419.13" cy="1826.96" r="5.1"/><circle cx="431.3" cy="1831.3" r="5.1"/><circle cx="445.22" cy="1843.48" r="5.1"/><circle cx="458.78" cy="1856.17" r="5.1"/><circle cx="472.7" cy="1860.52" r="5.1"/><circle cx="485.22" cy="1864.87" r="5.1"/><circle cx="498.78" cy="1869.57" r="5.1"/><circle cx="512.7" cy="1873.91" r="5.1"/><circle cx="526.61" cy="1883.13" r="5.1"/><circle cx="538.78" cy="1886.09" r="5.1"/><circle cx="550.96" cy="1880" r="5.1"/><circle cx="564.7" cy="1881.22" r="5.1"/><circle cx="577.39" cy="1890.78" r="5.1"/><circle cx="590.96" cy="1905.74" r="5.1"/><circle cx="604.87" cy="1913.91" r="5.1"/><circle cx="617.04" cy="1909.22" r="5.1"/><circle cx="629.22" cy="1910.43" r="5.1"/><circle cx="643.13" cy="1910.43" r="5.1"/><circle cx="657.04" cy="1910.43" r="5.1"/><circle cx="670.43" cy="1909.04" r="5.1"/><circle cx="683.13" cy="1902.96" r="5.1"/><circle cx="695.65" cy="1902.96" r="5.1"/><circle cx="709.22" cy="1902.96" r="5.1"/><circle cx="723.13" cy="1893.91" r="5.1"/><circle cx="735.3" cy="1892.52" r="5.1"/><circle cx="747.83" cy="1887.83" r="5.1"/><circle cx="761.39" cy="1887.83" r="5.1"/><circle cx="773.91" cy="1880" r="5.1"/><circle cx="787.48" cy="1868.17" r="5.1"/><circle cx="802.96" cy="1861.74" r="5.1"/><circle cx="815.65" cy="1866.61" r="5.1"/>
</g>
</g>
<text transform="translate(218.4,2041.5) scale(1.035,1)" font-family='"DejaVu Sans", "Liberation Sans", sans-serif' font-size="32.5" text-anchor="middle" fill="#000">0.05</text>
<text transform="translate(417.87,2041.5) scale(1.035,1)" font-family='"DejaVu Sans", "Liberation Sans", sans-serif' font-size="32.5" text-anchor="middle" fill="#000">0.10</text>
<text transform="translate(617.33,2041.5) scale(1.035,1)" font-family='"DejaVu Sans", "Liberation Sans", sans-serif' font-size="32.5" text-anchor="middle" fill="#000">0.15</text>
<text transform="translate(816.8,2041.5) scale(1.035,1)" font-family='"DejaVu Sans", "Liberation Sans", sans-serif' font-size="32.5" text-anchor="middle" fill="#000">0.20</text>
<text transform="translate(205.4,2019.17) scale(1.035,1)" font-family='"DejaVu Sans", "Liberation Sans", sans-serif' font-size="32.5" text-anchor="end" fill="#000">0.0000</text>
<text transform="translate(205.4,1945.47) scale(1.035,1)" font-family='"DejaVu Sans", "Liberation Sans", sans-serif' font-size="32.5" text-anchor="end" fill="#000">0.0005</text>
<text transform="translate(205.4,1874.67) scale(1.035,1)" font-family='"DejaVu Sans", "Liberation Sans", sans-serif' font-size="32.5" text-anchor="end" fill="#000">0.0010</text>
<text transform="translate(205.4,1800.97) scale(1.035,1)" font-family='"DejaVu Sans", "Liberation Sans", sans-serif' font-size="32.5" text-anchor="end" fill="#000">0.0015</text>
<text transform="translate(205.4,1729.77) scale(1.035,1)" font-family='"DejaVu Sans", "Liberation Sans", sans-serif' font-size="32.5" text-anchor="end" fill="#000">0.0020</text>
<text transform="translate(205.4,1657.38) scale(1.035,1)" font-family='"DejaVu Sans", "Liberation Sans", sans-serif' font-size="32.5" text-anchor="end" fill="#000">0.0025</text>
<text transform="translate(205.4,1584.77) scale(1.035,1)" font-family='"DejaVu Sans", "Liberation Sans", sans-serif' font-size="32.5" text-anchor="end" fill="#000">0.0030</text>
<text transform="translate(205.4,1512.08) scale(1.035,1)" font-family='"DejaVu Sans", "Liberation Sans", sans-serif' font-size="32.5" text-anchor="end" fill="#000">0.0035</text>
<text transform="translate(205.4,1440.27) scale(1.035,1)" font-family='"DejaVu Sans", "Liberation Sans", sans-serif' font-size="32.5" text-anchor="end" fill="#000">0.0040</text>
<g transform="translate(72,1765.1) rotate(-90) scale(0.966,1)"><text font-family='"DejaVu Sans", "Liberation Sans", sans-serif' font-size="33.6" x="0" y="0" font-style="italic">MAE</text><text font-family='"DejaVu Sans", "Liberation Sans", sans-serif' font-size="23.52" x="73.89" y="4.03" font-style="italic">w</text></g>
<text transform="translate(517,2079) scale(1.035,1)" font-family='"DejaVu Sans", "Liberation Sans", sans-serif' font-size="32.5" text-anchor="middle" fill="#000">x</text>
<rect x="446.5" y="1443.6" width="353.6" height="199.1" rx="5" ry="5" fill="#fff" fill-opacity="0.8" stroke="#cccccc" stroke-opacity="0.8" stroke-width="1.4"/>
<circle cx="494.5" cy="1470.3" r="5.1" fill="#000000"/>
<text transform="translate(556,1483.14) scale(1.035,1)" font-family='"DejaVu Sans", "Liberation Sans", sans-serif' font-size="32.5" text-anchor="start" fill="#000">N=60 T=1.55</text>
<circle cx="494.5" cy="1517.4" r="5.1" fill="#0000ff"/>
<text transform="translate(556,1530.24) scale(1.035,1)" font-family='"DejaVu Sans", "Liberation Sans", sans-serif' font-size="32.5" text-anchor="start" fill="#000">N=60 T=1.66</text>
<circle cx="494.5" cy="1564.5" r="5.1" fill="#008000"/>
<text transform="translate(556,1577.34) scale(1.035,1)" font-family='"DejaVu Sans", "Liberation Sans", sans-serif' font-size="32.5" text-anchor="start" fill="#000">N=80 T=1.55</text>
<circle cx="494.5" cy="1611.6" r="5.1" fill="#ff0000"/>
<text transform="translate(556,1624.44) scale(1.035,1)" font-family='"DejaVu Sans", "Liberation Sans", sans-serif' font-size="32.5" text-anchor="start" fill="#000">N=80 T=1.66</text>
</g>
<rect x="218.4" y="1427.6" width="598.4" height="578.9" fill="none" stroke="#6c6c6c" stroke-width="1.9"/>
<line x1="218.4" y1="2006.5" x2="218.4" y2="2012.5" stroke="#6c6c6c" stroke-width="1.9"/>
<line x1="417.87" y1="2006.5" x2="417.87" y2="2012.5" stroke="#6c6c6c" stroke-width="1.9"/>
<line x1="617.33" y1="2006.5" x2="617.33" y2="2012.5" stroke="#6c6c6c" stroke-width="1.9"/>
<line x1="816.8" y1="2006.5" x2="816.8" y2="2012.5" stroke="#6c6c6c" stroke-width="1.9"/>
<line x1="212.4" y1="2006.5" x2="218.4" y2="2006.5" stroke="#6c6c6c" stroke-width="1.9"/>
<line x1="212.4" y1="1932.8" x2="218.4" y2="1932.8" stroke="#6c6c6c" stroke-width="1.9"/>
<line x1="212.4" y1="1862" x2="218.4" y2="1862" stroke="#6c6c6c" stroke-width="1.9"/>
<line x1="212.4" y1="1788.3" x2="218.4" y2="1788.3" stroke="#6c6c6c" stroke-width="1.9"/>
<line x1="212.4" y1="1717.1" x2="218.4" y2="1717.1" stroke="#6c6c6c" stroke-width="1.9"/>
<line x1="212.4" y1="1644.7" x2="218.4" y2="1644.7" stroke="#6c6c6c" stroke-width="1.9"/>
<line x1="212.4" y1="1572.1" x2="218.4" y2="1572.1" stroke="#6c6c6c" stroke-width="1.9"/>
<line x1="212.4" y1="1499.4" x2="218.4" y2="1499.4" stroke="#6c6c6c" stroke-width="1.9"/>
<line x1="212.4" y1="1427.6" x2="218.4" y2="1427.6" stroke="#6c6c6c" stroke-width="1.9"/>
<text transform="translate(-2.4,1463.3) scale(1.0,1)" font-family='"Liberation Serif", "DejaVu Serif", serif' font-size="50" text-anchor="start" fill="#000" stroke="#000" stroke-width="0.3">(e)</text>
<g id="panel-f" filter="url(#bl5)">
<g clip-path="url(#c5)">
<g fill="#000000">
<circle cx="1084.9" cy="1576.89" r="5.1"/><circle cx="1085.88" cy="1578.56" r="5.1"/><circle cx="1086.87" cy="1579.47" r="5.1"/><circle cx="1087.85" cy="1581.77" r="5.1"/><circle cx="1088.91" cy="1582.97" r="5.1"/><circle cx="1089.98" cy="1586.17" r="5.1"/><circle cx="1091.06" cy="1590.1" r="5.1"/><circle cx="1092.13" cy="1589.52" r="5.1"/><circle cx="1093.33" cy="1593.08" r="5.1"/><circle cx="1094.56" cy="1593.67" r="5.1"/><circle cx="1095.8" cy="1595.64" r="5.1"/><circle cx="1097.03" cy="1599.51" r="5.1"/><circle cx="1098.63" cy="1599.94" r="5.1"/><circle cx="1100.55" cy="1600.76" r="5.1"/><circle cx="1102.47" cy="1602.53" r="5.1"/><circle cx="1104.39" cy="1605.55" r="5.1"/><circle cx="1106.11" cy="1607.03" r="5.1"/><circle cx="1107.8" cy="1606.89" r="5.1"/><circle cx="1109.5" cy="1609.29" r="5.1"/><circle cx="1111.76" cy="1612.26" r="5.1"/><circle cx="1114.13" cy="1610.26" r="5.1"/><circle cx="1115.98" cy="1612.65" r="5.1"/><circle cx="1117.55" cy="1614.02" r="5.1"/><circle cx="1119.11" cy="1617" r="5.1"/><circle cx="1120.84" cy="1618.04" r="5.1"/><circle cx="1122.99" cy="1619.7" r="5.1"/><circle cx="1125.13" cy="1619.96" r="5.1"/><circle cx="1126.42" cy="1620.81" r="5.1"/><circle cx="1127.57" cy="1622.89" r="5.1"/><circle cx="1128.72" cy="1624.68" r="5.1"/><circle cx="1129.87" cy="1629.17" r="5.1"/><circle cx="1131.19" cy="1628.87" r="5.1"/><circle cx="1132.89" cy="1630.28" r="5.1"/><circle cx="1134.59" cy="1634.99" r="5.1"/><circle cx="1136.29" cy="1634.24" r="5.1"/><circle cx="1137.98" cy="1638.15" r="5.1"/><circle cx="1139.68" cy="1637.27" r="5.1"/><circle cx="1141.4" cy="1640.15" r="5.1"/><circle cx="1143.25" cy="1640.91" r="5.1"/><circle cx="1145.09" cy="1644.39" r="5.1"/><circle cx="1147.11" cy="1644.85" r="5.1"/><circle cx="1149.48" cy="1645.33" r="5.1"/><circle cx="1151.72" cy="1646.32" r="5.1"/><circle cx="1153.16" cy="1648.59" r="5.1"/><circle cx="1154.6" cy="1648.83" r="5.1"/><circle cx="1156.04" cy="1651.57" r="5.1"/><circle cx="1157.91" cy="1652.39" r="5.1"/><circle cx="1160.19" cy="1652.08" r="5.1"/><circle cx="1162.4" cy="1655.28" r="5.1"/><circle cx="1164.4" cy="1655.84" r="5.1"/><circle cx="1166.4" cy="1657.88" r="5.1"/><circle cx="1168.59" cy="1656.81" r="5.1"/><circle cx="1170.92" cy="1658.45" r="5.1"/><circle cx="1173.25" cy="1658.8" r="5.1"/><circle cx="1175.61" cy="1660.05" r="5.1"/><circle cx="1177.99" cy="1658.26" r="5.1"/><circle cx="1180.38" cy="1659.42" r="5.1"/><circle cx="1182.76" cy="1660.16" r="5.1"/><circle cx="1185.14" cy="1659.14" r="5.1"/><circle cx="1187.52" cy="1660.97" r="5.1"/><circle cx="1189.86" cy="1662.08" r="5.1"/><circle cx="1192.19" cy="1661.66" r="5.1"/><circle cx="1194.52" cy="1662.96" r="5.1"/><circle cx="1196.78" cy="1663.62" r="5.1"/><circle cx="1199.03" cy="1663.2" r="5.1"/><circle cx="1201.27" cy="1664.48" r="5.1"/><circle cx="1203.35" cy="1667.73" r="5.1"/><circle cx="1205.34" cy="1666.95" r="5.1"/><circle cx="1207.32" cy="1668.62" r="5.1"/><circle cx="1209.01" cy="1669.2" r="5.1"/><circle cx="1210.71" cy="1671.33" r="5.1"/><circle cx="1212.41" cy="1672.86" r="5.1"/><circle cx="1214.1" cy="1677.01" r="5.1"/><circle cx="1215.8" cy="1678.05" r="5.1"/><circle cx="1217.5" cy="1680.22" r="5.1"/><circle cx="1219.71" cy="1681.48" r="5.1"/><circle cx="1221.96" cy="1681.12" r="5.1"/><circle cx="1224.2" cy="1682.98" r="5.1"/><circle cx="1226.52" cy="1682.34" r="5.1"/><circle cx="1228.85" cy="1682.55" r="5.1"/><circle cx="1231.18" cy="1684.83" r="5.1"/><circle cx="1233.55" cy="1685.02" r="5.1"/><circle cx="1235.93" cy="1685.47" r="5.1"/><circle cx="1238.31" cy="1684.28" r="5.1"/><circle cx="1240.71" cy="1685.22" r="5.1"/><circle cx="1243.11" cy="1684.05" r="5.1"/><circle cx="1245.51" cy="1685.95" r="5.1"/><circle cx="1247.89" cy="1686" r="5.1"/><circle cx="1250.27" cy="1684.29" r="5.1"/><circle cx="1252.63" cy="1686.73" r="5.1"/><circle cx="1254.78" cy="1685.4" r="5.1"/><circle cx="1256.92" cy="1686.19" r="5.1"/><circle cx="1259.07" cy="1689.27" r="5.1"/><circle cx="1261.22" cy="1688.97" r="5.1"/><circle cx="1263.42" cy="1690.6" r="5.1"/><circle cx="1265.79" cy="1691.37" r="5.1"/><circle cx="1268.13" cy="1689.76" r="5.1"/><circle cx="1269.97" cy="1690.48" r="5.1"/><circle cx="1271.82" cy="1687.44" r="5.1"/><circle cx="1273.63" cy="1686.37" r="5.1"/><circle cx="1275.32" cy="1684.4" r="5.1"/><circle cx="1277.02" cy="1683.97" r="5.1"/><circle cx="1278.81" cy="1682.45" r="5.1"/><circle cx="1281.14" cy="1680.39" r="5.1"/><circle cx="1283.47" cy="1679.22" r="5.1"/><circle cx="1285.77" cy="1679.19" r="5.1"/><circle cx="1287.91" cy="1678.48" r="5.1"/><circle cx="1290.06" cy="1676.34" r="5.1"/><circle cx="1292.21" cy="1675.5" r="5.1"/><circle cx="1294.35" cy="1676.38" r="5.1"/><circle cx="1296.5" cy="1675.11" r="5.1"/><circle cx="1298.65" cy="1674.92" r="5.1"/><circle cx="1300.79" cy="1673.86" r="5.1"/><circle cx="1302.94" cy="1672.45" r="5.1"/><circle cx="1305.09" cy="1669.77" r="5.1"/><circle cx="1306.93" cy="1667.65" r="5.1"/><circle cx="1308.37" cy="1666.21" r="5.1"/><circle cx="1309.81" cy="1664.78" r="5.1"/><circle cx="1311.25" cy="1663.06" r="5.1"/><circle cx="1313.17" cy="1661.71" r="5.1"/><circle cx="1315.2" cy="1659.86" r="5.1"/><circle cx="1317.24" cy="1660.16" r="5.1"/><circle cx="1319.39" cy="1657.35" r="5.1"/><circle cx="1321.72" cy="1657.33" r="5.1"/><circle cx="1324.04" cy="1658.11" r="5.1"/><circle cx="1326.39" cy="1657.62" r="5.1"/><circle cx="1328.78" cy="1656.29" r="5.1"/><circle cx="1331.16" cy="1656.41" r="5.1"/><circle cx="1333.51" cy="1658.09" r="5.1"/><circle cx="1335.84" cy="1654.96" r="5.1"/><circle cx="1338.17" cy="1654.77" r="5.1"/><circle cx="1340.3" cy="1655.04" r="5.1"/><circle cx="1342.22" cy="1653.62" r="5.1"/><circle cx="1344.14" cy="1650.99" r="5.1"/><circle cx="1346.06" cy="1649.18" r="5.1"/><circle cx="1347.78" cy="1648.01" r="5.1"/><circle cx="1349.48" cy="1648.12" r="5.1"/><circle cx="1351.18" cy="1645.45" r="5.1"/><circle cx="1352.99" cy="1645.53" r="5.1"/><circle cx="1354.83" cy="1643.37" r="5.1"/><circle cx="1356.68" cy="1642.45" r="5.1"/><circle cx="1358.47" cy="1637.84" r="5.1"/><circle cx="1360.32" cy="1636.8" r="5.1"/><circle cx="1362.47" cy="1635.18" r="5.1"/><circle cx="1364.61" cy="1635.45" r="5.1"/><circle cx="1366.76" cy="1634.07" r="5.1"/><circle cx="1368.85" cy="1631.99" r="5.1"/><circle cx="1370.89" cy="1632.3" r="5.1"/><circle cx="1372.92" cy="1629.58" r="5.1"/><circle cx="1374.96" cy="1629.01" r="5.1"/><circle cx="1377.06" cy="1627.65" r="5.1"/><circle cx="1379.21" cy="1628.35" r="5.1"/><circle cx="1381.35" cy="1626.05" r="5.1"/><circle cx="1383.5" cy="1624.47" r="5.1"/><circle cx="1385.74" cy="1622.92" r="5.1"/><circle cx="1387.99" cy="1623.31" r="5.1"/><circle cx="1390.24" cy="1623.1" r="5.1"/><circle cx="1392.44" cy="1622.31" r="5.1"/><circle cx="1394.59" cy="1622" r="5.1"/><circle cx="1396.73" cy="1620.59" r="5.1"/><circle cx="1398.88" cy="1617.72" r="5.1"/><circle cx="1401.2" cy="1616.87" r="5.1"/><circle cx="1403.58" cy="1618.57" r="5.1"/><circle cx="1405.97" cy="1618.37" r="5.1"/><circle cx="1408.29" cy="1616.94" r="5.1"/><circle cx="1410.54" cy="1617.12" r="5.1"/><circle cx="1412.78" cy="1615.39" r="5.1"/><circle cx="1415.03" cy="1613.67" r="5.1"/><circle cx="1417.35" cy="1612.72" r="5.1"/><circle cx="1419.68" cy="1611.65" r="5.1"/><circle cx="1422.01" cy="1613.07" r="5.1"/><circle cx="1424.29" cy="1613.16" r="5.1"/><circle cx="1426.54" cy="1612.35" r="5.1"/><circle cx="1428.79" cy="1610.1" r="5.1"/><circle cx="1431.04" cy="1609.91" r="5.1"/><circle cx="1433.42" cy="1610.46" r="5.1"/><circle cx="1435.8" cy="1609.79" r="5.1"/><circle cx="1438.18" cy="1608.82" r="5.1"/><circle cx="1440.53" cy="1607.71" r="5.1"/><circle cx="1442.86" cy="1607.46" r="5.1"/><circle cx="1445.18" cy="1605.77" r="5.1"/><circle cx="1447.48" cy="1605.14" r="5.1"/><circle cx="1449.73" cy="1605.9" r="5.1"/><circle cx="1451.98" cy="1606.04" r="5.1"/><circle cx="1454.23" cy="1603.77" r="5.1"/><circle cx="1456.54" cy="1602.7" r="5.1"/><circle cx="1458.87" cy="1601.94" r="5.1"/><circle cx="1461.2" cy="1601.69" r="5.1"/><circle cx="1463.56" cy="1602.48" r="5.1"/><circle cx="1465.96" cy="1601.36" r="5.1"/><circle cx="1468.36" cy="1602.98" r="5.1"/><circle cx="1470.72" cy="1600.23" r="5.1"/><circle cx="1472.86" cy="1599.67" r="5.1"/><circle cx="1475.01" cy="1599.26" r="5.1"/><circle cx="1477.16" cy="1597.84" r="5.1"/><circle cx="1479.42" cy="1598.54" r="5.1"/><circle cx="1481.8" cy="1598.17" r="5.1"/><circle cx="1484.18" cy="1598.21" r="5.1"/><circle cx="1486.54" cy="1596.79" r="5.1"/><circle cx="1488.79" cy="1594.09" r="5.1"/><circle cx="1491.03" cy="1594.99" r="5.1"/><circle cx="1493.28" cy="1594.06" r="5.1"/><circle cx="1495.58" cy="1593.2" r="5.1"/><circle cx="1497.91" cy="1591.95" r="5.1"/><circle cx="1500.24" cy="1592.74" r="5.1"/><circle cx="1502.57" cy="1592.81" r="5.1"/><circle cx="1504.9" cy="1589.64" r="5.1"/><circle cx="1507.22" cy="1590.87" r="5.1"/><circle cx="1509.55" cy="1589.33" r="5.1"/><circle cx="1511.93" cy="1589.46" r="5.1"/><circle cx="1514.31" cy="1590.38" r="5.1"/><circle cx="1516.69" cy="1590.29" r="5.1"/><circle cx="1519.06" cy="1588.93" r="5.1"/><circle cx="1521.43" cy="1587.1" r="5.1"/><circle cx="1523.74" cy="1588.91" r="5.1"/><circle cx="1525.44" cy="1584.85" r="5.1"/><circle cx="1527.14" cy="1583.8" r="5.1"/><circle cx="1528.83" cy="1583.52" r="5.1"/><circle cx="1530.86" cy="1580.7" r="5.1"/><circle cx="1533.11" cy="1579.71" r="5.1"/><circle cx="1535.35" cy="1581.04" r="5.1"/><circle cx="1537.59" cy="1580.16" r="5.1"/><circle cx="1539.74" cy="1577.08" r="5.1"/><circle cx="1541.89" cy="1576.25" r="5.1"/><circle cx="1544.03" cy="1574.82" r="5.1"/><circle cx="1546.18" cy="1573.27" r="5.1"/><circle cx="1548.33" cy="1572.58" r="5.1"/><circle cx="1550.47" cy="1573.84" r="5.1"/><circle cx="1552.62" cy="1569.88" r="5.1"/><circle cx="1554.84" cy="1569.46" r="5.1"/><circle cx="1557.09" cy="1568.52" r="5.1"/><circle cx="1559.34" cy="1567.3" r="5.1"/><circle cx="1561.6" cy="1567.95" r="5.1"/><circle cx="1563.93" cy="1568.06" r="5.1"/><circle cx="1566.26" cy="1567.78" r="5.1"/><circle cx="1568.59" cy="1566.53" r="5.1"/><circle cx="1570.87" cy="1566.4" r="5.1"/><circle cx="1573.15" cy="1563.04" r="5.1"/><circle cx="1575.35" cy="1563.02" r="5.1"/><circle cx="1577.35" cy="1563.86" r="5.1"/><circle cx="1579.35" cy="1559.68" r="5.1"/><circle cx="1581.44" cy="1559.2" r="5.1"/><circle cx="1583.77" cy="1559.31" r="5.1"/><circle cx="1586.1" cy="1558.04" r="5.1"/><circle cx="1588.43" cy="1558.35" r="5.1"/><circle cx="1590.75" cy="1556.17" r="5.1"/><circle cx="1593.08" cy="1556.19" r="5.1"/><circle cx="1595.41" cy="1557.92" r="5.1"/><circle cx="1597.65" cy="1554.47" r="5.1"/><circle cx="1599.79" cy="1555.84" r="5.1"/><circle cx="1601.94" cy="1552.44" r="5.1"/><circle cx="1604.08" cy="1553.97" r="5.1"/><circle cx="1606.1" cy="1551.66" r="5.1"/><circle cx="1608.1" cy="1550.24" r="5.1"/><circle cx="1610.1" cy="1547.29" r="5.1"/><circle cx="1612.1" cy="1545.68" r="5.1"/><circle cx="1614.09" cy="1546.61" r="5.1"/><circle cx="1616.09" cy="1543.41" r="5.1"/><circle cx="1618.39" cy="1542.81" r="5.1"/><circle cx="1620.72" cy="1544.26" r="5.1"/><circle cx="1623.05" cy="1543.84" r="5.1"/><circle cx="1625.38" cy="1540.62" r="5.1"/><circle cx="1627.71" cy="1542.95" r="5.1"/><circle cx="1630.03" cy="1541.01" r="5.1"/><circle cx="1632.35" cy="1539.9" r="5.1"/><circle cx="1634.6" cy="1538.18" r="5.1"/><circle cx="1636.85" cy="1538.24" r="5.1"/><circle cx="1639.09" cy="1539.31" r="5.1"/><circle cx="1641.39" cy="1536.37" r="5.1"/><circle cx="1643.72" cy="1535.31" r="5.1"/><circle cx="1646.05" cy="1534.77" r="5.1"/><circle cx="1648.33" cy="1534" r="5.1"/><circle cx="1650.48" cy="1533.65" r="5.1"/><circle cx="1652.62" cy="1534.38" r="5.1"/><circle cx="1654.77" cy="1530.62" r="5.1"/><circle cx="1657.02" cy="1530.21" r="5.1"/><circle cx="1659.35" cy="1532.02" r="5.1"/><circle cx="1661.68" cy="1531.62" r="5.1"/><circle cx="1663.99" cy="1530.93" r="5.1"/><circle cx="1666.24" cy="1527.74" r="5.1"/><circle cx="1668.49" cy="1527.24" r="5.1"/><circle cx="1670.73" cy="1528.31" r="5.1"/><circle cx="1672.81" cy="1525.64" r="5.1"/><circle cx="1674.8" cy="1525.01" r="5.1"/><circle cx="1676.8" cy="1522.43" r="5.1"/><circle cx="1679" cy="1520.58" r="5.1"/><circle cx="1681.28" cy="1520.86" r="5.1"/><circle cx="1683.56" cy="1521.39" r="5.1"/><circle cx="1683.7" cy="1521.45" r="5.1"/>
</g>
<g fill="#0000ff">
<circle cx="1087.17" cy="1594.78" r="5.1"/><circle cx="1101.61" cy="1611.65" r="5.1"/><circle cx="1114.13" cy="1626.96" r="5.1"/><circle cx="1129.43" cy="1631.3" r="5.1"/><circle cx="1141.43" cy="1636" r="5.1"/><circle cx="1155.35" cy="1646.43" r="5.1"/><circle cx="1169.26" cy="1646.43" r="5.1"/><circle cx="1183.17" cy="1666.09" r="5.1"/><circle cx="1197.09" cy="1675.13" r="5.1"/><circle cx="1211" cy="1680" r="5.1"/><circle cx="1224.22" cy="1677.04" r="5.1"/><circle cx="1238.13" cy="1683.48" r="5.1"/><circle cx="1250.65" cy="1678.78" r="5.1"/><circle cx="1264.57" cy="1681.39" r="5.1"/><circle cx="1278.13" cy="1684.35" r="5.1"/><circle cx="1291.87" cy="1682.61" r="5.1"/><circle cx="1304.22" cy="1675.3" r="5.1"/><circle cx="1318.13" cy="1667.83" r="5.1"/><circle cx="1332.04" cy="1664.87" r="5.1"/><circle cx="1344.22" cy="1658.78" r="5.1"/><circle cx="1358.13" cy="1646.43" r="5.1"/><circle cx="1371.83" cy="1641.52" r="5.1"/><circle cx="1384.24" cy="1641.91" r="5.1"/><circle cx="1398.04" cy="1631.07" r="5.1"/><circle cx="1410.26" cy="1629.69" r="5.1"/><circle cx="1424.06" cy="1625.16" r="5.1"/><circle cx="1436.87" cy="1625.55" r="5.1"/><circle cx="1451.65" cy="1619.25" r="5.1"/><circle cx="1464.07" cy="1617.67" r="5.1"/><circle cx="1476.29" cy="1614.32" r="5.1"/><circle cx="1490.09" cy="1609.79" r="5.1"/><circle cx="1502.31" cy="1605.84" r="5.1"/><circle cx="1517.68" cy="1601.11" r="5.1"/><circle cx="1529.9" cy="1596.58" r="5.1"/><circle cx="1543.7" cy="1590.27" r="5.1"/><circle cx="1556.12" cy="1584.36" r="5.1"/><circle cx="1568.34" cy="1581.4" r="5.1"/><circle cx="1580.75" cy="1572.34" r="5.1"/><circle cx="1594.55" cy="1569.38" r="5.1"/><circle cx="1606.97" cy="1563.07" r="5.1"/><circle cx="1620.77" cy="1555.78" r="5.1"/><circle cx="1633.97" cy="1549.28" r="5.1"/><circle cx="1645.21" cy="1544.94" r="5.1"/><circle cx="1659" cy="1538.83" r="5.1"/><circle cx="1671.42" cy="1534.49" r="5.1"/>
</g>
<g fill="#008000">
<circle cx="1084.9" cy="1715.86" r="5.1"/><circle cx="1086.95" cy="1716.77" r="5.1"/><circle cx="1089" cy="1718.25" r="5.1"/><circle cx="1091.12" cy="1719.02" r="5.1"/><circle cx="1093.49" cy="1719.71" r="5.1"/><circle cx="1095.85" cy="1721.06" r="5.1"/><circle cx="1098.13" cy="1718.29" r="5.1"/><circle cx="1100.41" cy="1718.79" r="5.1"/><circle cx="1102.1" cy="1720.99" r="5.1"/><circle cx="1103.54" cy="1722.64" r="5.1"/><circle cx="1104.98" cy="1722.42" r="5.1"/><circle cx="1106.39" cy="1726.87" r="5.1"/><circle cx="1107.46" cy="1728.62" r="5.1"/><circle cx="1108.54" cy="1728.62" r="5.1"/><circle cx="1109.61" cy="1731.08" r="5.1"/><circle cx="1111.33" cy="1732.51" r="5.1"/><circle cx="1113.17" cy="1733.57" r="5.1"/><circle cx="1115.01" cy="1738.07" r="5.1"/><circle cx="1116.71" cy="1737.94" r="5.1"/><circle cx="1118.41" cy="1741.12" r="5.1"/><circle cx="1120.11" cy="1740.39" r="5.1"/><circle cx="1122.22" cy="1741.19" r="5.1"/><circle cx="1124.37" cy="1745" r="5.1"/><circle cx="1126.52" cy="1745.83" r="5.1"/><circle cx="1128.26" cy="1748.05" r="5.1"/><circle cx="1129.82" cy="1748.9" r="5.1"/><circle cx="1131.38" cy="1750.21" r="5.1"/><circle cx="1132.99" cy="1752.75" r="5.1"/><circle cx="1134.69" cy="1752.3" r="5.1"/><circle cx="1136.38" cy="1755.43" r="5.1"/><circle cx="1138.16" cy="1756.7" r="5.1"/><circle cx="1140.16" cy="1757.09" r="5.1"/><circle cx="1142.16" cy="1759.88" r="5.1"/><circle cx="1143.78" cy="1760.71" r="5.1"/><circle cx="1145.22" cy="1763.22" r="5.1"/><circle cx="1146.66" cy="1764.71" r="5.1"/><circle cx="1148.12" cy="1766.44" r="5.1"/><circle cx="1149.97" cy="1768.11" r="5.1"/><circle cx="1151.81" cy="1770.42" r="5.1"/><circle cx="1153.62" cy="1773.2" r="5.1"/><circle cx="1155.32" cy="1774.76" r="5.1"/><circle cx="1157.02" cy="1776.22" r="5.1"/><circle cx="1158.73" cy="1777.81" r="5.1"/><circle cx="1160.58" cy="1777.59" r="5.1"/><circle cx="1162.42" cy="1781.33" r="5.1"/><circle cx="1164.31" cy="1780.54" r="5.1"/><circle cx="1166.31" cy="1781.41" r="5.1"/><circle cx="1168.31" cy="1783.95" r="5.1"/><circle cx="1170.41" cy="1785.84" r="5.1"/><circle cx="1172.55" cy="1785.66" r="5.1"/><circle cx="1174.7" cy="1787.71" r="5.1"/><circle cx="1176.8" cy="1787.71" r="5.1"/><circle cx="1178.83" cy="1791.17" r="5.1"/><circle cx="1180.87" cy="1790.8" r="5.1"/><circle cx="1182.91" cy="1792.13" r="5.1"/><circle cx="1185.16" cy="1793.15" r="5.1"/><circle cx="1187.4" cy="1795.09" r="5.1"/><circle cx="1189.65" cy="1796.29" r="5.1"/><circle cx="1191.9" cy="1795.67" r="5.1"/><circle cx="1194.15" cy="1796.23" r="5.1"/><circle cx="1196.39" cy="1797.64" r="5.1"/><circle cx="1198.74" cy="1796.36" r="5.1"/><circle cx="1201.1" cy="1797.92" r="5.1"/><circle cx="1203.47" cy="1799.68" r="5.1"/><circle cx="1205.86" cy="1799.55" r="5.1"/><circle cx="1208.26" cy="1797.31" r="5.1"/><circle cx="1210.66" cy="1799.92" r="5.1"/><circle cx="1213.04" cy="1798.71" r="5.1"/><circle cx="1215.42" cy="1800.92" r="5.1"/><circle cx="1217.81" cy="1799.23" r="5.1"/><circle cx="1220.21" cy="1798.74" r="5.1"/><circle cx="1222.61" cy="1799.81" r="5.1"/><circle cx="1225" cy="1800.83" r="5.1"/><circle cx="1227.39" cy="1799.08" r="5.1"/><circle cx="1229.77" cy="1800.18" r="5.1"/><circle cx="1232.15" cy="1799.46" r="5.1"/><circle cx="1234.55" cy="1798.34" r="5.1"/><circle cx="1236.95" cy="1798.14" r="5.1"/><circle cx="1239.35" cy="1798.69" r="5.1"/><circle cx="1241.73" cy="1798.05" r="5.1"/><circle cx="1244.11" cy="1797.67" r="5.1"/><circle cx="1246.5" cy="1798.4" r="5.1"/><circle cx="1248.9" cy="1799.11" r="5.1"/><circle cx="1251.3" cy="1798.18" r="5.1"/><circle cx="1253.69" cy="1796.94" r="5.1"/><circle cx="1256.07" cy="1797.48" r="5.1"/><circle cx="1258.45" cy="1798.26" r="5.1"/><circle cx="1260.84" cy="1799.3" r="5.1"/><circle cx="1263.23" cy="1798.02" r="5.1"/><circle cx="1265.61" cy="1798.07" r="5.1"/><circle cx="1267.99" cy="1798.65" r="5.1"/><circle cx="1270.36" cy="1798.17" r="5.1"/><circle cx="1272.74" cy="1797.01" r="5.1"/><circle cx="1275" cy="1797.86" r="5.1"/><circle cx="1277.23" cy="1798.2" r="5.1"/><circle cx="1279.46" cy="1796.07" r="5.1"/><circle cx="1281.63" cy="1795.71" r="5.1"/><circle cx="1283.78" cy="1794.92" r="5.1"/><circle cx="1285.92" cy="1793.88" r="5.1"/><circle cx="1288.07" cy="1793.05" r="5.1"/><circle cx="1290.22" cy="1790.47" r="5.1"/><circle cx="1292.36" cy="1790.16" r="5.1"/><circle cx="1294.55" cy="1787.43" r="5.1"/><circle cx="1296.93" cy="1789.56" r="5.1"/><circle cx="1299.31" cy="1787.66" r="5.1"/><circle cx="1301.66" cy="1787.53" r="5.1"/><circle cx="1303.91" cy="1788.02" r="5.1"/><circle cx="1306.16" cy="1785.24" r="5.1"/><circle cx="1308.39" cy="1784.05" r="5.1"/><circle cx="1310.53" cy="1785.01" r="5.1"/><circle cx="1312.68" cy="1783.22" r="5.1"/><circle cx="1314.83" cy="1780.5" r="5.1"/><circle cx="1317.19" cy="1779.96" r="5.1"/><circle cx="1319.57" cy="1780.69" r="5.1"/><circle cx="1321.95" cy="1779.29" r="5.1"/><circle cx="1324.2" cy="1781.09" r="5.1"/><circle cx="1326.45" cy="1778.17" r="5.1"/><circle cx="1328.69" cy="1777.62" r="5.1"/><circle cx="1330.94" cy="1777.14" r="5.1"/><circle cx="1333.19" cy="1776.7" r="5.1"/><circle cx="1335.44" cy="1775.6" r="5.1"/><circle cx="1337.75" cy="1775.59" r="5.1"/><circle cx="1340.08" cy="1775.11" r="5.1"/><circle cx="1342.4" cy="1773.81" r="5.1"/><circle cx="1344.73" cy="1772.15" r="5.1"/><circle cx="1347.06" cy="1774.39" r="5.1"/><circle cx="1349.39" cy="1772.88" r="5.1"/><circle cx="1351.65" cy="1770.14" r="5.1"/><circle cx="1353.9" cy="1770.44" r="5.1"/><circle cx="1356.14" cy="1770.6" r="5.1"/><circle cx="1358.32" cy="1770.35" r="5.1"/><circle cx="1360.46" cy="1766.31" r="5.1"/><circle cx="1362.61" cy="1765.06" r="5.1"/><circle cx="1364.65" cy="1765.31" r="5.1"/><circle cx="1366.57" cy="1763.69" r="5.1"/><circle cx="1368.49" cy="1763.76" r="5.1"/><circle cx="1370.41" cy="1762.1" r="5.1"/><circle cx="1372.13" cy="1758.85" r="5.1"/><circle cx="1373.83" cy="1757.43" r="5.1"/><circle cx="1375.43" cy="1756.18" r="5.1"/><circle cx="1376.83" cy="1755.19" r="5.1"/><circle cx="1378.22" cy="1751.06" r="5.1"/><circle cx="1379.62" cy="1749.71" r="5.1"/><circle cx="1381.54" cy="1747.33" r="5.1"/><circle cx="1383.51" cy="1747.72" r="5.1"/><circle cx="1385.48" cy="1744.37" r="5.1"/><circle cx="1387.44" cy="1745.91" r="5.1"/><circle cx="1389.67" cy="1743.71" r="5.1"/><circle cx="1391.92" cy="1743.02" r="5.1"/><circle cx="1394.16" cy="1740.62" r="5.1"/><circle cx="1396.47" cy="1740.47" r="5.1"/><circle cx="1398.85" cy="1740.93" r="5.1"/><circle cx="1401.23" cy="1741.88" r="5.1"/><circle cx="1403.61" cy="1740.59" r="5.1"/><circle cx="1406.01" cy="1739.78" r="5.1"/><circle cx="1408.41" cy="1742.01" r="5.1"/><circle cx="1410.81" cy="1740.98" r="5.1"/><circle cx="1413.15" cy="1740.08" r="5.1"/><circle cx="1415.48" cy="1738.45" r="5.1"/><circle cx="1417.81" cy="1738.18" r="5.1"/><circle cx="1420.1" cy="1739.41" r="5.1"/><circle cx="1422.35" cy="1736.11" r="5.1"/><circle cx="1424.6" cy="1736.55" r="5.1"/><circle cx="1426.84" cy="1735.99" r="5.1"/><circle cx="1429.22" cy="1734.8" r="5.1"/><circle cx="1431.6" cy="1735.82" r="5.1"/><circle cx="1433.98" cy="1735.98" r="5.1"/><circle cx="1436.03" cy="1734.75" r="5.1"/><circle cx="1437.87" cy="1732.83" r="5.1"/><circle cx="1439.72" cy="1729.59" r="5.1"/><circle cx="1441.62" cy="1727.68" r="5.1"/><circle cx="1443.62" cy="1727.54" r="5.1"/><circle cx="1445.62" cy="1725.82" r="5.1"/><circle cx="1447.79" cy="1724.57" r="5.1"/><circle cx="1450.17" cy="1726.44" r="5.1"/><circle cx="1452.55" cy="1724.05" r="5.1"/><circle cx="1454.92" cy="1725.65" r="5.1"/><circle cx="1457.25" cy="1725.44" r="5.1"/><circle cx="1459.58" cy="1722.24" r="5.1"/><circle cx="1461.91" cy="1724.2" r="5.1"/><circle cx="1464.18" cy="1721.77" r="5.1"/><circle cx="1466.42" cy="1720.33" r="5.1"/><circle cx="1468.67" cy="1719.41" r="5.1"/><circle cx="1470.87" cy="1717.98" r="5.1"/><circle cx="1472.9" cy="1718.19" r="5.1"/><circle cx="1474.94" cy="1716.55" r="5.1"/><circle cx="1476.97" cy="1716.77" r="5.1"/><circle cx="1479.08" cy="1715.6" r="5.1"/><circle cx="1481.33" cy="1712.27" r="5.1"/><circle cx="1483.58" cy="1712.53" r="5.1"/><circle cx="1485.83" cy="1711.65" r="5.1"/><circle cx="1488.2" cy="1710.85" r="5.1"/><circle cx="1490.6" cy="1711.09" r="5.1"/><circle cx="1493" cy="1711.13" r="5.1"/><circle cx="1495.26" cy="1711.89" r="5.1"/><circle cx="1497.41" cy="1709.69" r="5.1"/><circle cx="1499.55" cy="1707.88" r="5.1"/><circle cx="1501.7" cy="1707.16" r="5.1"/><circle cx="1503.75" cy="1706.61" r="5.1"/><circle cx="1505.78" cy="1705.73" r="5.1"/><circle cx="1507.82" cy="1703.44" r="5.1"/><circle cx="1509.85" cy="1703.62" r="5.1"/><circle cx="1511.77" cy="1700.63" r="5.1"/><circle cx="1513.69" cy="1700.64" r="5.1"/><circle cx="1515.61" cy="1699.01" r="5.1"/><circle cx="1517.53" cy="1696.18" r="5.1"/><circle cx="1519.66" cy="1696.92" r="5.1"/><circle cx="1521.8" cy="1694.7" r="5.1"/><circle cx="1523.95" cy="1694.1" r="5.1"/><circle cx="1526.15" cy="1693.55" r="5.1"/><circle cx="1528.54" cy="1693.94" r="5.1"/><circle cx="1530.92" cy="1693.64" r="5.1"/><circle cx="1533.3" cy="1692.71" r="5.1"/><circle cx="1535.55" cy="1694.27" r="5.1"/><circle cx="1537.8" cy="1693.67" r="5.1"/><circle cx="1540.05" cy="1691.64" r="5.1"/><circle cx="1542.33" cy="1691.19" r="5.1"/><circle cx="1544.66" cy="1689.62" r="5.1"/><circle cx="1546.99" cy="1691.05" r="5.1"/><circle cx="1549.31" cy="1689.77" r="5.1"/><circle cx="1551.45" cy="1687.21" r="5.1"/><circle cx="1553.6" cy="1688.04" r="5.1"/><circle cx="1555.75" cy="1687.51" r="5.1"/><circle cx="1557.89" cy="1684.39" r="5.1"/><circle cx="1560.04" cy="1685.39" r="5.1"/><circle cx="1562.19" cy="1682.68" r="5.1"/><circle cx="1564.33" cy="1680.63" r="5.1"/><circle cx="1566.55" cy="1681.44" r="5.1"/><circle cx="1568.8" cy="1679.39" r="5.1"/><circle cx="1571.05" cy="1679.81" r="5.1"/><circle cx="1573.32" cy="1678.59" r="5.1"/><circle cx="1575.7" cy="1676.77" r="5.1"/><circle cx="1578.08" cy="1677.82" r="5.1"/><circle cx="1580.46" cy="1678.55" r="5.1"/><circle cx="1582.73" cy="1676.58" r="5.1"/><circle cx="1584.97" cy="1675.94" r="5.1"/><circle cx="1587.22" cy="1676.13" r="5.1"/><circle cx="1589.47" cy="1673.95" r="5.1"/><circle cx="1591.71" cy="1673.26" r="5.1"/><circle cx="1593.96" cy="1672.7" r="5.1"/><circle cx="1596.21" cy="1672.63" r="5.1"/><circle cx="1598.46" cy="1669.8" r="5.1"/><circle cx="1600.7" cy="1668.61" r="5.1"/><circle cx="1602.95" cy="1669.9" r="5.1"/><circle cx="1605.23" cy="1668.49" r="5.1"/><circle cx="1607.55" cy="1667.1" r="5.1"/><circle cx="1609.88" cy="1668.41" r="5.1"/><circle cx="1612.21" cy="1667.8" r="5.1"/><circle cx="1614.46" cy="1665.87" r="5.1"/><circle cx="1616.71" cy="1666.46" r="5.1"/><circle cx="1618.96" cy="1665.13" r="5.1"/><circle cx="1621.2" cy="1664" r="5.1"/><circle cx="1623.45" cy="1661.7" r="5.1"/><circle cx="1625.7" cy="1659.96" r="5.1"/><circle cx="1627.94" cy="1661.25" r="5.1"/><circle cx="1630.19" cy="1660.59" r="5.1"/><circle cx="1632.44" cy="1658.52" r="5.1"/><circle cx="1634.69" cy="1658.09" r="5.1"/><circle cx="1636.99" cy="1657.77" r="5.1"/><circle cx="1639.37" cy="1656.45" r="5.1"/><circle cx="1641.76" cy="1657.59" r="5.1"/><circle cx="1644.13" cy="1656.82" r="5.1"/><circle cx="1646.46" cy="1655.67" r="5.1"/><circle cx="1648.79" cy="1654.21" r="5.1"/><circle cx="1651.11" cy="1655.05" r="5.1"/><circle cx="1653.48" cy="1653.93" r="5.1"/><circle cx="1655.86" cy="1654.93" r="5.1"/><circle cx="1658.25" cy="1652.86" r="5.1"/><circle cx="1660.63" cy="1653.53" r="5.1"/><circle cx="1663.01" cy="1653.19" r="5.1"/><circle cx="1665.39" cy="1654.17" r="5.1"/><circle cx="1667.77" cy="1654.9" r="5.1"/><circle cx="1670.09" cy="1652.81" r="5.1"/><circle cx="1672.42" cy="1652.07" r="5.1"/><circle cx="1674.75" cy="1652.85" r="5.1"/><circle cx="1677.02" cy="1651.18" r="5.1"/><circle cx="1679.27" cy="1651.31" r="5.1"/><circle cx="1681.51" cy="1649.38" r="5.1"/><circle cx="1683.7" cy="1648.35" r="5.1"/>
</g>
<g fill="#ff0000">
<circle cx="1088.57" cy="1741.22" r="5.1"/><circle cx="1100.57" cy="1753.04" r="5.1"/><circle cx="1114.13" cy="1760.52" r="5.1"/><circle cx="1127.7" cy="1766.61" r="5.1"/><circle cx="1140.22" cy="1769.57" r="5.1"/><circle cx="1154.13" cy="1777.04" r="5.1"/><circle cx="1167.17" cy="1782.09" r="5.1"/><circle cx="1181.43" cy="1786.43" r="5.1"/><circle cx="1193.78" cy="1790.78" r="5.1"/><circle cx="1207.7" cy="1786.09" r="5.1"/><circle cx="1219.87" cy="1787.83" r="5.1"/><circle cx="1233.78" cy="1786.09" r="5.1"/><circle cx="1247.52" cy="1784.7" r="5.1"/><circle cx="1259.7" cy="1783.13" r="5.1"/><circle cx="1272.04" cy="1784.87" r="5.1"/><circle cx="1285.96" cy="1780.35" r="5.1"/><circle cx="1298.13" cy="1777.04" r="5.1"/><circle cx="1312.04" cy="1779.13" r="5.1"/><circle cx="1325.96" cy="1774.43" r="5.1"/><circle cx="1339.35" cy="1769.91" r="5.1"/><circle cx="1351.87" cy="1766.96" r="5.1"/><circle cx="1365.43" cy="1765.22" r="5.1"/><circle cx="1377.61" cy="1761.22" r="5.1"/><circle cx="1391" cy="1757.5" r="5.1"/><circle cx="1404.5" cy="1754.5" r="5.1"/><circle cx="1418" cy="1751" r="5.1"/><circle cx="1431.35" cy="1747.36" r="5.1"/><circle cx="1443.77" cy="1745.79" r="5.1"/><circle cx="1457.96" cy="1740.86" r="5.1"/><circle cx="1471.76" cy="1739.09" r="5.1"/><circle cx="1483.78" cy="1735.93" r="5.1"/><circle cx="1496" cy="1731.6" r="5.1"/><circle cx="1510.19" cy="1727.26" r="5.1"/><circle cx="1523.99" cy="1720.75" r="5.1"/><circle cx="1537.79" cy="1714.84" r="5.1"/><circle cx="1550.2" cy="1707.55" r="5.1"/><circle cx="1562.03" cy="1707.55" r="5.1"/><circle cx="1576.22" cy="1701.44" r="5.1"/><circle cx="1590.02" cy="1695.13" r="5.1"/><circle cx="1602.24" cy="1690.6" r="5.1"/><circle cx="1614.46" cy="1686.26" r="5.1"/><circle cx="1628.26" cy="1682.91" r="5.1"/><circle cx="1640.48" cy="1677" r="5.1"/><circle cx="1654.67" cy="1668.13" r="5.1"/><circle cx="1669.85" cy="1663.2" r="5.1"/><circle cx="1681.67" cy="1663.6" r="5.1"/>
</g>
</g>
<text transform="translate(1084.9,2053.5) scale(1.035,1)" font-family='"DejaVu Sans", "Liberation Sans", sans-serif' font-size="32.5" text-anchor="middle" fill="#000">0.05</text>
<text transform="translate(1284.5,2053.5) scale(1.035,1)" font-family='"DejaVu Sans", "Liberation Sans", sans-serif' font-size="32.5" text-anchor="middle" fill="#000">0.10</text>
<text transform="translate(1484.1,2053.5) scale(1.035,1)" font-family='"DejaVu Sans", "Liberation Sans", sans-serif' font-size="32.5" text-anchor="middle" fill="#000">0.15</text>
<text transform="translate(1683.7,2053.5) scale(1.035,1)" font-family='"DejaVu Sans", "Liberation Sans", sans-serif' font-size="32.5" text-anchor="middle" fill="#000">0.20</text>
<text transform="translate(1071.9,2031.17) scale(1.035,1)" font-family='"DejaVu Sans", "Liberation Sans", sans-serif' font-size="32.5" text-anchor="end" fill="#000">0.0000</text>
<text transform="translate(1071.9,1947.27) scale(1.035,1)" font-family='"DejaVu Sans", "Liberation Sans", sans-serif' font-size="32.5" text-anchor="end" fill="#000">0.0005</text>
<text transform="translate(1071.9,1865.88) scale(1.035,1)" font-family='"DejaVu Sans", "Liberation Sans", sans-serif' font-size="32.5" text-anchor="end" fill="#000">0.0010</text>
<text transform="translate(1071.9,1783.97) scale(1.035,1)" font-family='"DejaVu Sans", "Liberation Sans", sans-serif' font-size="32.5" text-anchor="end" fill="#000">0.0015</text>
<text transform="translate(1071.9,1700.17) scale(1.035,1)" font-family='"DejaVu Sans", "Liberation Sans", sans-serif' font-size="32.5" text-anchor="end" fill="#000">0.0020</text>
<text transform="translate(1071.9,1618.08) scale(1.035,1)" font-family='"DejaVu Sans", "Liberation Sans", sans-serif' font-size="32.5" text-anchor="end" fill="#000">0.0025</text>
<text transform="translate(1071.9,1536.67) scale(1.035,1)" font-family='"DejaVu Sans", "Liberation Sans", sans-serif' font-size="32.5" text-anchor="end" fill="#000">0.0030</text>
<text transform="translate(1071.9,1453.27) scale(1.035,1)" font-family='"DejaVu Sans", "Liberation Sans", sans-serif' font-size="32.5" text-anchor="end" fill="#000">0.0035</text>
<g transform="translate(939,1773.1) rotate(-90) scale(0.966,1)"><text font-family='"DejaVu Sans", "Liberation Sans", sans-serif' font-size="33.6" x="0" y="0" font-style="italic">MAE</text><text font-family='"DejaVu Sans", "Liberation Sans", sans-serif' font-size="23.52" x="73.89" y="4.03" font-style="italic">n</text></g>
<text transform="translate(1384.5,2092) scale(1.035,1)" font-family='"DejaVu Sans", "Liberation Sans", sans-serif' font-size="32.5" text-anchor="middle" fill="#000">x</text>
<rect x="1101.4" y="1803.1" width="353.9" height="198.9" rx="5" ry="5" fill="#fff" fill-opacity="0.8" stroke="#cccccc" stroke-opacity="0.8" stroke-width="1.4"/>
<circle cx="1149.5" cy="1829.3" r="5.1" fill="#000000"/>
<text transform="translate(1210,1842.14) scale(1.035,1)" font-family='"DejaVu Sans", "Liberation Sans", sans-serif' font-size="32.5" text-anchor="start" fill="#000">N=60 T=1.55</text>
<circle cx="1149.5" cy="1876.4" r="5.1" fill="#0000ff"/>
<text transform="translate(1210,1889.24) scale(1.035,1)" font-family='"DejaVu Sans", "Liberation Sans", sans-serif' font-size="32.5" text-anchor="start" fill="#000">N=60 T=1.66</text>
<circle cx="1149.5" cy="1923.5" r="5.1" fill="#008000"/>
<text transform="translate(1210,1936.34) scale(1.035,1)" font-family='"DejaVu Sans", "Liberation Sans", sans-serif' font-size="32.5" text-anchor="start" fill="#000">N=80 T=1.55</text>
<circle cx="1149.5" cy="1970.6" r="5.1" fill="#ff0000"/>
<text transform="translate(1210,1983.44) scale(1.035,1)" font-family='"DejaVu Sans", "Liberation Sans", sans-serif' font-size="32.5" text-anchor="start" fill="#000">N=80 T=1.66</text>
</g>
<rect x="1084.9" y="1440.6" width="598.8" height="577.9" fill="none" stroke="#6c6c6c" stroke-width="1.9"/>
<line x1="1084.9" y1="2018.5" x2="1084.9" y2="2024.5" stroke="#6c6c6c" stroke-width="1.9"/>
<line x1="1284.5" y1="2018.5" x2="1284.5" y2="2024.5" stroke="#6c6c6c" stroke-width="1.9"/>
<line x1="1484.1" y1="2018.5" x2="1484.1" y2="2024.5" stroke="#6c6c6c" stroke-width="1.9"/>
<line x1="1683.7" y1="2018.5" x2="1683.7" y2="2024.5" stroke="#6c6c6c" stroke-width="1.9"/>
<line x1="1078.9" y1="2018.5" x2="1084.9" y2="2018.5" stroke="#6c6c6c" stroke-width="1.9"/>
<line x1="1078.9" y1="1934.6" x2="1084.9" y2="1934.6" stroke="#6c6c6c" stroke-width="1.9"/>
<line x1="1078.9" y1="1853.2" x2="1084.9" y2="1853.2" stroke="#6c6c6c" stroke-width="1.9"/>
<line x1="1078.9" y1="1771.3" x2="1084.9" y2="1771.3" stroke="#6c6c6c" stroke-width="1.9"/>
<line x1="1078.9" y1="1687.5" x2="1084.9" y2="1687.5" stroke="#6c6c6c" stroke-width="1.9"/>
<line x1="1078.9" y1="1605.4" x2="1084.9" y2="1605.4" stroke="#6c6c6c" stroke-width="1.9"/>
<line x1="1078.9" y1="1524" x2="1084.9" y2="1524" stroke="#6c6c6c" stroke-width="1.9"/>
<line x1="1078.9" y1="1440.6" x2="1084.9" y2="1440.6" stroke="#6c6c6c" stroke-width="1.9"/>
<text transform="translate(866.5,1469.6) scale(1.0,1)" font-family='"Liberation Serif", "DejaVu Serif", serif' font-size="50" text-anchor="start" fill="#000" stroke="#000" stroke-width="0.3">(f)</text>
</svg>
</body></html>
